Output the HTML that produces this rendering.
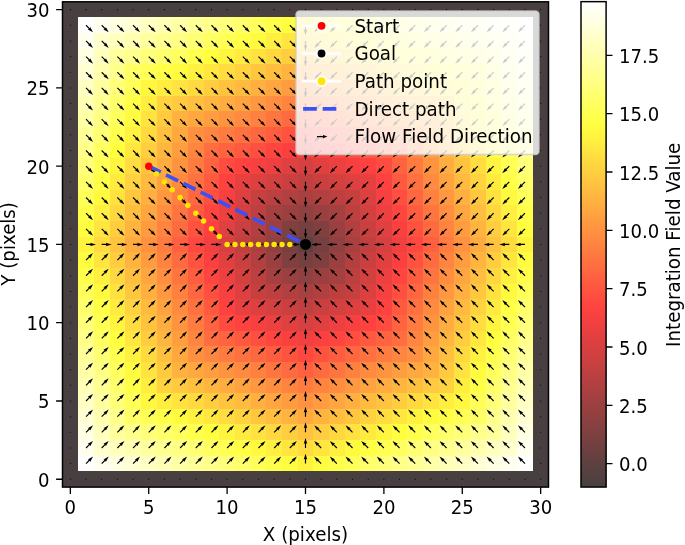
<!DOCTYPE html><html><head><meta charset="utf-8"><title>Flow Field</title><style>html,body{margin:0;padding:0;background:#fff}svg{display:block}</style></head><body><svg width="685" height="545" viewBox="0 0 685 545"><rect width="685" height="545" fill="#fff"/><g shape-rendering="crispEdges"><rect x="62.50" y="471.45" width="15.68" height="15.65" fill="#484040"/><rect x="78.18" y="471.45" width="15.68" height="15.65" fill="#484040"/><rect x="93.85" y="471.45" width="15.68" height="15.65" fill="#484040"/><rect x="109.53" y="471.45" width="15.68" height="15.65" fill="#484040"/><rect x="125.21" y="471.45" width="15.68" height="15.65" fill="#484040"/><rect x="140.89" y="471.45" width="15.68" height="15.65" fill="#484040"/><rect x="156.56" y="471.45" width="15.68" height="15.65" fill="#484040"/><rect x="172.24" y="471.45" width="15.68" height="15.65" fill="#484040"/><rect x="187.92" y="471.45" width="15.68" height="15.65" fill="#484040"/><rect x="203.60" y="471.45" width="15.68" height="15.65" fill="#484040"/><rect x="219.27" y="471.45" width="15.68" height="15.65" fill="#484040"/><rect x="234.95" y="471.45" width="15.68" height="15.65" fill="#484040"/><rect x="250.63" y="471.45" width="15.68" height="15.65" fill="#484040"/><rect x="266.31" y="471.45" width="15.68" height="15.65" fill="#484040"/><rect x="281.98" y="471.45" width="15.68" height="15.65" fill="#484040"/><rect x="297.66" y="471.45" width="15.68" height="15.65" fill="#484040"/><rect x="313.34" y="471.45" width="15.68" height="15.65" fill="#484040"/><rect x="329.02" y="471.45" width="15.68" height="15.65" fill="#484040"/><rect x="344.69" y="471.45" width="15.68" height="15.65" fill="#484040"/><rect x="360.37" y="471.45" width="15.68" height="15.65" fill="#484040"/><rect x="376.05" y="471.45" width="15.68" height="15.65" fill="#484040"/><rect x="391.73" y="471.45" width="15.68" height="15.65" fill="#484040"/><rect x="407.40" y="471.45" width="15.68" height="15.65" fill="#484040"/><rect x="423.08" y="471.45" width="15.68" height="15.65" fill="#484040"/><rect x="438.76" y="471.45" width="15.68" height="15.65" fill="#484040"/><rect x="454.44" y="471.45" width="15.68" height="15.65" fill="#484040"/><rect x="470.11" y="471.45" width="15.68" height="15.65" fill="#484040"/><rect x="485.79" y="471.45" width="15.68" height="15.65" fill="#484040"/><rect x="501.47" y="471.45" width="15.68" height="15.65" fill="#484040"/><rect x="517.15" y="471.45" width="15.68" height="15.65" fill="#484040"/><rect x="532.82" y="471.45" width="15.68" height="15.65" fill="#484040"/><rect x="62.50" y="455.79" width="15.68" height="15.65" fill="#484040"/><rect x="78.18" y="455.79" width="15.68" height="15.65" fill="#ffffff"/><rect x="93.85" y="455.79" width="15.68" height="15.65" fill="#fffff0"/><rect x="109.53" y="455.79" width="15.68" height="15.65" fill="#ffffe1"/><rect x="125.21" y="455.79" width="15.68" height="15.65" fill="#ffffd3"/><rect x="140.89" y="455.79" width="15.68" height="15.65" fill="#ffffc4"/><rect x="156.56" y="455.79" width="15.68" height="15.65" fill="#ffffb5"/><rect x="172.24" y="455.79" width="15.68" height="15.65" fill="#ffffa6"/><rect x="187.92" y="455.79" width="15.68" height="15.65" fill="#ffff98"/><rect x="203.60" y="455.79" width="15.68" height="15.65" fill="#ffff89"/><rect x="219.27" y="455.79" width="15.68" height="15.65" fill="#ffff7a"/><rect x="234.95" y="455.79" width="15.68" height="15.65" fill="#ffff6b"/><rect x="250.63" y="455.79" width="15.68" height="15.65" fill="#ffff5a"/><rect x="266.31" y="455.79" width="15.68" height="15.65" fill="#ffff4b"/><rect x="281.98" y="455.79" width="15.68" height="15.65" fill="#fffd40"/><rect x="297.66" y="455.79" width="15.68" height="15.65" fill="#fff340"/><rect x="313.34" y="455.79" width="15.68" height="15.65" fill="#fffd40"/><rect x="329.02" y="455.79" width="15.68" height="15.65" fill="#ffff4b"/><rect x="344.69" y="455.79" width="15.68" height="15.65" fill="#ffff5a"/><rect x="360.37" y="455.79" width="15.68" height="15.65" fill="#ffff6b"/><rect x="376.05" y="455.79" width="15.68" height="15.65" fill="#ffff7a"/><rect x="391.73" y="455.79" width="15.68" height="15.65" fill="#ffff89"/><rect x="407.40" y="455.79" width="15.68" height="15.65" fill="#ffff98"/><rect x="423.08" y="455.79" width="15.68" height="15.65" fill="#ffffa6"/><rect x="438.76" y="455.79" width="15.68" height="15.65" fill="#ffffb5"/><rect x="454.44" y="455.79" width="15.68" height="15.65" fill="#ffffc4"/><rect x="470.11" y="455.79" width="15.68" height="15.65" fill="#ffffd3"/><rect x="485.79" y="455.79" width="15.68" height="15.65" fill="#ffffe1"/><rect x="501.47" y="455.79" width="15.68" height="15.65" fill="#fffff0"/><rect x="517.15" y="455.79" width="15.68" height="15.65" fill="#ffffff"/><rect x="532.82" y="455.79" width="15.68" height="15.65" fill="#484040"/><rect x="62.50" y="440.14" width="15.68" height="15.65" fill="#484040"/><rect x="78.18" y="440.14" width="15.68" height="15.65" fill="#fffff0"/><rect x="93.85" y="440.14" width="15.68" height="15.65" fill="#ffffcd"/><rect x="109.53" y="440.14" width="15.68" height="15.65" fill="#ffffbe"/><rect x="125.21" y="440.14" width="15.68" height="15.65" fill="#ffffaf"/><rect x="140.89" y="440.14" width="15.68" height="15.65" fill="#ffffa0"/><rect x="156.56" y="440.14" width="15.68" height="15.65" fill="#ffff92"/><rect x="172.24" y="440.14" width="15.68" height="15.65" fill="#ffff83"/><rect x="187.92" y="440.14" width="15.68" height="15.65" fill="#ffff74"/><rect x="203.60" y="440.14" width="15.68" height="15.65" fill="#ffff62"/><rect x="219.27" y="440.14" width="15.68" height="15.65" fill="#ffff54"/><rect x="234.95" y="440.14" width="15.68" height="15.65" fill="#ffff45"/><rect x="250.63" y="440.14" width="15.68" height="15.65" fill="#fff940"/><rect x="266.31" y="440.14" width="15.68" height="15.65" fill="#ffef40"/><rect x="281.98" y="440.14" width="15.68" height="15.65" fill="#ffe540"/><rect x="297.66" y="440.14" width="15.68" height="15.65" fill="#ffdb40"/><rect x="313.34" y="440.14" width="15.68" height="15.65" fill="#ffe540"/><rect x="329.02" y="440.14" width="15.68" height="15.65" fill="#ffef40"/><rect x="344.69" y="440.14" width="15.68" height="15.65" fill="#fff940"/><rect x="360.37" y="440.14" width="15.68" height="15.65" fill="#ffff45"/><rect x="376.05" y="440.14" width="15.68" height="15.65" fill="#ffff54"/><rect x="391.73" y="440.14" width="15.68" height="15.65" fill="#ffff62"/><rect x="407.40" y="440.14" width="15.68" height="15.65" fill="#ffff74"/><rect x="423.08" y="440.14" width="15.68" height="15.65" fill="#ffff83"/><rect x="438.76" y="440.14" width="15.68" height="15.65" fill="#ffff92"/><rect x="454.44" y="440.14" width="15.68" height="15.65" fill="#ffffa0"/><rect x="470.11" y="440.14" width="15.68" height="15.65" fill="#ffffaf"/><rect x="485.79" y="440.14" width="15.68" height="15.65" fill="#ffffbe"/><rect x="501.47" y="440.14" width="15.68" height="15.65" fill="#ffffcd"/><rect x="517.15" y="440.14" width="15.68" height="15.65" fill="#fffff0"/><rect x="532.82" y="440.14" width="15.68" height="15.65" fill="#484040"/><rect x="62.50" y="424.48" width="15.68" height="15.65" fill="#484040"/><rect x="78.18" y="424.48" width="15.68" height="15.65" fill="#ffffe1"/><rect x="93.85" y="424.48" width="15.68" height="15.65" fill="#ffffbe"/><rect x="109.53" y="424.48" width="15.68" height="15.65" fill="#ffff9b"/><rect x="125.21" y="424.48" width="15.68" height="15.65" fill="#ffff8c"/><rect x="140.89" y="424.48" width="15.68" height="15.65" fill="#ffff7a"/><rect x="156.56" y="424.48" width="15.68" height="15.65" fill="#ffff6b"/><rect x="172.24" y="424.48" width="15.68" height="15.65" fill="#ffff5d"/><rect x="187.92" y="424.48" width="15.68" height="15.65" fill="#ffff4e"/><rect x="203.60" y="424.48" width="15.68" height="15.65" fill="#ffff40"/><rect x="219.27" y="424.48" width="15.68" height="15.65" fill="#fff540"/><rect x="234.95" y="424.48" width="15.68" height="15.65" fill="#ffeb40"/><rect x="250.63" y="424.48" width="15.68" height="15.65" fill="#ffe140"/><rect x="266.31" y="424.48" width="15.68" height="15.65" fill="#ffd740"/><rect x="281.98" y="424.48" width="15.68" height="15.65" fill="#ffcd40"/><rect x="297.66" y="424.48" width="15.68" height="15.65" fill="#ffc340"/><rect x="313.34" y="424.48" width="15.68" height="15.65" fill="#ffcd40"/><rect x="329.02" y="424.48" width="15.68" height="15.65" fill="#ffd740"/><rect x="344.69" y="424.48" width="15.68" height="15.65" fill="#ffe140"/><rect x="360.37" y="424.48" width="15.68" height="15.65" fill="#ffeb40"/><rect x="376.05" y="424.48" width="15.68" height="15.65" fill="#fff540"/><rect x="391.73" y="424.48" width="15.68" height="15.65" fill="#ffff40"/><rect x="407.40" y="424.48" width="15.68" height="15.65" fill="#ffff4e"/><rect x="423.08" y="424.48" width="15.68" height="15.65" fill="#ffff5d"/><rect x="438.76" y="424.48" width="15.68" height="15.65" fill="#ffff6b"/><rect x="454.44" y="424.48" width="15.68" height="15.65" fill="#ffff7a"/><rect x="470.11" y="424.48" width="15.68" height="15.65" fill="#ffff8c"/><rect x="485.79" y="424.48" width="15.68" height="15.65" fill="#ffff9b"/><rect x="501.47" y="424.48" width="15.68" height="15.65" fill="#ffffbe"/><rect x="517.15" y="424.48" width="15.68" height="15.65" fill="#ffffe1"/><rect x="532.82" y="424.48" width="15.68" height="15.65" fill="#484040"/><rect x="62.50" y="408.83" width="15.68" height="15.65" fill="#484040"/><rect x="78.18" y="408.83" width="15.68" height="15.65" fill="#ffffd3"/><rect x="93.85" y="408.83" width="15.68" height="15.65" fill="#ffffaf"/><rect x="109.53" y="408.83" width="15.68" height="15.65" fill="#ffff8c"/><rect x="125.21" y="408.83" width="15.68" height="15.65" fill="#ffff65"/><rect x="140.89" y="408.83" width="15.68" height="15.65" fill="#ffff57"/><rect x="156.56" y="408.83" width="15.68" height="15.65" fill="#ffff48"/><rect x="172.24" y="408.83" width="15.68" height="15.65" fill="#fffb40"/><rect x="187.92" y="408.83" width="15.68" height="15.65" fill="#fff140"/><rect x="203.60" y="408.83" width="15.68" height="15.65" fill="#ffe740"/><rect x="219.27" y="408.83" width="15.68" height="15.65" fill="#ffdd40"/><rect x="234.95" y="408.83" width="15.68" height="15.65" fill="#ffd340"/><rect x="250.63" y="408.83" width="15.68" height="15.65" fill="#ffc740"/><rect x="266.31" y="408.83" width="15.68" height="15.65" fill="#ffbe40"/><rect x="281.98" y="408.83" width="15.68" height="15.65" fill="#ffb440"/><rect x="297.66" y="408.83" width="15.68" height="15.65" fill="#ffaa40"/><rect x="313.34" y="408.83" width="15.68" height="15.65" fill="#ffb440"/><rect x="329.02" y="408.83" width="15.68" height="15.65" fill="#ffbe40"/><rect x="344.69" y="408.83" width="15.68" height="15.65" fill="#ffc740"/><rect x="360.37" y="408.83" width="15.68" height="15.65" fill="#ffd340"/><rect x="376.05" y="408.83" width="15.68" height="15.65" fill="#ffdd40"/><rect x="391.73" y="408.83" width="15.68" height="15.65" fill="#ffe740"/><rect x="407.40" y="408.83" width="15.68" height="15.65" fill="#fff140"/><rect x="423.08" y="408.83" width="15.68" height="15.65" fill="#fffb40"/><rect x="438.76" y="408.83" width="15.68" height="15.65" fill="#ffff48"/><rect x="454.44" y="408.83" width="15.68" height="15.65" fill="#ffff57"/><rect x="470.11" y="408.83" width="15.68" height="15.65" fill="#ffff65"/><rect x="485.79" y="408.83" width="15.68" height="15.65" fill="#ffff8c"/><rect x="501.47" y="408.83" width="15.68" height="15.65" fill="#ffffaf"/><rect x="517.15" y="408.83" width="15.68" height="15.65" fill="#ffffd3"/><rect x="532.82" y="408.83" width="15.68" height="15.65" fill="#484040"/><rect x="62.50" y="393.17" width="15.68" height="15.65" fill="#484040"/><rect x="78.18" y="393.17" width="15.68" height="15.65" fill="#ffffc4"/><rect x="93.85" y="393.17" width="15.68" height="15.65" fill="#ffffa0"/><rect x="109.53" y="393.17" width="15.68" height="15.65" fill="#ffff7a"/><rect x="125.21" y="393.17" width="15.68" height="15.65" fill="#ffff57"/><rect x="140.89" y="393.17" width="15.68" height="15.65" fill="#fff740"/><rect x="156.56" y="393.17" width="15.68" height="15.65" fill="#ffed40"/><rect x="172.24" y="393.17" width="15.68" height="15.65" fill="#ffe340"/><rect x="187.92" y="393.17" width="15.68" height="15.65" fill="#ffd940"/><rect x="203.60" y="393.17" width="15.68" height="15.65" fill="#ffcd40"/><rect x="219.27" y="393.17" width="15.68" height="15.65" fill="#ffc340"/><rect x="234.95" y="393.17" width="15.68" height="15.65" fill="#ffba40"/><rect x="250.63" y="393.17" width="15.68" height="15.65" fill="#ffb040"/><rect x="266.31" y="393.17" width="15.68" height="15.65" fill="#ffa640"/><rect x="281.98" y="393.17" width="15.68" height="15.65" fill="#ff9c40"/><rect x="297.66" y="393.17" width="15.68" height="15.65" fill="#ff9240"/><rect x="313.34" y="393.17" width="15.68" height="15.65" fill="#ff9c40"/><rect x="329.02" y="393.17" width="15.68" height="15.65" fill="#ffa640"/><rect x="344.69" y="393.17" width="15.68" height="15.65" fill="#ffb040"/><rect x="360.37" y="393.17" width="15.68" height="15.65" fill="#ffba40"/><rect x="376.05" y="393.17" width="15.68" height="15.65" fill="#ffc340"/><rect x="391.73" y="393.17" width="15.68" height="15.65" fill="#ffcd40"/><rect x="407.40" y="393.17" width="15.68" height="15.65" fill="#ffd940"/><rect x="423.08" y="393.17" width="15.68" height="15.65" fill="#ffe340"/><rect x="438.76" y="393.17" width="15.68" height="15.65" fill="#ffed40"/><rect x="454.44" y="393.17" width="15.68" height="15.65" fill="#fff740"/><rect x="470.11" y="393.17" width="15.68" height="15.65" fill="#ffff57"/><rect x="485.79" y="393.17" width="15.68" height="15.65" fill="#ffff7a"/><rect x="501.47" y="393.17" width="15.68" height="15.65" fill="#ffffa0"/><rect x="517.15" y="393.17" width="15.68" height="15.65" fill="#ffffc4"/><rect x="532.82" y="393.17" width="15.68" height="15.65" fill="#484040"/><rect x="62.50" y="377.52" width="15.68" height="15.65" fill="#484040"/><rect x="78.18" y="377.52" width="15.68" height="15.65" fill="#ffffb5"/><rect x="93.85" y="377.52" width="15.68" height="15.65" fill="#ffff92"/><rect x="109.53" y="377.52" width="15.68" height="15.65" fill="#ffff6b"/><rect x="125.21" y="377.52" width="15.68" height="15.65" fill="#ffff48"/><rect x="140.89" y="377.52" width="15.68" height="15.65" fill="#ffed40"/><rect x="156.56" y="377.52" width="15.68" height="15.65" fill="#ffd340"/><rect x="172.24" y="377.52" width="15.68" height="15.65" fill="#ffc940"/><rect x="187.92" y="377.52" width="15.68" height="15.65" fill="#ffc040"/><rect x="203.60" y="377.52" width="15.68" height="15.65" fill="#ffb640"/><rect x="219.27" y="377.52" width="15.68" height="15.65" fill="#ffac40"/><rect x="234.95" y="377.52" width="15.68" height="15.65" fill="#ffa240"/><rect x="250.63" y="377.52" width="15.68" height="15.65" fill="#ff9840"/><rect x="266.31" y="377.52" width="15.68" height="15.65" fill="#ff8e40"/><rect x="281.98" y="377.52" width="15.68" height="15.65" fill="#ff8440"/><rect x="297.66" y="377.52" width="15.68" height="15.65" fill="#ff7b40"/><rect x="313.34" y="377.52" width="15.68" height="15.65" fill="#ff8440"/><rect x="329.02" y="377.52" width="15.68" height="15.65" fill="#ff8e40"/><rect x="344.69" y="377.52" width="15.68" height="15.65" fill="#ff9840"/><rect x="360.37" y="377.52" width="15.68" height="15.65" fill="#ffa240"/><rect x="376.05" y="377.52" width="15.68" height="15.65" fill="#ffac40"/><rect x="391.73" y="377.52" width="15.68" height="15.65" fill="#ffb640"/><rect x="407.40" y="377.52" width="15.68" height="15.65" fill="#ffc040"/><rect x="423.08" y="377.52" width="15.68" height="15.65" fill="#ffc940"/><rect x="438.76" y="377.52" width="15.68" height="15.65" fill="#ffd340"/><rect x="454.44" y="377.52" width="15.68" height="15.65" fill="#ffed40"/><rect x="470.11" y="377.52" width="15.68" height="15.65" fill="#ffff48"/><rect x="485.79" y="377.52" width="15.68" height="15.65" fill="#ffff6b"/><rect x="501.47" y="377.52" width="15.68" height="15.65" fill="#ffff92"/><rect x="517.15" y="377.52" width="15.68" height="15.65" fill="#ffffb5"/><rect x="532.82" y="377.52" width="15.68" height="15.65" fill="#484040"/><rect x="62.50" y="361.86" width="15.68" height="15.65" fill="#484040"/><rect x="78.18" y="361.86" width="15.68" height="15.65" fill="#ffffa6"/><rect x="93.85" y="361.86" width="15.68" height="15.65" fill="#ffff83"/><rect x="109.53" y="361.86" width="15.68" height="15.65" fill="#ffff5d"/><rect x="125.21" y="361.86" width="15.68" height="15.65" fill="#fffb40"/><rect x="140.89" y="361.86" width="15.68" height="15.65" fill="#ffe340"/><rect x="156.56" y="361.86" width="15.68" height="15.65" fill="#ffc940"/><rect x="172.24" y="361.86" width="15.68" height="15.65" fill="#ffb240"/><rect x="187.92" y="361.86" width="15.68" height="15.65" fill="#ffa840"/><rect x="203.60" y="361.86" width="15.68" height="15.65" fill="#ff9e40"/><rect x="219.27" y="361.86" width="15.68" height="15.65" fill="#ff9440"/><rect x="234.95" y="361.86" width="15.68" height="15.65" fill="#ff8a40"/><rect x="250.63" y="361.86" width="15.68" height="15.65" fill="#ff8140"/><rect x="266.31" y="361.86" width="15.68" height="15.65" fill="#ff7540"/><rect x="281.98" y="361.86" width="15.68" height="15.65" fill="#ff6b40"/><rect x="297.66" y="361.86" width="15.68" height="15.65" fill="#ff6140"/><rect x="313.34" y="361.86" width="15.68" height="15.65" fill="#ff6b40"/><rect x="329.02" y="361.86" width="15.68" height="15.65" fill="#ff7540"/><rect x="344.69" y="361.86" width="15.68" height="15.65" fill="#ff8140"/><rect x="360.37" y="361.86" width="15.68" height="15.65" fill="#ff8a40"/><rect x="376.05" y="361.86" width="15.68" height="15.65" fill="#ff9440"/><rect x="391.73" y="361.86" width="15.68" height="15.65" fill="#ff9e40"/><rect x="407.40" y="361.86" width="15.68" height="15.65" fill="#ffa840"/><rect x="423.08" y="361.86" width="15.68" height="15.65" fill="#ffb240"/><rect x="438.76" y="361.86" width="15.68" height="15.65" fill="#ffc940"/><rect x="454.44" y="361.86" width="15.68" height="15.65" fill="#ffe340"/><rect x="470.11" y="361.86" width="15.68" height="15.65" fill="#fffb40"/><rect x="485.79" y="361.86" width="15.68" height="15.65" fill="#ffff5d"/><rect x="501.47" y="361.86" width="15.68" height="15.65" fill="#ffff83"/><rect x="517.15" y="361.86" width="15.68" height="15.65" fill="#ffffa6"/><rect x="532.82" y="361.86" width="15.68" height="15.65" fill="#484040"/><rect x="62.50" y="346.21" width="15.68" height="15.65" fill="#484040"/><rect x="78.18" y="346.21" width="15.68" height="15.65" fill="#ffff98"/><rect x="93.85" y="346.21" width="15.68" height="15.65" fill="#ffff74"/><rect x="109.53" y="346.21" width="15.68" height="15.65" fill="#ffff4e"/><rect x="125.21" y="346.21" width="15.68" height="15.65" fill="#fff140"/><rect x="140.89" y="346.21" width="15.68" height="15.65" fill="#ffd940"/><rect x="156.56" y="346.21" width="15.68" height="15.65" fill="#ffc040"/><rect x="172.24" y="346.21" width="15.68" height="15.65" fill="#ffa840"/><rect x="187.92" y="346.21" width="15.68" height="15.65" fill="#ff9040"/><rect x="203.60" y="346.21" width="15.68" height="15.65" fill="#ff8640"/><rect x="219.27" y="346.21" width="15.68" height="15.65" fill="#ff7b40"/><rect x="234.95" y="346.21" width="15.68" height="15.65" fill="#ff7140"/><rect x="250.63" y="346.21" width="15.68" height="15.65" fill="#ff6740"/><rect x="266.31" y="346.21" width="15.68" height="15.65" fill="#ff5d40"/><rect x="281.98" y="346.21" width="15.68" height="15.65" fill="#ff5340"/><rect x="297.66" y="346.21" width="15.68" height="15.65" fill="#ff4940"/><rect x="313.34" y="346.21" width="15.68" height="15.65" fill="#ff5340"/><rect x="329.02" y="346.21" width="15.68" height="15.65" fill="#ff5d40"/><rect x="344.69" y="346.21" width="15.68" height="15.65" fill="#ff6740"/><rect x="360.37" y="346.21" width="15.68" height="15.65" fill="#ff7140"/><rect x="376.05" y="346.21" width="15.68" height="15.65" fill="#ff7b40"/><rect x="391.73" y="346.21" width="15.68" height="15.65" fill="#ff8640"/><rect x="407.40" y="346.21" width="15.68" height="15.65" fill="#ff9040"/><rect x="423.08" y="346.21" width="15.68" height="15.65" fill="#ffa840"/><rect x="438.76" y="346.21" width="15.68" height="15.65" fill="#ffc040"/><rect x="454.44" y="346.21" width="15.68" height="15.65" fill="#ffd940"/><rect x="470.11" y="346.21" width="15.68" height="15.65" fill="#fff140"/><rect x="485.79" y="346.21" width="15.68" height="15.65" fill="#ffff4e"/><rect x="501.47" y="346.21" width="15.68" height="15.65" fill="#ffff74"/><rect x="517.15" y="346.21" width="15.68" height="15.65" fill="#ffff98"/><rect x="532.82" y="346.21" width="15.68" height="15.65" fill="#484040"/><rect x="62.50" y="330.55" width="15.68" height="15.65" fill="#484040"/><rect x="78.18" y="330.55" width="15.68" height="15.65" fill="#ffff89"/><rect x="93.85" y="330.55" width="15.68" height="15.65" fill="#ffff62"/><rect x="109.53" y="330.55" width="15.68" height="15.65" fill="#ffff40"/><rect x="125.21" y="330.55" width="15.68" height="15.65" fill="#ffe740"/><rect x="140.89" y="330.55" width="15.68" height="15.65" fill="#ffcd40"/><rect x="156.56" y="330.55" width="15.68" height="15.65" fill="#ffb640"/><rect x="172.24" y="330.55" width="15.68" height="15.65" fill="#ff9e40"/><rect x="187.92" y="330.55" width="15.68" height="15.65" fill="#ff8640"/><rect x="203.60" y="330.55" width="15.68" height="15.65" fill="#ff6d40"/><rect x="219.27" y="330.55" width="15.68" height="15.65" fill="#ff6340"/><rect x="234.95" y="330.55" width="15.68" height="15.65" fill="#ff5940"/><rect x="250.63" y="330.55" width="15.68" height="15.65" fill="#ff4f40"/><rect x="266.31" y="330.55" width="15.68" height="15.65" fill="#ff4540"/><rect x="281.98" y="330.55" width="15.68" height="15.65" fill="#fb4040"/><rect x="297.66" y="330.55" width="15.68" height="15.65" fill="#f14040"/><rect x="313.34" y="330.55" width="15.68" height="15.65" fill="#fb4040"/><rect x="329.02" y="330.55" width="15.68" height="15.65" fill="#ff4540"/><rect x="344.69" y="330.55" width="15.68" height="15.65" fill="#ff4f40"/><rect x="360.37" y="330.55" width="15.68" height="15.65" fill="#ff5940"/><rect x="376.05" y="330.55" width="15.68" height="15.65" fill="#ff6340"/><rect x="391.73" y="330.55" width="15.68" height="15.65" fill="#ff6d40"/><rect x="407.40" y="330.55" width="15.68" height="15.65" fill="#ff8640"/><rect x="423.08" y="330.55" width="15.68" height="15.65" fill="#ff9e40"/><rect x="438.76" y="330.55" width="15.68" height="15.65" fill="#ffb640"/><rect x="454.44" y="330.55" width="15.68" height="15.65" fill="#ffcd40"/><rect x="470.11" y="330.55" width="15.68" height="15.65" fill="#ffe740"/><rect x="485.79" y="330.55" width="15.68" height="15.65" fill="#ffff40"/><rect x="501.47" y="330.55" width="15.68" height="15.65" fill="#ffff62"/><rect x="517.15" y="330.55" width="15.68" height="15.65" fill="#ffff89"/><rect x="532.82" y="330.55" width="15.68" height="15.65" fill="#484040"/><rect x="62.50" y="314.90" width="15.68" height="15.65" fill="#484040"/><rect x="78.18" y="314.90" width="15.68" height="15.65" fill="#ffff7a"/><rect x="93.85" y="314.90" width="15.68" height="15.65" fill="#ffff54"/><rect x="109.53" y="314.90" width="15.68" height="15.65" fill="#fff540"/><rect x="125.21" y="314.90" width="15.68" height="15.65" fill="#ffdd40"/><rect x="140.89" y="314.90" width="15.68" height="15.65" fill="#ffc340"/><rect x="156.56" y="314.90" width="15.68" height="15.65" fill="#ffac40"/><rect x="172.24" y="314.90" width="15.68" height="15.65" fill="#ff9440"/><rect x="187.92" y="314.90" width="15.68" height="15.65" fill="#ff7b40"/><rect x="203.60" y="314.90" width="15.68" height="15.65" fill="#ff6340"/><rect x="219.27" y="314.90" width="15.68" height="15.65" fill="#ff4b40"/><rect x="234.95" y="314.90" width="15.68" height="15.65" fill="#ff4240"/><rect x="250.63" y="314.90" width="15.68" height="15.65" fill="#f74040"/><rect x="266.31" y="314.90" width="15.68" height="15.65" fill="#ed4040"/><rect x="281.98" y="314.90" width="15.68" height="15.65" fill="#e14040"/><rect x="297.66" y="314.90" width="15.68" height="15.65" fill="#d74040"/><rect x="313.34" y="314.90" width="15.68" height="15.65" fill="#e14040"/><rect x="329.02" y="314.90" width="15.68" height="15.65" fill="#ed4040"/><rect x="344.69" y="314.90" width="15.68" height="15.65" fill="#f74040"/><rect x="360.37" y="314.90" width="15.68" height="15.65" fill="#ff4240"/><rect x="376.05" y="314.90" width="15.68" height="15.65" fill="#ff4b40"/><rect x="391.73" y="314.90" width="15.68" height="15.65" fill="#ff6340"/><rect x="407.40" y="314.90" width="15.68" height="15.65" fill="#ff7b40"/><rect x="423.08" y="314.90" width="15.68" height="15.65" fill="#ff9440"/><rect x="438.76" y="314.90" width="15.68" height="15.65" fill="#ffac40"/><rect x="454.44" y="314.90" width="15.68" height="15.65" fill="#ffc340"/><rect x="470.11" y="314.90" width="15.68" height="15.65" fill="#ffdd40"/><rect x="485.79" y="314.90" width="15.68" height="15.65" fill="#fff540"/><rect x="501.47" y="314.90" width="15.68" height="15.65" fill="#ffff54"/><rect x="517.15" y="314.90" width="15.68" height="15.65" fill="#ffff7a"/><rect x="532.82" y="314.90" width="15.68" height="15.65" fill="#484040"/><rect x="62.50" y="299.24" width="15.68" height="15.65" fill="#484040"/><rect x="78.18" y="299.24" width="15.68" height="15.65" fill="#ffff6b"/><rect x="93.85" y="299.24" width="15.68" height="15.65" fill="#ffff45"/><rect x="109.53" y="299.24" width="15.68" height="15.65" fill="#ffeb40"/><rect x="125.21" y="299.24" width="15.68" height="15.65" fill="#ffd340"/><rect x="140.89" y="299.24" width="15.68" height="15.65" fill="#ffba40"/><rect x="156.56" y="299.24" width="15.68" height="15.65" fill="#ffa240"/><rect x="172.24" y="299.24" width="15.68" height="15.65" fill="#ff8a40"/><rect x="187.92" y="299.24" width="15.68" height="15.65" fill="#ff7140"/><rect x="203.60" y="299.24" width="15.68" height="15.65" fill="#ff5940"/><rect x="219.27" y="299.24" width="15.68" height="15.65" fill="#ff4240"/><rect x="234.95" y="299.24" width="15.68" height="15.65" fill="#e74040"/><rect x="250.63" y="299.24" width="15.68" height="15.65" fill="#dd4040"/><rect x="266.31" y="299.24" width="15.68" height="15.65" fill="#d34040"/><rect x="281.98" y="299.24" width="15.68" height="15.65" fill="#ca4040"/><rect x="297.66" y="299.24" width="15.68" height="15.65" fill="#c04040"/><rect x="313.34" y="299.24" width="15.68" height="15.65" fill="#ca4040"/><rect x="329.02" y="299.24" width="15.68" height="15.65" fill="#d34040"/><rect x="344.69" y="299.24" width="15.68" height="15.65" fill="#dd4040"/><rect x="360.37" y="299.24" width="15.68" height="15.65" fill="#e74040"/><rect x="376.05" y="299.24" width="15.68" height="15.65" fill="#ff4240"/><rect x="391.73" y="299.24" width="15.68" height="15.65" fill="#ff5940"/><rect x="407.40" y="299.24" width="15.68" height="15.65" fill="#ff7140"/><rect x="423.08" y="299.24" width="15.68" height="15.65" fill="#ff8a40"/><rect x="438.76" y="299.24" width="15.68" height="15.65" fill="#ffa240"/><rect x="454.44" y="299.24" width="15.68" height="15.65" fill="#ffba40"/><rect x="470.11" y="299.24" width="15.68" height="15.65" fill="#ffd340"/><rect x="485.79" y="299.24" width="15.68" height="15.65" fill="#ffeb40"/><rect x="501.47" y="299.24" width="15.68" height="15.65" fill="#ffff45"/><rect x="517.15" y="299.24" width="15.68" height="15.65" fill="#ffff6b"/><rect x="532.82" y="299.24" width="15.68" height="15.65" fill="#484040"/><rect x="62.50" y="283.59" width="15.68" height="15.65" fill="#484040"/><rect x="78.18" y="283.59" width="15.68" height="15.65" fill="#ffff5a"/><rect x="93.85" y="283.59" width="15.68" height="15.65" fill="#fff940"/><rect x="109.53" y="283.59" width="15.68" height="15.65" fill="#ffe140"/><rect x="125.21" y="283.59" width="15.68" height="15.65" fill="#ffc740"/><rect x="140.89" y="283.59" width="15.68" height="15.65" fill="#ffb040"/><rect x="156.56" y="283.59" width="15.68" height="15.65" fill="#ff9840"/><rect x="172.24" y="283.59" width="15.68" height="15.65" fill="#ff8140"/><rect x="187.92" y="283.59" width="15.68" height="15.65" fill="#ff6740"/><rect x="203.60" y="283.59" width="15.68" height="15.65" fill="#ff4f40"/><rect x="219.27" y="283.59" width="15.68" height="15.65" fill="#f74040"/><rect x="234.95" y="283.59" width="15.68" height="15.65" fill="#dd4040"/><rect x="250.63" y="283.59" width="15.68" height="15.65" fill="#c64040"/><rect x="266.31" y="283.59" width="15.68" height="15.65" fill="#bc4040"/><rect x="281.98" y="283.59" width="15.68" height="15.65" fill="#b24040"/><rect x="297.66" y="283.59" width="15.68" height="15.65" fill="#a84040"/><rect x="313.34" y="283.59" width="15.68" height="15.65" fill="#b24040"/><rect x="329.02" y="283.59" width="15.68" height="15.65" fill="#bc4040"/><rect x="344.69" y="283.59" width="15.68" height="15.65" fill="#c64040"/><rect x="360.37" y="283.59" width="15.68" height="15.65" fill="#dd4040"/><rect x="376.05" y="283.59" width="15.68" height="15.65" fill="#f74040"/><rect x="391.73" y="283.59" width="15.68" height="15.65" fill="#ff4f40"/><rect x="407.40" y="283.59" width="15.68" height="15.65" fill="#ff6740"/><rect x="423.08" y="283.59" width="15.68" height="15.65" fill="#ff8140"/><rect x="438.76" y="283.59" width="15.68" height="15.65" fill="#ff9840"/><rect x="454.44" y="283.59" width="15.68" height="15.65" fill="#ffb040"/><rect x="470.11" y="283.59" width="15.68" height="15.65" fill="#ffc740"/><rect x="485.79" y="283.59" width="15.68" height="15.65" fill="#ffe140"/><rect x="501.47" y="283.59" width="15.68" height="15.65" fill="#fff940"/><rect x="517.15" y="283.59" width="15.68" height="15.65" fill="#ffff5a"/><rect x="532.82" y="283.59" width="15.68" height="15.65" fill="#484040"/><rect x="62.50" y="267.93" width="15.68" height="15.65" fill="#484040"/><rect x="78.18" y="267.93" width="15.68" height="15.65" fill="#ffff4b"/><rect x="93.85" y="267.93" width="15.68" height="15.65" fill="#ffef40"/><rect x="109.53" y="267.93" width="15.68" height="15.65" fill="#ffd740"/><rect x="125.21" y="267.93" width="15.68" height="15.65" fill="#ffbe40"/><rect x="140.89" y="267.93" width="15.68" height="15.65" fill="#ffa640"/><rect x="156.56" y="267.93" width="15.68" height="15.65" fill="#ff8e40"/><rect x="172.24" y="267.93" width="15.68" height="15.65" fill="#ff7540"/><rect x="187.92" y="267.93" width="15.68" height="15.65" fill="#ff5d40"/><rect x="203.60" y="267.93" width="15.68" height="15.65" fill="#ff4540"/><rect x="219.27" y="267.93" width="15.68" height="15.65" fill="#ed4040"/><rect x="234.95" y="267.93" width="15.68" height="15.65" fill="#d34040"/><rect x="250.63" y="267.93" width="15.68" height="15.65" fill="#bc4040"/><rect x="266.31" y="267.93" width="15.68" height="15.65" fill="#a44040"/><rect x="281.98" y="267.93" width="15.68" height="15.65" fill="#9a4040"/><rect x="297.66" y="267.93" width="15.68" height="15.65" fill="#8f4040"/><rect x="313.34" y="267.93" width="15.68" height="15.65" fill="#9a4040"/><rect x="329.02" y="267.93" width="15.68" height="15.65" fill="#a44040"/><rect x="344.69" y="267.93" width="15.68" height="15.65" fill="#bc4040"/><rect x="360.37" y="267.93" width="15.68" height="15.65" fill="#d34040"/><rect x="376.05" y="267.93" width="15.68" height="15.65" fill="#ed4040"/><rect x="391.73" y="267.93" width="15.68" height="15.65" fill="#ff4540"/><rect x="407.40" y="267.93" width="15.68" height="15.65" fill="#ff5d40"/><rect x="423.08" y="267.93" width="15.68" height="15.65" fill="#ff7540"/><rect x="438.76" y="267.93" width="15.68" height="15.65" fill="#ff8e40"/><rect x="454.44" y="267.93" width="15.68" height="15.65" fill="#ffa640"/><rect x="470.11" y="267.93" width="15.68" height="15.65" fill="#ffbe40"/><rect x="485.79" y="267.93" width="15.68" height="15.65" fill="#ffd740"/><rect x="501.47" y="267.93" width="15.68" height="15.65" fill="#ffef40"/><rect x="517.15" y="267.93" width="15.68" height="15.65" fill="#ffff4b"/><rect x="532.82" y="267.93" width="15.68" height="15.65" fill="#484040"/><rect x="62.50" y="252.28" width="15.68" height="15.65" fill="#484040"/><rect x="78.18" y="252.28" width="15.68" height="15.65" fill="#fffd40"/><rect x="93.85" y="252.28" width="15.68" height="15.65" fill="#ffe540"/><rect x="109.53" y="252.28" width="15.68" height="15.65" fill="#ffcd40"/><rect x="125.21" y="252.28" width="15.68" height="15.65" fill="#ffb440"/><rect x="140.89" y="252.28" width="15.68" height="15.65" fill="#ff9c40"/><rect x="156.56" y="252.28" width="15.68" height="15.65" fill="#ff8440"/><rect x="172.24" y="252.28" width="15.68" height="15.65" fill="#ff6b40"/><rect x="187.92" y="252.28" width="15.68" height="15.65" fill="#ff5340"/><rect x="203.60" y="252.28" width="15.68" height="15.65" fill="#fb4040"/><rect x="219.27" y="252.28" width="15.68" height="15.65" fill="#e14040"/><rect x="234.95" y="252.28" width="15.68" height="15.65" fill="#ca4040"/><rect x="250.63" y="252.28" width="15.68" height="15.65" fill="#b24040"/><rect x="266.31" y="252.28" width="15.68" height="15.65" fill="#9a4040"/><rect x="281.98" y="252.28" width="15.68" height="15.65" fill="#814040"/><rect x="297.66" y="252.28" width="15.68" height="15.65" fill="#774040"/><rect x="313.34" y="252.28" width="15.68" height="15.65" fill="#814040"/><rect x="329.02" y="252.28" width="15.68" height="15.65" fill="#9a4040"/><rect x="344.69" y="252.28" width="15.68" height="15.65" fill="#b24040"/><rect x="360.37" y="252.28" width="15.68" height="15.65" fill="#ca4040"/><rect x="376.05" y="252.28" width="15.68" height="15.65" fill="#e14040"/><rect x="391.73" y="252.28" width="15.68" height="15.65" fill="#fb4040"/><rect x="407.40" y="252.28" width="15.68" height="15.65" fill="#ff5340"/><rect x="423.08" y="252.28" width="15.68" height="15.65" fill="#ff6b40"/><rect x="438.76" y="252.28" width="15.68" height="15.65" fill="#ff8440"/><rect x="454.44" y="252.28" width="15.68" height="15.65" fill="#ff9c40"/><rect x="470.11" y="252.28" width="15.68" height="15.65" fill="#ffb440"/><rect x="485.79" y="252.28" width="15.68" height="15.65" fill="#ffcd40"/><rect x="501.47" y="252.28" width="15.68" height="15.65" fill="#ffe540"/><rect x="517.15" y="252.28" width="15.68" height="15.65" fill="#fffd40"/><rect x="532.82" y="252.28" width="15.68" height="15.65" fill="#484040"/><rect x="62.50" y="236.62" width="15.68" height="15.65" fill="#484040"/><rect x="78.18" y="236.62" width="15.68" height="15.65" fill="#fff340"/><rect x="93.85" y="236.62" width="15.68" height="15.65" fill="#ffdb40"/><rect x="109.53" y="236.62" width="15.68" height="15.65" fill="#ffc340"/><rect x="125.21" y="236.62" width="15.68" height="15.65" fill="#ffaa40"/><rect x="140.89" y="236.62" width="15.68" height="15.65" fill="#ff9240"/><rect x="156.56" y="236.62" width="15.68" height="15.65" fill="#ff7b40"/><rect x="172.24" y="236.62" width="15.68" height="15.65" fill="#ff6140"/><rect x="187.92" y="236.62" width="15.68" height="15.65" fill="#ff4940"/><rect x="203.60" y="236.62" width="15.68" height="15.65" fill="#f14040"/><rect x="219.27" y="236.62" width="15.68" height="15.65" fill="#d74040"/><rect x="234.95" y="236.62" width="15.68" height="15.65" fill="#c04040"/><rect x="250.63" y="236.62" width="15.68" height="15.65" fill="#a84040"/><rect x="266.31" y="236.62" width="15.68" height="15.65" fill="#8f4040"/><rect x="281.98" y="236.62" width="15.68" height="15.65" fill="#774040"/><rect x="297.66" y="236.62" width="15.68" height="15.65" fill="#5f4040"/><rect x="313.34" y="236.62" width="15.68" height="15.65" fill="#774040"/><rect x="329.02" y="236.62" width="15.68" height="15.65" fill="#8f4040"/><rect x="344.69" y="236.62" width="15.68" height="15.65" fill="#a84040"/><rect x="360.37" y="236.62" width="15.68" height="15.65" fill="#c04040"/><rect x="376.05" y="236.62" width="15.68" height="15.65" fill="#d74040"/><rect x="391.73" y="236.62" width="15.68" height="15.65" fill="#f14040"/><rect x="407.40" y="236.62" width="15.68" height="15.65" fill="#ff4940"/><rect x="423.08" y="236.62" width="15.68" height="15.65" fill="#ff6140"/><rect x="438.76" y="236.62" width="15.68" height="15.65" fill="#ff7b40"/><rect x="454.44" y="236.62" width="15.68" height="15.65" fill="#ff9240"/><rect x="470.11" y="236.62" width="15.68" height="15.65" fill="#ffaa40"/><rect x="485.79" y="236.62" width="15.68" height="15.65" fill="#ffc340"/><rect x="501.47" y="236.62" width="15.68" height="15.65" fill="#ffdb40"/><rect x="517.15" y="236.62" width="15.68" height="15.65" fill="#fff340"/><rect x="532.82" y="236.62" width="15.68" height="15.65" fill="#484040"/><rect x="62.50" y="220.97" width="15.68" height="15.65" fill="#484040"/><rect x="78.18" y="220.97" width="15.68" height="15.65" fill="#fffd40"/><rect x="93.85" y="220.97" width="15.68" height="15.65" fill="#ffe540"/><rect x="109.53" y="220.97" width="15.68" height="15.65" fill="#ffcd40"/><rect x="125.21" y="220.97" width="15.68" height="15.65" fill="#ffb440"/><rect x="140.89" y="220.97" width="15.68" height="15.65" fill="#ff9c40"/><rect x="156.56" y="220.97" width="15.68" height="15.65" fill="#ff8440"/><rect x="172.24" y="220.97" width="15.68" height="15.65" fill="#ff6b40"/><rect x="187.92" y="220.97" width="15.68" height="15.65" fill="#ff5340"/><rect x="203.60" y="220.97" width="15.68" height="15.65" fill="#fb4040"/><rect x="219.27" y="220.97" width="15.68" height="15.65" fill="#e14040"/><rect x="234.95" y="220.97" width="15.68" height="15.65" fill="#ca4040"/><rect x="250.63" y="220.97" width="15.68" height="15.65" fill="#b24040"/><rect x="266.31" y="220.97" width="15.68" height="15.65" fill="#9a4040"/><rect x="281.98" y="220.97" width="15.68" height="15.65" fill="#814040"/><rect x="297.66" y="220.97" width="15.68" height="15.65" fill="#774040"/><rect x="313.34" y="220.97" width="15.68" height="15.65" fill="#814040"/><rect x="329.02" y="220.97" width="15.68" height="15.65" fill="#9a4040"/><rect x="344.69" y="220.97" width="15.68" height="15.65" fill="#b24040"/><rect x="360.37" y="220.97" width="15.68" height="15.65" fill="#ca4040"/><rect x="376.05" y="220.97" width="15.68" height="15.65" fill="#e14040"/><rect x="391.73" y="220.97" width="15.68" height="15.65" fill="#fb4040"/><rect x="407.40" y="220.97" width="15.68" height="15.65" fill="#ff5340"/><rect x="423.08" y="220.97" width="15.68" height="15.65" fill="#ff6b40"/><rect x="438.76" y="220.97" width="15.68" height="15.65" fill="#ff8440"/><rect x="454.44" y="220.97" width="15.68" height="15.65" fill="#ff9c40"/><rect x="470.11" y="220.97" width="15.68" height="15.65" fill="#ffb440"/><rect x="485.79" y="220.97" width="15.68" height="15.65" fill="#ffcd40"/><rect x="501.47" y="220.97" width="15.68" height="15.65" fill="#ffe540"/><rect x="517.15" y="220.97" width="15.68" height="15.65" fill="#fffd40"/><rect x="532.82" y="220.97" width="15.68" height="15.65" fill="#484040"/><rect x="62.50" y="205.31" width="15.68" height="15.65" fill="#484040"/><rect x="78.18" y="205.31" width="15.68" height="15.65" fill="#ffff4b"/><rect x="93.85" y="205.31" width="15.68" height="15.65" fill="#ffef40"/><rect x="109.53" y="205.31" width="15.68" height="15.65" fill="#ffd740"/><rect x="125.21" y="205.31" width="15.68" height="15.65" fill="#ffbe40"/><rect x="140.89" y="205.31" width="15.68" height="15.65" fill="#ffa640"/><rect x="156.56" y="205.31" width="15.68" height="15.65" fill="#ff8e40"/><rect x="172.24" y="205.31" width="15.68" height="15.65" fill="#ff7540"/><rect x="187.92" y="205.31" width="15.68" height="15.65" fill="#ff5d40"/><rect x="203.60" y="205.31" width="15.68" height="15.65" fill="#ff4540"/><rect x="219.27" y="205.31" width="15.68" height="15.65" fill="#ed4040"/><rect x="234.95" y="205.31" width="15.68" height="15.65" fill="#d34040"/><rect x="250.63" y="205.31" width="15.68" height="15.65" fill="#bc4040"/><rect x="266.31" y="205.31" width="15.68" height="15.65" fill="#a44040"/><rect x="281.98" y="205.31" width="15.68" height="15.65" fill="#9a4040"/><rect x="297.66" y="205.31" width="15.68" height="15.65" fill="#8f4040"/><rect x="313.34" y="205.31" width="15.68" height="15.65" fill="#9a4040"/><rect x="329.02" y="205.31" width="15.68" height="15.65" fill="#a44040"/><rect x="344.69" y="205.31" width="15.68" height="15.65" fill="#bc4040"/><rect x="360.37" y="205.31" width="15.68" height="15.65" fill="#d34040"/><rect x="376.05" y="205.31" width="15.68" height="15.65" fill="#ed4040"/><rect x="391.73" y="205.31" width="15.68" height="15.65" fill="#ff4540"/><rect x="407.40" y="205.31" width="15.68" height="15.65" fill="#ff5d40"/><rect x="423.08" y="205.31" width="15.68" height="15.65" fill="#ff7540"/><rect x="438.76" y="205.31" width="15.68" height="15.65" fill="#ff8e40"/><rect x="454.44" y="205.31" width="15.68" height="15.65" fill="#ffa640"/><rect x="470.11" y="205.31" width="15.68" height="15.65" fill="#ffbe40"/><rect x="485.79" y="205.31" width="15.68" height="15.65" fill="#ffd740"/><rect x="501.47" y="205.31" width="15.68" height="15.65" fill="#ffef40"/><rect x="517.15" y="205.31" width="15.68" height="15.65" fill="#ffff4b"/><rect x="532.82" y="205.31" width="15.68" height="15.65" fill="#484040"/><rect x="62.50" y="189.66" width="15.68" height="15.65" fill="#484040"/><rect x="78.18" y="189.66" width="15.68" height="15.65" fill="#ffff5a"/><rect x="93.85" y="189.66" width="15.68" height="15.65" fill="#fff940"/><rect x="109.53" y="189.66" width="15.68" height="15.65" fill="#ffe140"/><rect x="125.21" y="189.66" width="15.68" height="15.65" fill="#ffc740"/><rect x="140.89" y="189.66" width="15.68" height="15.65" fill="#ffb040"/><rect x="156.56" y="189.66" width="15.68" height="15.65" fill="#ff9840"/><rect x="172.24" y="189.66" width="15.68" height="15.65" fill="#ff8140"/><rect x="187.92" y="189.66" width="15.68" height="15.65" fill="#ff6740"/><rect x="203.60" y="189.66" width="15.68" height="15.65" fill="#ff4f40"/><rect x="219.27" y="189.66" width="15.68" height="15.65" fill="#f74040"/><rect x="234.95" y="189.66" width="15.68" height="15.65" fill="#dd4040"/><rect x="250.63" y="189.66" width="15.68" height="15.65" fill="#c64040"/><rect x="266.31" y="189.66" width="15.68" height="15.65" fill="#bc4040"/><rect x="281.98" y="189.66" width="15.68" height="15.65" fill="#b24040"/><rect x="297.66" y="189.66" width="15.68" height="15.65" fill="#a84040"/><rect x="313.34" y="189.66" width="15.68" height="15.65" fill="#b24040"/><rect x="329.02" y="189.66" width="15.68" height="15.65" fill="#bc4040"/><rect x="344.69" y="189.66" width="15.68" height="15.65" fill="#c64040"/><rect x="360.37" y="189.66" width="15.68" height="15.65" fill="#dd4040"/><rect x="376.05" y="189.66" width="15.68" height="15.65" fill="#f74040"/><rect x="391.73" y="189.66" width="15.68" height="15.65" fill="#ff4f40"/><rect x="407.40" y="189.66" width="15.68" height="15.65" fill="#ff6740"/><rect x="423.08" y="189.66" width="15.68" height="15.65" fill="#ff8140"/><rect x="438.76" y="189.66" width="15.68" height="15.65" fill="#ff9840"/><rect x="454.44" y="189.66" width="15.68" height="15.65" fill="#ffb040"/><rect x="470.11" y="189.66" width="15.68" height="15.65" fill="#ffc740"/><rect x="485.79" y="189.66" width="15.68" height="15.65" fill="#ffe140"/><rect x="501.47" y="189.66" width="15.68" height="15.65" fill="#fff940"/><rect x="517.15" y="189.66" width="15.68" height="15.65" fill="#ffff5a"/><rect x="532.82" y="189.66" width="15.68" height="15.65" fill="#484040"/><rect x="62.50" y="174.00" width="15.68" height="15.65" fill="#484040"/><rect x="78.18" y="174.00" width="15.68" height="15.65" fill="#ffff6b"/><rect x="93.85" y="174.00" width="15.68" height="15.65" fill="#ffff45"/><rect x="109.53" y="174.00" width="15.68" height="15.65" fill="#ffeb40"/><rect x="125.21" y="174.00" width="15.68" height="15.65" fill="#ffd340"/><rect x="140.89" y="174.00" width="15.68" height="15.65" fill="#ffba40"/><rect x="156.56" y="174.00" width="15.68" height="15.65" fill="#ffa240"/><rect x="172.24" y="174.00" width="15.68" height="15.65" fill="#ff8a40"/><rect x="187.92" y="174.00" width="15.68" height="15.65" fill="#ff7140"/><rect x="203.60" y="174.00" width="15.68" height="15.65" fill="#ff5940"/><rect x="219.27" y="174.00" width="15.68" height="15.65" fill="#ff4240"/><rect x="234.95" y="174.00" width="15.68" height="15.65" fill="#e74040"/><rect x="250.63" y="174.00" width="15.68" height="15.65" fill="#dd4040"/><rect x="266.31" y="174.00" width="15.68" height="15.65" fill="#d34040"/><rect x="281.98" y="174.00" width="15.68" height="15.65" fill="#ca4040"/><rect x="297.66" y="174.00" width="15.68" height="15.65" fill="#c04040"/><rect x="313.34" y="174.00" width="15.68" height="15.65" fill="#ca4040"/><rect x="329.02" y="174.00" width="15.68" height="15.65" fill="#d34040"/><rect x="344.69" y="174.00" width="15.68" height="15.65" fill="#dd4040"/><rect x="360.37" y="174.00" width="15.68" height="15.65" fill="#e74040"/><rect x="376.05" y="174.00" width="15.68" height="15.65" fill="#ff4240"/><rect x="391.73" y="174.00" width="15.68" height="15.65" fill="#ff5940"/><rect x="407.40" y="174.00" width="15.68" height="15.65" fill="#ff7140"/><rect x="423.08" y="174.00" width="15.68" height="15.65" fill="#ff8a40"/><rect x="438.76" y="174.00" width="15.68" height="15.65" fill="#ffa240"/><rect x="454.44" y="174.00" width="15.68" height="15.65" fill="#ffba40"/><rect x="470.11" y="174.00" width="15.68" height="15.65" fill="#ffd340"/><rect x="485.79" y="174.00" width="15.68" height="15.65" fill="#ffeb40"/><rect x="501.47" y="174.00" width="15.68" height="15.65" fill="#ffff45"/><rect x="517.15" y="174.00" width="15.68" height="15.65" fill="#ffff6b"/><rect x="532.82" y="174.00" width="15.68" height="15.65" fill="#484040"/><rect x="62.50" y="158.35" width="15.68" height="15.65" fill="#484040"/><rect x="78.18" y="158.35" width="15.68" height="15.65" fill="#ffff7a"/><rect x="93.85" y="158.35" width="15.68" height="15.65" fill="#ffff54"/><rect x="109.53" y="158.35" width="15.68" height="15.65" fill="#fff540"/><rect x="125.21" y="158.35" width="15.68" height="15.65" fill="#ffdd40"/><rect x="140.89" y="158.35" width="15.68" height="15.65" fill="#ffc340"/><rect x="156.56" y="158.35" width="15.68" height="15.65" fill="#ffac40"/><rect x="172.24" y="158.35" width="15.68" height="15.65" fill="#ff9440"/><rect x="187.92" y="158.35" width="15.68" height="15.65" fill="#ff7b40"/><rect x="203.60" y="158.35" width="15.68" height="15.65" fill="#ff6340"/><rect x="219.27" y="158.35" width="15.68" height="15.65" fill="#ff4b40"/><rect x="234.95" y="158.35" width="15.68" height="15.65" fill="#ff4240"/><rect x="250.63" y="158.35" width="15.68" height="15.65" fill="#f74040"/><rect x="266.31" y="158.35" width="15.68" height="15.65" fill="#ed4040"/><rect x="281.98" y="158.35" width="15.68" height="15.65" fill="#e14040"/><rect x="297.66" y="158.35" width="15.68" height="15.65" fill="#d74040"/><rect x="313.34" y="158.35" width="15.68" height="15.65" fill="#e14040"/><rect x="329.02" y="158.35" width="15.68" height="15.65" fill="#ed4040"/><rect x="344.69" y="158.35" width="15.68" height="15.65" fill="#f74040"/><rect x="360.37" y="158.35" width="15.68" height="15.65" fill="#ff4240"/><rect x="376.05" y="158.35" width="15.68" height="15.65" fill="#ff4b40"/><rect x="391.73" y="158.35" width="15.68" height="15.65" fill="#ff6340"/><rect x="407.40" y="158.35" width="15.68" height="15.65" fill="#ff7b40"/><rect x="423.08" y="158.35" width="15.68" height="15.65" fill="#ff9440"/><rect x="438.76" y="158.35" width="15.68" height="15.65" fill="#ffac40"/><rect x="454.44" y="158.35" width="15.68" height="15.65" fill="#ffc340"/><rect x="470.11" y="158.35" width="15.68" height="15.65" fill="#ffdd40"/><rect x="485.79" y="158.35" width="15.68" height="15.65" fill="#fff540"/><rect x="501.47" y="158.35" width="15.68" height="15.65" fill="#ffff54"/><rect x="517.15" y="158.35" width="15.68" height="15.65" fill="#ffff7a"/><rect x="532.82" y="158.35" width="15.68" height="15.65" fill="#484040"/><rect x="62.50" y="142.69" width="15.68" height="15.65" fill="#484040"/><rect x="78.18" y="142.69" width="15.68" height="15.65" fill="#ffff89"/><rect x="93.85" y="142.69" width="15.68" height="15.65" fill="#ffff62"/><rect x="109.53" y="142.69" width="15.68" height="15.65" fill="#ffff40"/><rect x="125.21" y="142.69" width="15.68" height="15.65" fill="#ffe740"/><rect x="140.89" y="142.69" width="15.68" height="15.65" fill="#ffcd40"/><rect x="156.56" y="142.69" width="15.68" height="15.65" fill="#ffb640"/><rect x="172.24" y="142.69" width="15.68" height="15.65" fill="#ff9e40"/><rect x="187.92" y="142.69" width="15.68" height="15.65" fill="#ff8640"/><rect x="203.60" y="142.69" width="15.68" height="15.65" fill="#ff6d40"/><rect x="219.27" y="142.69" width="15.68" height="15.65" fill="#ff6340"/><rect x="234.95" y="142.69" width="15.68" height="15.65" fill="#ff5940"/><rect x="250.63" y="142.69" width="15.68" height="15.65" fill="#ff4f40"/><rect x="266.31" y="142.69" width="15.68" height="15.65" fill="#ff4540"/><rect x="281.98" y="142.69" width="15.68" height="15.65" fill="#fb4040"/><rect x="297.66" y="142.69" width="15.68" height="15.65" fill="#f14040"/><rect x="313.34" y="142.69" width="15.68" height="15.65" fill="#fb4040"/><rect x="329.02" y="142.69" width="15.68" height="15.65" fill="#ff4540"/><rect x="344.69" y="142.69" width="15.68" height="15.65" fill="#ff4f40"/><rect x="360.37" y="142.69" width="15.68" height="15.65" fill="#ff5940"/><rect x="376.05" y="142.69" width="15.68" height="15.65" fill="#ff6340"/><rect x="391.73" y="142.69" width="15.68" height="15.65" fill="#ff6d40"/><rect x="407.40" y="142.69" width="15.68" height="15.65" fill="#ff8640"/><rect x="423.08" y="142.69" width="15.68" height="15.65" fill="#ff9e40"/><rect x="438.76" y="142.69" width="15.68" height="15.65" fill="#ffb640"/><rect x="454.44" y="142.69" width="15.68" height="15.65" fill="#ffcd40"/><rect x="470.11" y="142.69" width="15.68" height="15.65" fill="#ffe740"/><rect x="485.79" y="142.69" width="15.68" height="15.65" fill="#ffff40"/><rect x="501.47" y="142.69" width="15.68" height="15.65" fill="#ffff62"/><rect x="517.15" y="142.69" width="15.68" height="15.65" fill="#ffff89"/><rect x="532.82" y="142.69" width="15.68" height="15.65" fill="#484040"/><rect x="62.50" y="127.04" width="15.68" height="15.65" fill="#484040"/><rect x="78.18" y="127.04" width="15.68" height="15.65" fill="#ffff98"/><rect x="93.85" y="127.04" width="15.68" height="15.65" fill="#ffff74"/><rect x="109.53" y="127.04" width="15.68" height="15.65" fill="#ffff4e"/><rect x="125.21" y="127.04" width="15.68" height="15.65" fill="#fff140"/><rect x="140.89" y="127.04" width="15.68" height="15.65" fill="#ffd940"/><rect x="156.56" y="127.04" width="15.68" height="15.65" fill="#ffc040"/><rect x="172.24" y="127.04" width="15.68" height="15.65" fill="#ffa840"/><rect x="187.92" y="127.04" width="15.68" height="15.65" fill="#ff9040"/><rect x="203.60" y="127.04" width="15.68" height="15.65" fill="#ff8640"/><rect x="219.27" y="127.04" width="15.68" height="15.65" fill="#ff7b40"/><rect x="234.95" y="127.04" width="15.68" height="15.65" fill="#ff7140"/><rect x="250.63" y="127.04" width="15.68" height="15.65" fill="#ff6740"/><rect x="266.31" y="127.04" width="15.68" height="15.65" fill="#ff5d40"/><rect x="281.98" y="127.04" width="15.68" height="15.65" fill="#ff5340"/><rect x="297.66" y="127.04" width="15.68" height="15.65" fill="#ff4940"/><rect x="313.34" y="127.04" width="15.68" height="15.65" fill="#ff5340"/><rect x="329.02" y="127.04" width="15.68" height="15.65" fill="#ff5d40"/><rect x="344.69" y="127.04" width="15.68" height="15.65" fill="#ff6740"/><rect x="360.37" y="127.04" width="15.68" height="15.65" fill="#ff7140"/><rect x="376.05" y="127.04" width="15.68" height="15.65" fill="#ff7b40"/><rect x="391.73" y="127.04" width="15.68" height="15.65" fill="#ff8640"/><rect x="407.40" y="127.04" width="15.68" height="15.65" fill="#ff9040"/><rect x="423.08" y="127.04" width="15.68" height="15.65" fill="#ffa840"/><rect x="438.76" y="127.04" width="15.68" height="15.65" fill="#ffc040"/><rect x="454.44" y="127.04" width="15.68" height="15.65" fill="#ffd940"/><rect x="470.11" y="127.04" width="15.68" height="15.65" fill="#fff140"/><rect x="485.79" y="127.04" width="15.68" height="15.65" fill="#ffff4e"/><rect x="501.47" y="127.04" width="15.68" height="15.65" fill="#ffff74"/><rect x="517.15" y="127.04" width="15.68" height="15.65" fill="#ffff98"/><rect x="532.82" y="127.04" width="15.68" height="15.65" fill="#484040"/><rect x="62.50" y="111.38" width="15.68" height="15.65" fill="#484040"/><rect x="78.18" y="111.38" width="15.68" height="15.65" fill="#ffffa6"/><rect x="93.85" y="111.38" width="15.68" height="15.65" fill="#ffff83"/><rect x="109.53" y="111.38" width="15.68" height="15.65" fill="#ffff5d"/><rect x="125.21" y="111.38" width="15.68" height="15.65" fill="#fffb40"/><rect x="140.89" y="111.38" width="15.68" height="15.65" fill="#ffe340"/><rect x="156.56" y="111.38" width="15.68" height="15.65" fill="#ffc940"/><rect x="172.24" y="111.38" width="15.68" height="15.65" fill="#ffb240"/><rect x="187.92" y="111.38" width="15.68" height="15.65" fill="#ffa840"/><rect x="203.60" y="111.38" width="15.68" height="15.65" fill="#ff9e40"/><rect x="219.27" y="111.38" width="15.68" height="15.65" fill="#ff9440"/><rect x="234.95" y="111.38" width="15.68" height="15.65" fill="#ff8a40"/><rect x="250.63" y="111.38" width="15.68" height="15.65" fill="#ff8140"/><rect x="266.31" y="111.38" width="15.68" height="15.65" fill="#ff7540"/><rect x="281.98" y="111.38" width="15.68" height="15.65" fill="#ff6b40"/><rect x="297.66" y="111.38" width="15.68" height="15.65" fill="#ff6140"/><rect x="313.34" y="111.38" width="15.68" height="15.65" fill="#ff6b40"/><rect x="329.02" y="111.38" width="15.68" height="15.65" fill="#ff7540"/><rect x="344.69" y="111.38" width="15.68" height="15.65" fill="#ff8140"/><rect x="360.37" y="111.38" width="15.68" height="15.65" fill="#ff8a40"/><rect x="376.05" y="111.38" width="15.68" height="15.65" fill="#ff9440"/><rect x="391.73" y="111.38" width="15.68" height="15.65" fill="#ff9e40"/><rect x="407.40" y="111.38" width="15.68" height="15.65" fill="#ffa840"/><rect x="423.08" y="111.38" width="15.68" height="15.65" fill="#ffb240"/><rect x="438.76" y="111.38" width="15.68" height="15.65" fill="#ffc940"/><rect x="454.44" y="111.38" width="15.68" height="15.65" fill="#ffe340"/><rect x="470.11" y="111.38" width="15.68" height="15.65" fill="#fffb40"/><rect x="485.79" y="111.38" width="15.68" height="15.65" fill="#ffff5d"/><rect x="501.47" y="111.38" width="15.68" height="15.65" fill="#ffff83"/><rect x="517.15" y="111.38" width="15.68" height="15.65" fill="#ffffa6"/><rect x="532.82" y="111.38" width="15.68" height="15.65" fill="#484040"/><rect x="62.50" y="95.73" width="15.68" height="15.65" fill="#484040"/><rect x="78.18" y="95.73" width="15.68" height="15.65" fill="#ffffb5"/><rect x="93.85" y="95.73" width="15.68" height="15.65" fill="#ffff92"/><rect x="109.53" y="95.73" width="15.68" height="15.65" fill="#ffff6b"/><rect x="125.21" y="95.73" width="15.68" height="15.65" fill="#ffff48"/><rect x="140.89" y="95.73" width="15.68" height="15.65" fill="#ffed40"/><rect x="156.56" y="95.73" width="15.68" height="15.65" fill="#ffd340"/><rect x="172.24" y="95.73" width="15.68" height="15.65" fill="#ffc940"/><rect x="187.92" y="95.73" width="15.68" height="15.65" fill="#ffc040"/><rect x="203.60" y="95.73" width="15.68" height="15.65" fill="#ffb640"/><rect x="219.27" y="95.73" width="15.68" height="15.65" fill="#ffac40"/><rect x="234.95" y="95.73" width="15.68" height="15.65" fill="#ffa240"/><rect x="250.63" y="95.73" width="15.68" height="15.65" fill="#ff9840"/><rect x="266.31" y="95.73" width="15.68" height="15.65" fill="#ff8e40"/><rect x="281.98" y="95.73" width="15.68" height="15.65" fill="#ff8440"/><rect x="297.66" y="95.73" width="15.68" height="15.65" fill="#ff7b40"/><rect x="313.34" y="95.73" width="15.68" height="15.65" fill="#ff8440"/><rect x="329.02" y="95.73" width="15.68" height="15.65" fill="#ff8e40"/><rect x="344.69" y="95.73" width="15.68" height="15.65" fill="#ff9840"/><rect x="360.37" y="95.73" width="15.68" height="15.65" fill="#ffa240"/><rect x="376.05" y="95.73" width="15.68" height="15.65" fill="#ffac40"/><rect x="391.73" y="95.73" width="15.68" height="15.65" fill="#ffb640"/><rect x="407.40" y="95.73" width="15.68" height="15.65" fill="#ffc040"/><rect x="423.08" y="95.73" width="15.68" height="15.65" fill="#ffc940"/><rect x="438.76" y="95.73" width="15.68" height="15.65" fill="#ffd340"/><rect x="454.44" y="95.73" width="15.68" height="15.65" fill="#ffed40"/><rect x="470.11" y="95.73" width="15.68" height="15.65" fill="#ffff48"/><rect x="485.79" y="95.73" width="15.68" height="15.65" fill="#ffff6b"/><rect x="501.47" y="95.73" width="15.68" height="15.65" fill="#ffff92"/><rect x="517.15" y="95.73" width="15.68" height="15.65" fill="#ffffb5"/><rect x="532.82" y="95.73" width="15.68" height="15.65" fill="#484040"/><rect x="62.50" y="80.07" width="15.68" height="15.65" fill="#484040"/><rect x="78.18" y="80.07" width="15.68" height="15.65" fill="#ffffc4"/><rect x="93.85" y="80.07" width="15.68" height="15.65" fill="#ffffa0"/><rect x="109.53" y="80.07" width="15.68" height="15.65" fill="#ffff7a"/><rect x="125.21" y="80.07" width="15.68" height="15.65" fill="#ffff57"/><rect x="140.89" y="80.07" width="15.68" height="15.65" fill="#fff740"/><rect x="156.56" y="80.07" width="15.68" height="15.65" fill="#ffed40"/><rect x="172.24" y="80.07" width="15.68" height="15.65" fill="#ffe340"/><rect x="187.92" y="80.07" width="15.68" height="15.65" fill="#ffd940"/><rect x="203.60" y="80.07" width="15.68" height="15.65" fill="#ffcd40"/><rect x="219.27" y="80.07" width="15.68" height="15.65" fill="#ffc340"/><rect x="234.95" y="80.07" width="15.68" height="15.65" fill="#ffba40"/><rect x="250.63" y="80.07" width="15.68" height="15.65" fill="#ffb040"/><rect x="266.31" y="80.07" width="15.68" height="15.65" fill="#ffa640"/><rect x="281.98" y="80.07" width="15.68" height="15.65" fill="#ff9c40"/><rect x="297.66" y="80.07" width="15.68" height="15.65" fill="#ff9240"/><rect x="313.34" y="80.07" width="15.68" height="15.65" fill="#ff9c40"/><rect x="329.02" y="80.07" width="15.68" height="15.65" fill="#ffa640"/><rect x="344.69" y="80.07" width="15.68" height="15.65" fill="#ffb040"/><rect x="360.37" y="80.07" width="15.68" height="15.65" fill="#ffba40"/><rect x="376.05" y="80.07" width="15.68" height="15.65" fill="#ffc340"/><rect x="391.73" y="80.07" width="15.68" height="15.65" fill="#ffcd40"/><rect x="407.40" y="80.07" width="15.68" height="15.65" fill="#ffd940"/><rect x="423.08" y="80.07" width="15.68" height="15.65" fill="#ffe340"/><rect x="438.76" y="80.07" width="15.68" height="15.65" fill="#ffed40"/><rect x="454.44" y="80.07" width="15.68" height="15.65" fill="#fff740"/><rect x="470.11" y="80.07" width="15.68" height="15.65" fill="#ffff57"/><rect x="485.79" y="80.07" width="15.68" height="15.65" fill="#ffff7a"/><rect x="501.47" y="80.07" width="15.68" height="15.65" fill="#ffffa0"/><rect x="517.15" y="80.07" width="15.68" height="15.65" fill="#ffffc4"/><rect x="532.82" y="80.07" width="15.68" height="15.65" fill="#484040"/><rect x="62.50" y="64.42" width="15.68" height="15.65" fill="#484040"/><rect x="78.18" y="64.42" width="15.68" height="15.65" fill="#ffffd3"/><rect x="93.85" y="64.42" width="15.68" height="15.65" fill="#ffffaf"/><rect x="109.53" y="64.42" width="15.68" height="15.65" fill="#ffff8c"/><rect x="125.21" y="64.42" width="15.68" height="15.65" fill="#ffff65"/><rect x="140.89" y="64.42" width="15.68" height="15.65" fill="#ffff57"/><rect x="156.56" y="64.42" width="15.68" height="15.65" fill="#ffff48"/><rect x="172.24" y="64.42" width="15.68" height="15.65" fill="#fffb40"/><rect x="187.92" y="64.42" width="15.68" height="15.65" fill="#fff140"/><rect x="203.60" y="64.42" width="15.68" height="15.65" fill="#ffe740"/><rect x="219.27" y="64.42" width="15.68" height="15.65" fill="#ffdd40"/><rect x="234.95" y="64.42" width="15.68" height="15.65" fill="#ffd340"/><rect x="250.63" y="64.42" width="15.68" height="15.65" fill="#ffc740"/><rect x="266.31" y="64.42" width="15.68" height="15.65" fill="#ffbe40"/><rect x="281.98" y="64.42" width="15.68" height="15.65" fill="#ffb440"/><rect x="297.66" y="64.42" width="15.68" height="15.65" fill="#ffaa40"/><rect x="313.34" y="64.42" width="15.68" height="15.65" fill="#ffb440"/><rect x="329.02" y="64.42" width="15.68" height="15.65" fill="#ffbe40"/><rect x="344.69" y="64.42" width="15.68" height="15.65" fill="#ffc740"/><rect x="360.37" y="64.42" width="15.68" height="15.65" fill="#ffd340"/><rect x="376.05" y="64.42" width="15.68" height="15.65" fill="#ffdd40"/><rect x="391.73" y="64.42" width="15.68" height="15.65" fill="#ffe740"/><rect x="407.40" y="64.42" width="15.68" height="15.65" fill="#fff140"/><rect x="423.08" y="64.42" width="15.68" height="15.65" fill="#fffb40"/><rect x="438.76" y="64.42" width="15.68" height="15.65" fill="#ffff48"/><rect x="454.44" y="64.42" width="15.68" height="15.65" fill="#ffff57"/><rect x="470.11" y="64.42" width="15.68" height="15.65" fill="#ffff65"/><rect x="485.79" y="64.42" width="15.68" height="15.65" fill="#ffff8c"/><rect x="501.47" y="64.42" width="15.68" height="15.65" fill="#ffffaf"/><rect x="517.15" y="64.42" width="15.68" height="15.65" fill="#ffffd3"/><rect x="532.82" y="64.42" width="15.68" height="15.65" fill="#484040"/><rect x="62.50" y="48.76" width="15.68" height="15.65" fill="#484040"/><rect x="78.18" y="48.76" width="15.68" height="15.65" fill="#ffffe1"/><rect x="93.85" y="48.76" width="15.68" height="15.65" fill="#ffffbe"/><rect x="109.53" y="48.76" width="15.68" height="15.65" fill="#ffff9b"/><rect x="125.21" y="48.76" width="15.68" height="15.65" fill="#ffff8c"/><rect x="140.89" y="48.76" width="15.68" height="15.65" fill="#ffff7a"/><rect x="156.56" y="48.76" width="15.68" height="15.65" fill="#ffff6b"/><rect x="172.24" y="48.76" width="15.68" height="15.65" fill="#ffff5d"/><rect x="187.92" y="48.76" width="15.68" height="15.65" fill="#ffff4e"/><rect x="203.60" y="48.76" width="15.68" height="15.65" fill="#ffff40"/><rect x="219.27" y="48.76" width="15.68" height="15.65" fill="#fff540"/><rect x="234.95" y="48.76" width="15.68" height="15.65" fill="#ffeb40"/><rect x="250.63" y="48.76" width="15.68" height="15.65" fill="#ffe140"/><rect x="266.31" y="48.76" width="15.68" height="15.65" fill="#ffd740"/><rect x="281.98" y="48.76" width="15.68" height="15.65" fill="#ffcd40"/><rect x="297.66" y="48.76" width="15.68" height="15.65" fill="#ffc340"/><rect x="313.34" y="48.76" width="15.68" height="15.65" fill="#ffcd40"/><rect x="329.02" y="48.76" width="15.68" height="15.65" fill="#ffd740"/><rect x="344.69" y="48.76" width="15.68" height="15.65" fill="#ffe140"/><rect x="360.37" y="48.76" width="15.68" height="15.65" fill="#ffeb40"/><rect x="376.05" y="48.76" width="15.68" height="15.65" fill="#fff540"/><rect x="391.73" y="48.76" width="15.68" height="15.65" fill="#ffff40"/><rect x="407.40" y="48.76" width="15.68" height="15.65" fill="#ffff4e"/><rect x="423.08" y="48.76" width="15.68" height="15.65" fill="#ffff5d"/><rect x="438.76" y="48.76" width="15.68" height="15.65" fill="#ffff6b"/><rect x="454.44" y="48.76" width="15.68" height="15.65" fill="#ffff7a"/><rect x="470.11" y="48.76" width="15.68" height="15.65" fill="#ffff8c"/><rect x="485.79" y="48.76" width="15.68" height="15.65" fill="#ffff9b"/><rect x="501.47" y="48.76" width="15.68" height="15.65" fill="#ffffbe"/><rect x="517.15" y="48.76" width="15.68" height="15.65" fill="#ffffe1"/><rect x="532.82" y="48.76" width="15.68" height="15.65" fill="#484040"/><rect x="62.50" y="33.11" width="15.68" height="15.65" fill="#484040"/><rect x="78.18" y="33.11" width="15.68" height="15.65" fill="#fffff0"/><rect x="93.85" y="33.11" width="15.68" height="15.65" fill="#ffffcd"/><rect x="109.53" y="33.11" width="15.68" height="15.65" fill="#ffffbe"/><rect x="125.21" y="33.11" width="15.68" height="15.65" fill="#ffffaf"/><rect x="140.89" y="33.11" width="15.68" height="15.65" fill="#ffffa0"/><rect x="156.56" y="33.11" width="15.68" height="15.65" fill="#ffff92"/><rect x="172.24" y="33.11" width="15.68" height="15.65" fill="#ffff83"/><rect x="187.92" y="33.11" width="15.68" height="15.65" fill="#ffff74"/><rect x="203.60" y="33.11" width="15.68" height="15.65" fill="#ffff62"/><rect x="219.27" y="33.11" width="15.68" height="15.65" fill="#ffff54"/><rect x="234.95" y="33.11" width="15.68" height="15.65" fill="#ffff45"/><rect x="250.63" y="33.11" width="15.68" height="15.65" fill="#fff940"/><rect x="266.31" y="33.11" width="15.68" height="15.65" fill="#ffef40"/><rect x="281.98" y="33.11" width="15.68" height="15.65" fill="#ffe540"/><rect x="297.66" y="33.11" width="15.68" height="15.65" fill="#ffdb40"/><rect x="313.34" y="33.11" width="15.68" height="15.65" fill="#ffe540"/><rect x="329.02" y="33.11" width="15.68" height="15.65" fill="#ffef40"/><rect x="344.69" y="33.11" width="15.68" height="15.65" fill="#fff940"/><rect x="360.37" y="33.11" width="15.68" height="15.65" fill="#ffff45"/><rect x="376.05" y="33.11" width="15.68" height="15.65" fill="#ffff54"/><rect x="391.73" y="33.11" width="15.68" height="15.65" fill="#ffff62"/><rect x="407.40" y="33.11" width="15.68" height="15.65" fill="#ffff74"/><rect x="423.08" y="33.11" width="15.68" height="15.65" fill="#ffff83"/><rect x="438.76" y="33.11" width="15.68" height="15.65" fill="#ffff92"/><rect x="454.44" y="33.11" width="15.68" height="15.65" fill="#ffffa0"/><rect x="470.11" y="33.11" width="15.68" height="15.65" fill="#ffffaf"/><rect x="485.79" y="33.11" width="15.68" height="15.65" fill="#ffffbe"/><rect x="501.47" y="33.11" width="15.68" height="15.65" fill="#ffffcd"/><rect x="517.15" y="33.11" width="15.68" height="15.65" fill="#fffff0"/><rect x="532.82" y="33.11" width="15.68" height="15.65" fill="#484040"/><rect x="62.50" y="17.45" width="15.68" height="15.65" fill="#484040"/><rect x="78.18" y="17.45" width="15.68" height="15.65" fill="#ffffff"/><rect x="93.85" y="17.45" width="15.68" height="15.65" fill="#fffff0"/><rect x="109.53" y="17.45" width="15.68" height="15.65" fill="#ffffe1"/><rect x="125.21" y="17.45" width="15.68" height="15.65" fill="#ffffd3"/><rect x="140.89" y="17.45" width="15.68" height="15.65" fill="#ffffc4"/><rect x="156.56" y="17.45" width="15.68" height="15.65" fill="#ffffb5"/><rect x="172.24" y="17.45" width="15.68" height="15.65" fill="#ffffa6"/><rect x="187.92" y="17.45" width="15.68" height="15.65" fill="#ffff98"/><rect x="203.60" y="17.45" width="15.68" height="15.65" fill="#ffff89"/><rect x="219.27" y="17.45" width="15.68" height="15.65" fill="#ffff7a"/><rect x="234.95" y="17.45" width="15.68" height="15.65" fill="#ffff6b"/><rect x="250.63" y="17.45" width="15.68" height="15.65" fill="#ffff5a"/><rect x="266.31" y="17.45" width="15.68" height="15.65" fill="#ffff4b"/><rect x="281.98" y="17.45" width="15.68" height="15.65" fill="#fffd40"/><rect x="297.66" y="17.45" width="15.68" height="15.65" fill="#fff340"/><rect x="313.34" y="17.45" width="15.68" height="15.65" fill="#fffd40"/><rect x="329.02" y="17.45" width="15.68" height="15.65" fill="#ffff4b"/><rect x="344.69" y="17.45" width="15.68" height="15.65" fill="#ffff5a"/><rect x="360.37" y="17.45" width="15.68" height="15.65" fill="#ffff6b"/><rect x="376.05" y="17.45" width="15.68" height="15.65" fill="#ffff7a"/><rect x="391.73" y="17.45" width="15.68" height="15.65" fill="#ffff89"/><rect x="407.40" y="17.45" width="15.68" height="15.65" fill="#ffff98"/><rect x="423.08" y="17.45" width="15.68" height="15.65" fill="#ffffa6"/><rect x="438.76" y="17.45" width="15.68" height="15.65" fill="#ffffb5"/><rect x="454.44" y="17.45" width="15.68" height="15.65" fill="#ffffc4"/><rect x="470.11" y="17.45" width="15.68" height="15.65" fill="#ffffd3"/><rect x="485.79" y="17.45" width="15.68" height="15.65" fill="#ffffe1"/><rect x="501.47" y="17.45" width="15.68" height="15.65" fill="#fffff0"/><rect x="517.15" y="17.45" width="15.68" height="15.65" fill="#ffffff"/><rect x="532.82" y="17.45" width="15.68" height="15.65" fill="#484040"/><rect x="62.50" y="1.80" width="15.68" height="15.65" fill="#484040"/><rect x="78.18" y="1.80" width="15.68" height="15.65" fill="#484040"/><rect x="93.85" y="1.80" width="15.68" height="15.65" fill="#484040"/><rect x="109.53" y="1.80" width="15.68" height="15.65" fill="#484040"/><rect x="125.21" y="1.80" width="15.68" height="15.65" fill="#484040"/><rect x="140.89" y="1.80" width="15.68" height="15.65" fill="#484040"/><rect x="156.56" y="1.80" width="15.68" height="15.65" fill="#484040"/><rect x="172.24" y="1.80" width="15.68" height="15.65" fill="#484040"/><rect x="187.92" y="1.80" width="15.68" height="15.65" fill="#484040"/><rect x="203.60" y="1.80" width="15.68" height="15.65" fill="#484040"/><rect x="219.27" y="1.80" width="15.68" height="15.65" fill="#484040"/><rect x="234.95" y="1.80" width="15.68" height="15.65" fill="#484040"/><rect x="250.63" y="1.80" width="15.68" height="15.65" fill="#484040"/><rect x="266.31" y="1.80" width="15.68" height="15.65" fill="#484040"/><rect x="281.98" y="1.80" width="15.68" height="15.65" fill="#484040"/><rect x="297.66" y="1.80" width="15.68" height="15.65" fill="#484040"/><rect x="313.34" y="1.80" width="15.68" height="15.65" fill="#484040"/><rect x="329.02" y="1.80" width="15.68" height="15.65" fill="#484040"/><rect x="344.69" y="1.80" width="15.68" height="15.65" fill="#484040"/><rect x="360.37" y="1.80" width="15.68" height="15.65" fill="#484040"/><rect x="376.05" y="1.80" width="15.68" height="15.65" fill="#484040"/><rect x="391.73" y="1.80" width="15.68" height="15.65" fill="#484040"/><rect x="407.40" y="1.80" width="15.68" height="15.65" fill="#484040"/><rect x="423.08" y="1.80" width="15.68" height="15.65" fill="#484040"/><rect x="438.76" y="1.80" width="15.68" height="15.65" fill="#484040"/><rect x="454.44" y="1.80" width="15.68" height="15.65" fill="#484040"/><rect x="470.11" y="1.80" width="15.68" height="15.65" fill="#484040"/><rect x="485.79" y="1.80" width="15.68" height="15.65" fill="#484040"/><rect x="501.47" y="1.80" width="15.68" height="15.65" fill="#484040"/><rect x="517.15" y="1.80" width="15.68" height="15.65" fill="#484040"/><rect x="532.82" y="1.80" width="15.68" height="15.65" fill="#484040"/></g><g fill="#000"><path d="M70.92 479.27L70.63 478.77L70.05 478.77L69.76 479.27L70.05 479.78L70.63 479.78L70.92 479.27L70.63 478.77Z"/><path d="M86.60 479.27L86.31 478.77L85.72 478.77L85.43 479.27L85.72 479.78L86.31 479.78L86.60 479.27L86.31 478.77Z"/><path d="M102.28 479.27L101.99 478.77L101.40 478.77L101.11 479.27L101.40 479.78L101.99 479.78L102.28 479.27L101.99 478.77Z"/><path d="M117.95 479.27L117.66 478.77L117.08 478.77L116.79 479.27L117.08 479.78L117.66 479.78L117.95 479.27L117.66 478.77Z"/><path d="M133.63 479.27L133.34 478.77L132.76 478.77L132.47 479.27L132.76 479.78L133.34 479.78L133.63 479.27L133.34 478.77Z"/><path d="M149.31 479.27L149.02 478.77L148.43 478.77L148.14 479.27L148.43 479.78L149.02 479.78L149.31 479.27L149.02 478.77Z"/><path d="M164.99 479.27L164.69 478.77L164.11 478.77L163.82 479.27L164.11 479.78L164.69 479.78L164.99 479.27L164.69 478.77Z"/><path d="M180.66 479.27L180.37 478.77L179.79 478.77L179.50 479.27L179.79 479.78L180.37 479.78L180.66 479.27L180.37 478.77Z"/><path d="M196.34 479.27L196.05 478.77L195.47 478.77L195.17 479.27L195.47 479.78L196.05 479.78L196.34 479.27L196.05 478.77Z"/><path d="M212.02 479.27L211.73 478.77L211.14 478.77L210.85 479.27L211.14 479.78L211.73 479.78L212.02 479.27L211.73 478.77Z"/><path d="M227.70 479.27L227.40 478.77L226.82 478.77L226.53 479.27L226.82 479.78L227.40 479.78L227.70 479.27L227.40 478.77Z"/><path d="M243.37 479.27L243.08 478.77L242.50 478.77L242.21 479.27L242.50 479.78L243.08 479.78L243.37 479.27L243.08 478.77Z"/><path d="M259.05 479.27L258.76 478.77L258.18 478.77L257.88 479.27L258.18 479.78L258.76 479.78L259.05 479.27L258.76 478.77Z"/><path d="M274.73 479.27L274.44 478.77L273.85 478.77L273.56 479.27L273.85 479.78L274.44 479.78L274.73 479.27L274.44 478.77Z"/><path d="M290.41 479.27L290.11 478.77L289.53 478.77L289.24 479.27L289.53 479.78L290.11 479.78L290.41 479.27L290.11 478.77Z"/><path d="M306.08 479.27L305.79 478.77L305.21 478.77L304.92 479.27L305.21 479.78L305.79 479.78L306.08 479.27L305.79 478.77Z"/><path d="M321.76 479.27L321.47 478.77L320.89 478.77L320.59 479.27L320.89 479.78L321.47 479.78L321.76 479.27L321.47 478.77Z"/><path d="M337.44 479.27L337.15 478.77L336.56 478.77L336.27 479.27L336.56 479.78L337.15 479.78L337.44 479.27L337.15 478.77Z"/><path d="M353.12 479.27L352.82 478.77L352.24 478.77L351.95 479.27L352.24 479.78L352.82 479.78L353.12 479.27L352.82 478.77Z"/><path d="M368.79 479.27L368.50 478.77L367.92 478.77L367.63 479.27L367.92 479.78L368.50 479.78L368.79 479.27L368.50 478.77Z"/><path d="M384.47 479.27L384.18 478.77L383.60 478.77L383.30 479.27L383.60 479.78L384.18 479.78L384.47 479.27L384.18 478.77Z"/><path d="M400.15 479.27L399.86 478.77L399.27 478.77L398.98 479.27L399.27 479.78L399.86 479.78L400.15 479.27L399.86 478.77Z"/><path d="M415.83 479.27L415.53 478.77L414.95 478.77L414.66 479.27L414.95 479.78L415.53 479.78L415.83 479.27L415.53 478.77Z"/><path d="M431.50 479.27L431.21 478.77L430.63 478.77L430.34 479.27L430.63 479.78L431.21 479.78L431.50 479.27L431.21 478.77Z"/><path d="M447.18 479.27L446.89 478.77L446.31 478.77L446.01 479.27L446.31 479.78L446.89 479.78L447.18 479.27L446.89 478.77Z"/><path d="M462.86 479.27L462.57 478.77L461.98 478.77L461.69 479.27L461.98 479.78L462.57 479.78L462.86 479.27L462.57 478.77Z"/><path d="M478.53 479.27L478.24 478.77L477.66 478.77L477.37 479.27L477.66 479.78L478.24 479.78L478.53 479.27L478.24 478.77Z"/><path d="M494.21 479.27L493.92 478.77L493.34 478.77L493.05 479.27L493.34 479.78L493.92 479.78L494.21 479.27L493.92 478.77Z"/><path d="M509.89 479.27L509.60 478.77L509.01 478.77L508.72 479.27L509.01 479.78L509.60 479.78L509.89 479.27L509.60 478.77Z"/><path d="M525.57 479.27L525.28 478.77L524.69 478.77L524.40 479.27L524.69 479.78L525.28 479.78L525.57 479.27L525.28 478.77Z"/><path d="M541.24 479.27L540.95 478.77L540.37 478.77L540.08 479.27L540.37 479.78L540.95 479.78L541.24 479.27L540.95 478.77Z"/><path d="M70.92 463.62L70.63 463.11L70.05 463.11L69.76 463.62L70.05 464.12L70.63 464.12L70.92 463.62L70.63 463.11Z"/><path d="M85.60 463.21L88.94 459.87L87.70 459.46L93.06 456.57L90.18 461.93L89.76 460.70L86.43 464.03L85.60 463.21Z"/><path d="M101.28 463.21L104.62 459.87L103.38 459.46L108.74 456.57L105.85 461.93L105.44 460.70L102.11 464.03L101.28 463.21Z"/><path d="M116.96 463.21L120.29 459.87L119.06 459.46L124.42 456.57L121.53 461.93L121.12 460.70L117.78 464.03L116.96 463.21Z"/><path d="M132.64 463.21L135.97 459.87L134.73 459.46L140.09 456.57L137.21 461.93L136.80 460.70L133.46 464.03L132.64 463.21Z"/><path d="M148.31 463.21L151.65 459.87L150.41 459.46L155.77 456.57L152.88 461.93L152.47 460.70L149.14 464.03L148.31 463.21Z"/><path d="M163.99 463.21L167.33 459.87L166.09 459.46L171.45 456.57L168.56 461.93L168.15 460.70L164.82 464.03L163.99 463.21Z"/><path d="M179.67 463.21L183.00 459.87L181.77 459.46L187.13 456.57L184.24 461.93L183.83 460.70L180.49 464.03L179.67 463.21Z"/><path d="M195.35 463.21L198.68 459.87L197.44 459.46L202.80 456.57L199.92 461.93L199.50 460.70L196.17 464.03L195.35 463.21Z"/><path d="M211.02 463.21L214.36 459.87L213.12 459.46L218.48 456.57L215.59 461.93L215.18 460.70L211.85 464.03L211.02 463.21Z"/><path d="M226.70 463.21L230.03 459.87L228.80 459.46L234.16 456.57L231.27 461.93L230.86 460.70L227.53 464.03L226.70 463.21Z"/><path d="M242.38 463.21L245.71 459.87L244.48 459.46L249.84 456.57L246.95 461.93L246.54 460.70L243.20 464.03L242.38 463.21Z"/><path d="M258.06 463.21L261.39 459.87L260.15 459.46L265.51 456.57L262.63 461.93L262.21 460.70L258.88 464.03L258.06 463.21Z"/><path d="M273.73 463.21L277.07 459.87L275.83 459.46L281.19 456.57L278.30 461.93L277.89 460.70L274.56 464.03L273.73 463.21Z"/><path d="M289.41 463.21L292.74 459.87L291.51 459.46L296.87 456.57L293.98 461.93L293.57 460.70L290.23 464.03L289.41 463.21Z"/><path d="M304.92 463.62L304.92 458.90L303.75 459.49L305.50 453.65L307.25 459.49L306.08 458.90L306.08 463.62L304.92 463.62Z"/><path d="M320.77 464.03L317.43 460.70L317.02 461.93L314.13 456.57L319.49 459.46L318.26 459.87L321.59 463.21L320.77 464.03Z"/><path d="M336.44 464.03L333.11 460.70L332.70 461.93L329.81 456.57L335.17 459.46L333.93 459.87L337.27 463.21L336.44 464.03Z"/><path d="M352.12 464.03L348.79 460.70L348.37 461.93L345.49 456.57L350.85 459.46L349.61 459.87L352.94 463.21L352.12 464.03Z"/><path d="M367.80 464.03L364.46 460.70L364.05 461.93L361.16 456.57L366.52 459.46L365.29 459.87L368.62 463.21L367.80 464.03Z"/><path d="M383.47 464.03L380.14 460.70L379.73 461.93L376.84 456.57L382.20 459.46L380.97 459.87L384.30 463.21L383.47 464.03Z"/><path d="M399.15 464.03L395.82 460.70L395.41 461.93L392.52 456.57L397.88 459.46L396.64 459.87L399.98 463.21L399.15 464.03Z"/><path d="M414.83 464.03L411.50 460.70L411.08 461.93L408.20 456.57L413.56 459.46L412.32 459.87L415.65 463.21L414.83 464.03Z"/><path d="M430.51 464.03L427.17 460.70L426.76 461.93L423.87 456.57L429.23 459.46L428.00 459.87L431.33 463.21L430.51 464.03Z"/><path d="M446.18 464.03L442.85 460.70L442.44 461.93L439.55 456.57L444.91 459.46L443.67 459.87L447.01 463.21L446.18 464.03Z"/><path d="M461.86 464.03L458.53 460.70L458.12 461.93L455.23 456.57L460.59 459.46L459.35 459.87L462.69 463.21L461.86 464.03Z"/><path d="M477.54 464.03L474.20 460.70L473.79 461.93L470.91 456.57L476.27 459.46L475.03 459.87L478.36 463.21L477.54 464.03Z"/><path d="M493.22 464.03L489.88 460.70L489.47 461.93L486.58 456.57L491.94 459.46L490.71 459.87L494.04 463.21L493.22 464.03Z"/><path d="M508.89 464.03L505.56 460.70L505.15 461.93L502.26 456.57L507.62 459.46L506.38 459.87L509.72 463.21L508.89 464.03Z"/><path d="M524.57 464.03L521.24 460.70L520.82 461.93L517.94 456.57L523.30 459.46L522.06 459.87L525.40 463.21L524.57 464.03Z"/><path d="M541.24 463.62L540.95 463.11L540.37 463.11L540.08 463.62L540.37 464.12L540.95 464.12L541.24 463.62L540.95 463.11Z"/><path d="M70.92 447.96L70.63 447.46L70.05 447.46L69.76 447.96L70.05 448.47L70.63 448.47L70.92 447.96L70.63 447.46Z"/><path d="M85.60 447.55L88.94 444.22L87.70 443.80L93.06 440.92L90.18 446.28L89.76 445.04L86.43 448.38L85.60 447.55Z"/><path d="M101.28 447.55L104.62 444.22L103.38 443.80L108.74 440.92L105.85 446.28L105.44 445.04L102.11 448.38L101.28 447.55Z"/><path d="M116.96 447.55L120.29 444.22L119.06 443.80L124.42 440.92L121.53 446.28L121.12 445.04L117.78 448.38L116.96 447.55Z"/><path d="M132.64 447.55L135.97 444.22L134.73 443.80L140.09 440.92L137.21 446.28L136.80 445.04L133.46 448.38L132.64 447.55Z"/><path d="M148.31 447.55L151.65 444.22L150.41 443.80L155.77 440.92L152.88 446.28L152.47 445.04L149.14 448.38L148.31 447.55Z"/><path d="M163.99 447.55L167.33 444.22L166.09 443.80L171.45 440.92L168.56 446.28L168.15 445.04L164.82 448.38L163.99 447.55Z"/><path d="M179.67 447.55L183.00 444.22L181.77 443.80L187.13 440.92L184.24 446.28L183.83 445.04L180.49 448.38L179.67 447.55Z"/><path d="M195.35 447.55L198.68 444.22L197.44 443.80L202.80 440.92L199.92 446.28L199.50 445.04L196.17 448.38L195.35 447.55Z"/><path d="M211.02 447.55L214.36 444.22L213.12 443.80L218.48 440.92L215.59 446.28L215.18 445.04L211.85 448.38L211.02 447.55Z"/><path d="M226.70 447.55L230.03 444.22L228.80 443.80L234.16 440.92L231.27 446.28L230.86 445.04L227.53 448.38L226.70 447.55Z"/><path d="M242.38 447.55L245.71 444.22L244.48 443.80L249.84 440.92L246.95 446.28L246.54 445.04L243.20 448.38L242.38 447.55Z"/><path d="M258.06 447.55L261.39 444.22L260.15 443.80L265.51 440.92L262.63 446.28L262.21 445.04L258.88 448.38L258.06 447.55Z"/><path d="M273.73 447.55L277.07 444.22L275.83 443.80L281.19 440.92L278.30 446.28L277.89 445.04L274.56 448.38L273.73 447.55Z"/><path d="M289.41 447.55L292.74 444.22L291.51 443.80L296.87 440.92L293.98 446.28L293.57 445.04L290.23 448.38L289.41 447.55Z"/><path d="M304.92 447.96L304.92 443.25L303.75 443.83L305.50 438.00L307.25 443.83L306.08 443.25L306.08 447.96L304.92 447.96Z"/><path d="M320.77 448.38L317.43 445.04L317.02 446.28L314.13 440.92L319.49 443.80L318.26 444.22L321.59 447.55L320.77 448.38Z"/><path d="M336.44 448.38L333.11 445.04L332.70 446.28L329.81 440.92L335.17 443.80L333.93 444.22L337.27 447.55L336.44 448.38Z"/><path d="M352.12 448.38L348.79 445.04L348.37 446.28L345.49 440.92L350.85 443.80L349.61 444.22L352.94 447.55L352.12 448.38Z"/><path d="M367.80 448.38L364.46 445.04L364.05 446.28L361.16 440.92L366.52 443.80L365.29 444.22L368.62 447.55L367.80 448.38Z"/><path d="M383.47 448.38L380.14 445.04L379.73 446.28L376.84 440.92L382.20 443.80L380.97 444.22L384.30 447.55L383.47 448.38Z"/><path d="M399.15 448.38L395.82 445.04L395.41 446.28L392.52 440.92L397.88 443.80L396.64 444.22L399.98 447.55L399.15 448.38Z"/><path d="M414.83 448.38L411.50 445.04L411.08 446.28L408.20 440.92L413.56 443.80L412.32 444.22L415.65 447.55L414.83 448.38Z"/><path d="M430.51 448.38L427.17 445.04L426.76 446.28L423.87 440.92L429.23 443.80L428.00 444.22L431.33 447.55L430.51 448.38Z"/><path d="M446.18 448.38L442.85 445.04L442.44 446.28L439.55 440.92L444.91 443.80L443.67 444.22L447.01 447.55L446.18 448.38Z"/><path d="M461.86 448.38L458.53 445.04L458.12 446.28L455.23 440.92L460.59 443.80L459.35 444.22L462.69 447.55L461.86 448.38Z"/><path d="M477.54 448.38L474.20 445.04L473.79 446.28L470.91 440.92L476.27 443.80L475.03 444.22L478.36 447.55L477.54 448.38Z"/><path d="M493.22 448.38L489.88 445.04L489.47 446.28L486.58 440.92L491.94 443.80L490.71 444.22L494.04 447.55L493.22 448.38Z"/><path d="M508.89 448.38L505.56 445.04L505.15 446.28L502.26 440.92L507.62 443.80L506.38 444.22L509.72 447.55L508.89 448.38Z"/><path d="M524.57 448.38L521.24 445.04L520.82 446.28L517.94 440.92L523.30 443.80L522.06 444.22L525.40 447.55L524.57 448.38Z"/><path d="M541.24 447.96L540.95 447.46L540.37 447.46L540.08 447.96L540.37 448.47L540.95 448.47L541.24 447.96L540.95 447.46Z"/><path d="M70.92 432.31L70.63 431.80L70.05 431.80L69.76 432.31L70.05 432.81L70.63 432.81L70.92 432.31L70.63 431.80Z"/><path d="M85.60 431.90L88.94 428.56L87.70 428.15L93.06 425.26L90.18 430.62L89.76 429.39L86.43 432.72L85.60 431.90Z"/><path d="M101.28 431.90L104.62 428.56L103.38 428.15L108.74 425.26L105.85 430.62L105.44 429.39L102.11 432.72L101.28 431.90Z"/><path d="M116.96 431.90L120.29 428.56L119.06 428.15L124.42 425.26L121.53 430.62L121.12 429.39L117.78 432.72L116.96 431.90Z"/><path d="M132.64 431.90L135.97 428.56L134.73 428.15L140.09 425.26L137.21 430.62L136.80 429.39L133.46 432.72L132.64 431.90Z"/><path d="M148.31 431.90L151.65 428.56L150.41 428.15L155.77 425.26L152.88 430.62L152.47 429.39L149.14 432.72L148.31 431.90Z"/><path d="M163.99 431.90L167.33 428.56L166.09 428.15L171.45 425.26L168.56 430.62L168.15 429.39L164.82 432.72L163.99 431.90Z"/><path d="M179.67 431.90L183.00 428.56L181.77 428.15L187.13 425.26L184.24 430.62L183.83 429.39L180.49 432.72L179.67 431.90Z"/><path d="M195.35 431.90L198.68 428.56L197.44 428.15L202.80 425.26L199.92 430.62L199.50 429.39L196.17 432.72L195.35 431.90Z"/><path d="M211.02 431.90L214.36 428.56L213.12 428.15L218.48 425.26L215.59 430.62L215.18 429.39L211.85 432.72L211.02 431.90Z"/><path d="M226.70 431.90L230.03 428.56L228.80 428.15L234.16 425.26L231.27 430.62L230.86 429.39L227.53 432.72L226.70 431.90Z"/><path d="M242.38 431.90L245.71 428.56L244.48 428.15L249.84 425.26L246.95 430.62L246.54 429.39L243.20 432.72L242.38 431.90Z"/><path d="M258.06 431.90L261.39 428.56L260.15 428.15L265.51 425.26L262.63 430.62L262.21 429.39L258.88 432.72L258.06 431.90Z"/><path d="M273.73 431.90L277.07 428.56L275.83 428.15L281.19 425.26L278.30 430.62L277.89 429.39L274.56 432.72L273.73 431.90Z"/><path d="M289.41 431.90L292.74 428.56L291.51 428.15L296.87 425.26L293.98 430.62L293.57 429.39L290.23 432.72L289.41 431.90Z"/><path d="M304.92 432.31L304.92 427.59L303.75 428.18L305.50 422.34L307.25 428.18L306.08 427.59L306.08 432.31L304.92 432.31Z"/><path d="M320.77 432.72L317.43 429.39L317.02 430.62L314.13 425.26L319.49 428.15L318.26 428.56L321.59 431.90L320.77 432.72Z"/><path d="M336.44 432.72L333.11 429.39L332.70 430.62L329.81 425.26L335.17 428.15L333.93 428.56L337.27 431.90L336.44 432.72Z"/><path d="M352.12 432.72L348.79 429.39L348.37 430.62L345.49 425.26L350.85 428.15L349.61 428.56L352.94 431.90L352.12 432.72Z"/><path d="M367.80 432.72L364.46 429.39L364.05 430.62L361.16 425.26L366.52 428.15L365.29 428.56L368.62 431.90L367.80 432.72Z"/><path d="M383.47 432.72L380.14 429.39L379.73 430.62L376.84 425.26L382.20 428.15L380.97 428.56L384.30 431.90L383.47 432.72Z"/><path d="M399.15 432.72L395.82 429.39L395.41 430.62L392.52 425.26L397.88 428.15L396.64 428.56L399.98 431.90L399.15 432.72Z"/><path d="M414.83 432.72L411.50 429.39L411.08 430.62L408.20 425.26L413.56 428.15L412.32 428.56L415.65 431.90L414.83 432.72Z"/><path d="M430.51 432.72L427.17 429.39L426.76 430.62L423.87 425.26L429.23 428.15L428.00 428.56L431.33 431.90L430.51 432.72Z"/><path d="M446.18 432.72L442.85 429.39L442.44 430.62L439.55 425.26L444.91 428.15L443.67 428.56L447.01 431.90L446.18 432.72Z"/><path d="M461.86 432.72L458.53 429.39L458.12 430.62L455.23 425.26L460.59 428.15L459.35 428.56L462.69 431.90L461.86 432.72Z"/><path d="M477.54 432.72L474.20 429.39L473.79 430.62L470.91 425.26L476.27 428.15L475.03 428.56L478.36 431.90L477.54 432.72Z"/><path d="M493.22 432.72L489.88 429.39L489.47 430.62L486.58 425.26L491.94 428.15L490.71 428.56L494.04 431.90L493.22 432.72Z"/><path d="M508.89 432.72L505.56 429.39L505.15 430.62L502.26 425.26L507.62 428.15L506.38 428.56L509.72 431.90L508.89 432.72Z"/><path d="M524.57 432.72L521.24 429.39L520.82 430.62L517.94 425.26L523.30 428.15L522.06 428.56L525.40 431.90L524.57 432.72Z"/><path d="M541.24 432.31L540.95 431.80L540.37 431.80L540.08 432.31L540.37 432.81L540.95 432.81L541.24 432.31L540.95 431.80Z"/><path d="M70.92 416.65L70.63 416.15L70.05 416.15L69.76 416.65L70.05 417.16L70.63 417.16L70.92 416.65L70.63 416.15Z"/><path d="M85.60 416.24L88.94 412.91L87.70 412.49L93.06 409.61L90.18 414.97L89.76 413.73L86.43 417.07L85.60 416.24Z"/><path d="M101.28 416.24L104.62 412.91L103.38 412.49L108.74 409.61L105.85 414.97L105.44 413.73L102.11 417.07L101.28 416.24Z"/><path d="M116.96 416.24L120.29 412.91L119.06 412.49L124.42 409.61L121.53 414.97L121.12 413.73L117.78 417.07L116.96 416.24Z"/><path d="M132.64 416.24L135.97 412.91L134.73 412.49L140.09 409.61L137.21 414.97L136.80 413.73L133.46 417.07L132.64 416.24Z"/><path d="M148.31 416.24L151.65 412.91L150.41 412.49L155.77 409.61L152.88 414.97L152.47 413.73L149.14 417.07L148.31 416.24Z"/><path d="M163.99 416.24L167.33 412.91L166.09 412.49L171.45 409.61L168.56 414.97L168.15 413.73L164.82 417.07L163.99 416.24Z"/><path d="M179.67 416.24L183.00 412.91L181.77 412.49L187.13 409.61L184.24 414.97L183.83 413.73L180.49 417.07L179.67 416.24Z"/><path d="M195.35 416.24L198.68 412.91L197.44 412.49L202.80 409.61L199.92 414.97L199.50 413.73L196.17 417.07L195.35 416.24Z"/><path d="M211.02 416.24L214.36 412.91L213.12 412.49L218.48 409.61L215.59 414.97L215.18 413.73L211.85 417.07L211.02 416.24Z"/><path d="M226.70 416.24L230.03 412.91L228.80 412.49L234.16 409.61L231.27 414.97L230.86 413.73L227.53 417.07L226.70 416.24Z"/><path d="M242.38 416.24L245.71 412.91L244.48 412.49L249.84 409.61L246.95 414.97L246.54 413.73L243.20 417.07L242.38 416.24Z"/><path d="M258.06 416.24L261.39 412.91L260.15 412.49L265.51 409.61L262.63 414.97L262.21 413.73L258.88 417.07L258.06 416.24Z"/><path d="M273.73 416.24L277.07 412.91L275.83 412.49L281.19 409.61L278.30 414.97L277.89 413.73L274.56 417.07L273.73 416.24Z"/><path d="M289.41 416.24L292.74 412.91L291.51 412.49L296.87 409.61L293.98 414.97L293.57 413.73L290.23 417.07L289.41 416.24Z"/><path d="M304.92 416.65L304.92 411.94L303.75 412.52L305.50 406.69L307.25 412.52L306.08 411.94L306.08 416.65L304.92 416.65Z"/><path d="M320.77 417.07L317.43 413.73L317.02 414.97L314.13 409.61L319.49 412.49L318.26 412.91L321.59 416.24L320.77 417.07Z"/><path d="M336.44 417.07L333.11 413.73L332.70 414.97L329.81 409.61L335.17 412.49L333.93 412.91L337.27 416.24L336.44 417.07Z"/><path d="M352.12 417.07L348.79 413.73L348.37 414.97L345.49 409.61L350.85 412.49L349.61 412.91L352.94 416.24L352.12 417.07Z"/><path d="M367.80 417.07L364.46 413.73L364.05 414.97L361.16 409.61L366.52 412.49L365.29 412.91L368.62 416.24L367.80 417.07Z"/><path d="M383.47 417.07L380.14 413.73L379.73 414.97L376.84 409.61L382.20 412.49L380.97 412.91L384.30 416.24L383.47 417.07Z"/><path d="M399.15 417.07L395.82 413.73L395.41 414.97L392.52 409.61L397.88 412.49L396.64 412.91L399.98 416.24L399.15 417.07Z"/><path d="M414.83 417.07L411.50 413.73L411.08 414.97L408.20 409.61L413.56 412.49L412.32 412.91L415.65 416.24L414.83 417.07Z"/><path d="M430.51 417.07L427.17 413.73L426.76 414.97L423.87 409.61L429.23 412.49L428.00 412.91L431.33 416.24L430.51 417.07Z"/><path d="M446.18 417.07L442.85 413.73L442.44 414.97L439.55 409.61L444.91 412.49L443.67 412.91L447.01 416.24L446.18 417.07Z"/><path d="M461.86 417.07L458.53 413.73L458.12 414.97L455.23 409.61L460.59 412.49L459.35 412.91L462.69 416.24L461.86 417.07Z"/><path d="M477.54 417.07L474.20 413.73L473.79 414.97L470.91 409.61L476.27 412.49L475.03 412.91L478.36 416.24L477.54 417.07Z"/><path d="M493.22 417.07L489.88 413.73L489.47 414.97L486.58 409.61L491.94 412.49L490.71 412.91L494.04 416.24L493.22 417.07Z"/><path d="M508.89 417.07L505.56 413.73L505.15 414.97L502.26 409.61L507.62 412.49L506.38 412.91L509.72 416.24L508.89 417.07Z"/><path d="M524.57 417.07L521.24 413.73L520.82 414.97L517.94 409.61L523.30 412.49L522.06 412.91L525.40 416.24L524.57 417.07Z"/><path d="M541.24 416.65L540.95 416.15L540.37 416.15L540.08 416.65L540.37 417.16L540.95 417.16L541.24 416.65L540.95 416.15Z"/><path d="M70.92 401.00L70.63 400.49L70.05 400.49L69.76 401.00L70.05 401.50L70.63 401.50L70.92 401.00L70.63 400.49Z"/><path d="M85.60 400.59L88.94 397.25L87.70 396.84L93.06 393.95L90.18 399.31L89.76 398.08L86.43 401.41L85.60 400.59Z"/><path d="M101.28 400.59L104.62 397.25L103.38 396.84L108.74 393.95L105.85 399.31L105.44 398.08L102.11 401.41L101.28 400.59Z"/><path d="M116.96 400.59L120.29 397.25L119.06 396.84L124.42 393.95L121.53 399.31L121.12 398.08L117.78 401.41L116.96 400.59Z"/><path d="M132.64 400.59L135.97 397.25L134.73 396.84L140.09 393.95L137.21 399.31L136.80 398.08L133.46 401.41L132.64 400.59Z"/><path d="M148.31 400.59L151.65 397.25L150.41 396.84L155.77 393.95L152.88 399.31L152.47 398.08L149.14 401.41L148.31 400.59Z"/><path d="M163.99 400.59L167.33 397.25L166.09 396.84L171.45 393.95L168.56 399.31L168.15 398.08L164.82 401.41L163.99 400.59Z"/><path d="M179.67 400.59L183.00 397.25L181.77 396.84L187.13 393.95L184.24 399.31L183.83 398.08L180.49 401.41L179.67 400.59Z"/><path d="M195.35 400.59L198.68 397.25L197.44 396.84L202.80 393.95L199.92 399.31L199.50 398.08L196.17 401.41L195.35 400.59Z"/><path d="M211.02 400.59L214.36 397.25L213.12 396.84L218.48 393.95L215.59 399.31L215.18 398.08L211.85 401.41L211.02 400.59Z"/><path d="M226.70 400.59L230.03 397.25L228.80 396.84L234.16 393.95L231.27 399.31L230.86 398.08L227.53 401.41L226.70 400.59Z"/><path d="M242.38 400.59L245.71 397.25L244.48 396.84L249.84 393.95L246.95 399.31L246.54 398.08L243.20 401.41L242.38 400.59Z"/><path d="M258.06 400.59L261.39 397.25L260.15 396.84L265.51 393.95L262.63 399.31L262.21 398.08L258.88 401.41L258.06 400.59Z"/><path d="M273.73 400.59L277.07 397.25L275.83 396.84L281.19 393.95L278.30 399.31L277.89 398.08L274.56 401.41L273.73 400.59Z"/><path d="M289.41 400.59L292.74 397.25L291.51 396.84L296.87 393.95L293.98 399.31L293.57 398.08L290.23 401.41L289.41 400.59Z"/><path d="M304.92 401.00L304.92 396.28L303.75 396.87L305.50 391.03L307.25 396.87L306.08 396.28L306.08 401.00L304.92 401.00Z"/><path d="M320.77 401.41L317.43 398.08L317.02 399.31L314.13 393.95L319.49 396.84L318.26 397.25L321.59 400.59L320.77 401.41Z"/><path d="M336.44 401.41L333.11 398.08L332.70 399.31L329.81 393.95L335.17 396.84L333.93 397.25L337.27 400.59L336.44 401.41Z"/><path d="M352.12 401.41L348.79 398.08L348.37 399.31L345.49 393.95L350.85 396.84L349.61 397.25L352.94 400.59L352.12 401.41Z"/><path d="M367.80 401.41L364.46 398.08L364.05 399.31L361.16 393.95L366.52 396.84L365.29 397.25L368.62 400.59L367.80 401.41Z"/><path d="M383.47 401.41L380.14 398.08L379.73 399.31L376.84 393.95L382.20 396.84L380.97 397.25L384.30 400.59L383.47 401.41Z"/><path d="M399.15 401.41L395.82 398.08L395.41 399.31L392.52 393.95L397.88 396.84L396.64 397.25L399.98 400.59L399.15 401.41Z"/><path d="M414.83 401.41L411.50 398.08L411.08 399.31L408.20 393.95L413.56 396.84L412.32 397.25L415.65 400.59L414.83 401.41Z"/><path d="M430.51 401.41L427.17 398.08L426.76 399.31L423.87 393.95L429.23 396.84L428.00 397.25L431.33 400.59L430.51 401.41Z"/><path d="M446.18 401.41L442.85 398.08L442.44 399.31L439.55 393.95L444.91 396.84L443.67 397.25L447.01 400.59L446.18 401.41Z"/><path d="M461.86 401.41L458.53 398.08L458.12 399.31L455.23 393.95L460.59 396.84L459.35 397.25L462.69 400.59L461.86 401.41Z"/><path d="M477.54 401.41L474.20 398.08L473.79 399.31L470.91 393.95L476.27 396.84L475.03 397.25L478.36 400.59L477.54 401.41Z"/><path d="M493.22 401.41L489.88 398.08L489.47 399.31L486.58 393.95L491.94 396.84L490.71 397.25L494.04 400.59L493.22 401.41Z"/><path d="M508.89 401.41L505.56 398.08L505.15 399.31L502.26 393.95L507.62 396.84L506.38 397.25L509.72 400.59L508.89 401.41Z"/><path d="M524.57 401.41L521.24 398.08L520.82 399.31L517.94 393.95L523.30 396.84L522.06 397.25L525.40 400.59L524.57 401.41Z"/><path d="M541.24 401.00L540.95 400.49L540.37 400.49L540.08 401.00L540.37 401.50L540.95 401.50L541.24 401.00L540.95 400.49Z"/><path d="M70.92 385.34L70.63 384.84L70.05 384.84L69.76 385.34L70.05 385.85L70.63 385.85L70.92 385.34L70.63 384.84Z"/><path d="M85.60 384.93L88.94 381.60L87.70 381.18L93.06 378.30L90.18 383.66L89.76 382.42L86.43 385.76L85.60 384.93Z"/><path d="M101.28 384.93L104.62 381.60L103.38 381.18L108.74 378.30L105.85 383.66L105.44 382.42L102.11 385.76L101.28 384.93Z"/><path d="M116.96 384.93L120.29 381.60L119.06 381.18L124.42 378.30L121.53 383.66L121.12 382.42L117.78 385.76L116.96 384.93Z"/><path d="M132.64 384.93L135.97 381.60L134.73 381.18L140.09 378.30L137.21 383.66L136.80 382.42L133.46 385.76L132.64 384.93Z"/><path d="M148.31 384.93L151.65 381.60L150.41 381.18L155.77 378.30L152.88 383.66L152.47 382.42L149.14 385.76L148.31 384.93Z"/><path d="M163.99 384.93L167.33 381.60L166.09 381.18L171.45 378.30L168.56 383.66L168.15 382.42L164.82 385.76L163.99 384.93Z"/><path d="M179.67 384.93L183.00 381.60L181.77 381.18L187.13 378.30L184.24 383.66L183.83 382.42L180.49 385.76L179.67 384.93Z"/><path d="M195.35 384.93L198.68 381.60L197.44 381.18L202.80 378.30L199.92 383.66L199.50 382.42L196.17 385.76L195.35 384.93Z"/><path d="M211.02 384.93L214.36 381.60L213.12 381.18L218.48 378.30L215.59 383.66L215.18 382.42L211.85 385.76L211.02 384.93Z"/><path d="M226.70 384.93L230.03 381.60L228.80 381.18L234.16 378.30L231.27 383.66L230.86 382.42L227.53 385.76L226.70 384.93Z"/><path d="M242.38 384.93L245.71 381.60L244.48 381.18L249.84 378.30L246.95 383.66L246.54 382.42L243.20 385.76L242.38 384.93Z"/><path d="M258.06 384.93L261.39 381.60L260.15 381.18L265.51 378.30L262.63 383.66L262.21 382.42L258.88 385.76L258.06 384.93Z"/><path d="M273.73 384.93L277.07 381.60L275.83 381.18L281.19 378.30L278.30 383.66L277.89 382.42L274.56 385.76L273.73 384.93Z"/><path d="M289.41 384.93L292.74 381.60L291.51 381.18L296.87 378.30L293.98 383.66L293.57 382.42L290.23 385.76L289.41 384.93Z"/><path d="M304.92 385.34L304.92 380.63L303.75 381.21L305.50 375.38L307.25 381.21L306.08 380.63L306.08 385.34L304.92 385.34Z"/><path d="M320.77 385.76L317.43 382.42L317.02 383.66L314.13 378.30L319.49 381.18L318.26 381.60L321.59 384.93L320.77 385.76Z"/><path d="M336.44 385.76L333.11 382.42L332.70 383.66L329.81 378.30L335.17 381.18L333.93 381.60L337.27 384.93L336.44 385.76Z"/><path d="M352.12 385.76L348.79 382.42L348.37 383.66L345.49 378.30L350.85 381.18L349.61 381.60L352.94 384.93L352.12 385.76Z"/><path d="M367.80 385.76L364.46 382.42L364.05 383.66L361.16 378.30L366.52 381.18L365.29 381.60L368.62 384.93L367.80 385.76Z"/><path d="M383.47 385.76L380.14 382.42L379.73 383.66L376.84 378.30L382.20 381.18L380.97 381.60L384.30 384.93L383.47 385.76Z"/><path d="M399.15 385.76L395.82 382.42L395.41 383.66L392.52 378.30L397.88 381.18L396.64 381.60L399.98 384.93L399.15 385.76Z"/><path d="M414.83 385.76L411.50 382.42L411.08 383.66L408.20 378.30L413.56 381.18L412.32 381.60L415.65 384.93L414.83 385.76Z"/><path d="M430.51 385.76L427.17 382.42L426.76 383.66L423.87 378.30L429.23 381.18L428.00 381.60L431.33 384.93L430.51 385.76Z"/><path d="M446.18 385.76L442.85 382.42L442.44 383.66L439.55 378.30L444.91 381.18L443.67 381.60L447.01 384.93L446.18 385.76Z"/><path d="M461.86 385.76L458.53 382.42L458.12 383.66L455.23 378.30L460.59 381.18L459.35 381.60L462.69 384.93L461.86 385.76Z"/><path d="M477.54 385.76L474.20 382.42L473.79 383.66L470.91 378.30L476.27 381.18L475.03 381.60L478.36 384.93L477.54 385.76Z"/><path d="M493.22 385.76L489.88 382.42L489.47 383.66L486.58 378.30L491.94 381.18L490.71 381.60L494.04 384.93L493.22 385.76Z"/><path d="M508.89 385.76L505.56 382.42L505.15 383.66L502.26 378.30L507.62 381.18L506.38 381.60L509.72 384.93L508.89 385.76Z"/><path d="M524.57 385.76L521.24 382.42L520.82 383.66L517.94 378.30L523.30 381.18L522.06 381.60L525.40 384.93L524.57 385.76Z"/><path d="M541.24 385.34L540.95 384.84L540.37 384.84L540.08 385.34L540.37 385.85L540.95 385.85L541.24 385.34L540.95 384.84Z"/><path d="M70.92 369.69L70.63 369.18L70.05 369.18L69.76 369.69L70.05 370.19L70.63 370.19L70.92 369.69L70.63 369.18Z"/><path d="M85.60 369.28L88.94 365.94L87.70 365.53L93.06 362.64L90.18 368.00L89.76 366.77L86.43 370.10L85.60 369.28Z"/><path d="M101.28 369.28L104.62 365.94L103.38 365.53L108.74 362.64L105.85 368.00L105.44 366.77L102.11 370.10L101.28 369.28Z"/><path d="M116.96 369.28L120.29 365.94L119.06 365.53L124.42 362.64L121.53 368.00L121.12 366.77L117.78 370.10L116.96 369.28Z"/><path d="M132.64 369.28L135.97 365.94L134.73 365.53L140.09 362.64L137.21 368.00L136.80 366.77L133.46 370.10L132.64 369.28Z"/><path d="M148.31 369.28L151.65 365.94L150.41 365.53L155.77 362.64L152.88 368.00L152.47 366.77L149.14 370.10L148.31 369.28Z"/><path d="M163.99 369.28L167.33 365.94L166.09 365.53L171.45 362.64L168.56 368.00L168.15 366.77L164.82 370.10L163.99 369.28Z"/><path d="M179.67 369.28L183.00 365.94L181.77 365.53L187.13 362.64L184.24 368.00L183.83 366.77L180.49 370.10L179.67 369.28Z"/><path d="M195.35 369.28L198.68 365.94L197.44 365.53L202.80 362.64L199.92 368.00L199.50 366.77L196.17 370.10L195.35 369.28Z"/><path d="M211.02 369.28L214.36 365.94L213.12 365.53L218.48 362.64L215.59 368.00L215.18 366.77L211.85 370.10L211.02 369.28Z"/><path d="M226.70 369.28L230.03 365.94L228.80 365.53L234.16 362.64L231.27 368.00L230.86 366.77L227.53 370.10L226.70 369.28Z"/><path d="M242.38 369.28L245.71 365.94L244.48 365.53L249.84 362.64L246.95 368.00L246.54 366.77L243.20 370.10L242.38 369.28Z"/><path d="M258.06 369.28L261.39 365.94L260.15 365.53L265.51 362.64L262.63 368.00L262.21 366.77L258.88 370.10L258.06 369.28Z"/><path d="M273.73 369.28L277.07 365.94L275.83 365.53L281.19 362.64L278.30 368.00L277.89 366.77L274.56 370.10L273.73 369.28Z"/><path d="M289.41 369.28L292.74 365.94L291.51 365.53L296.87 362.64L293.98 368.00L293.57 366.77L290.23 370.10L289.41 369.28Z"/><path d="M304.92 369.69L304.92 364.97L303.75 365.56L305.50 359.72L307.25 365.56L306.08 364.97L306.08 369.69L304.92 369.69Z"/><path d="M320.77 370.10L317.43 366.77L317.02 368.00L314.13 362.64L319.49 365.53L318.26 365.94L321.59 369.28L320.77 370.10Z"/><path d="M336.44 370.10L333.11 366.77L332.70 368.00L329.81 362.64L335.17 365.53L333.93 365.94L337.27 369.28L336.44 370.10Z"/><path d="M352.12 370.10L348.79 366.77L348.37 368.00L345.49 362.64L350.85 365.53L349.61 365.94L352.94 369.28L352.12 370.10Z"/><path d="M367.80 370.10L364.46 366.77L364.05 368.00L361.16 362.64L366.52 365.53L365.29 365.94L368.62 369.28L367.80 370.10Z"/><path d="M383.47 370.10L380.14 366.77L379.73 368.00L376.84 362.64L382.20 365.53L380.97 365.94L384.30 369.28L383.47 370.10Z"/><path d="M399.15 370.10L395.82 366.77L395.41 368.00L392.52 362.64L397.88 365.53L396.64 365.94L399.98 369.28L399.15 370.10Z"/><path d="M414.83 370.10L411.50 366.77L411.08 368.00L408.20 362.64L413.56 365.53L412.32 365.94L415.65 369.28L414.83 370.10Z"/><path d="M430.51 370.10L427.17 366.77L426.76 368.00L423.87 362.64L429.23 365.53L428.00 365.94L431.33 369.28L430.51 370.10Z"/><path d="M446.18 370.10L442.85 366.77L442.44 368.00L439.55 362.64L444.91 365.53L443.67 365.94L447.01 369.28L446.18 370.10Z"/><path d="M461.86 370.10L458.53 366.77L458.12 368.00L455.23 362.64L460.59 365.53L459.35 365.94L462.69 369.28L461.86 370.10Z"/><path d="M477.54 370.10L474.20 366.77L473.79 368.00L470.91 362.64L476.27 365.53L475.03 365.94L478.36 369.28L477.54 370.10Z"/><path d="M493.22 370.10L489.88 366.77L489.47 368.00L486.58 362.64L491.94 365.53L490.71 365.94L494.04 369.28L493.22 370.10Z"/><path d="M508.89 370.10L505.56 366.77L505.15 368.00L502.26 362.64L507.62 365.53L506.38 365.94L509.72 369.28L508.89 370.10Z"/><path d="M524.57 370.10L521.24 366.77L520.82 368.00L517.94 362.64L523.30 365.53L522.06 365.94L525.40 369.28L524.57 370.10Z"/><path d="M541.24 369.69L540.95 369.18L540.37 369.18L540.08 369.69L540.37 370.19L540.95 370.19L541.24 369.69L540.95 369.18Z"/><path d="M70.92 354.03L70.63 353.53L70.05 353.53L69.76 354.03L70.05 354.54L70.63 354.54L70.92 354.03L70.63 353.53Z"/><path d="M85.60 353.62L88.94 350.29L87.70 349.87L93.06 346.99L90.18 352.35L89.76 351.11L86.43 354.45L85.60 353.62Z"/><path d="M101.28 353.62L104.62 350.29L103.38 349.87L108.74 346.99L105.85 352.35L105.44 351.11L102.11 354.45L101.28 353.62Z"/><path d="M116.96 353.62L120.29 350.29L119.06 349.87L124.42 346.99L121.53 352.35L121.12 351.11L117.78 354.45L116.96 353.62Z"/><path d="M132.64 353.62L135.97 350.29L134.73 349.87L140.09 346.99L137.21 352.35L136.80 351.11L133.46 354.45L132.64 353.62Z"/><path d="M148.31 353.62L151.65 350.29L150.41 349.87L155.77 346.99L152.88 352.35L152.47 351.11L149.14 354.45L148.31 353.62Z"/><path d="M163.99 353.62L167.33 350.29L166.09 349.87L171.45 346.99L168.56 352.35L168.15 351.11L164.82 354.45L163.99 353.62Z"/><path d="M179.67 353.62L183.00 350.29L181.77 349.87L187.13 346.99L184.24 352.35L183.83 351.11L180.49 354.45L179.67 353.62Z"/><path d="M195.35 353.62L198.68 350.29L197.44 349.87L202.80 346.99L199.92 352.35L199.50 351.11L196.17 354.45L195.35 353.62Z"/><path d="M211.02 353.62L214.36 350.29L213.12 349.87L218.48 346.99L215.59 352.35L215.18 351.11L211.85 354.45L211.02 353.62Z"/><path d="M226.70 353.62L230.03 350.29L228.80 349.87L234.16 346.99L231.27 352.35L230.86 351.11L227.53 354.45L226.70 353.62Z"/><path d="M242.38 353.62L245.71 350.29L244.48 349.87L249.84 346.99L246.95 352.35L246.54 351.11L243.20 354.45L242.38 353.62Z"/><path d="M258.06 353.62L261.39 350.29L260.15 349.87L265.51 346.99L262.63 352.35L262.21 351.11L258.88 354.45L258.06 353.62Z"/><path d="M273.73 353.62L277.07 350.29L275.83 349.87L281.19 346.99L278.30 352.35L277.89 351.11L274.56 354.45L273.73 353.62Z"/><path d="M289.41 353.62L292.74 350.29L291.51 349.87L296.87 346.99L293.98 352.35L293.57 351.11L290.23 354.45L289.41 353.62Z"/><path d="M304.92 354.03L304.92 349.32L303.75 349.90L305.50 344.07L307.25 349.90L306.08 349.32L306.08 354.03L304.92 354.03Z"/><path d="M320.77 354.45L317.43 351.11L317.02 352.35L314.13 346.99L319.49 349.87L318.26 350.29L321.59 353.62L320.77 354.45Z"/><path d="M336.44 354.45L333.11 351.11L332.70 352.35L329.81 346.99L335.17 349.87L333.93 350.29L337.27 353.62L336.44 354.45Z"/><path d="M352.12 354.45L348.79 351.11L348.37 352.35L345.49 346.99L350.85 349.87L349.61 350.29L352.94 353.62L352.12 354.45Z"/><path d="M367.80 354.45L364.46 351.11L364.05 352.35L361.16 346.99L366.52 349.87L365.29 350.29L368.62 353.62L367.80 354.45Z"/><path d="M383.47 354.45L380.14 351.11L379.73 352.35L376.84 346.99L382.20 349.87L380.97 350.29L384.30 353.62L383.47 354.45Z"/><path d="M399.15 354.45L395.82 351.11L395.41 352.35L392.52 346.99L397.88 349.87L396.64 350.29L399.98 353.62L399.15 354.45Z"/><path d="M414.83 354.45L411.50 351.11L411.08 352.35L408.20 346.99L413.56 349.87L412.32 350.29L415.65 353.62L414.83 354.45Z"/><path d="M430.51 354.45L427.17 351.11L426.76 352.35L423.87 346.99L429.23 349.87L428.00 350.29L431.33 353.62L430.51 354.45Z"/><path d="M446.18 354.45L442.85 351.11L442.44 352.35L439.55 346.99L444.91 349.87L443.67 350.29L447.01 353.62L446.18 354.45Z"/><path d="M461.86 354.45L458.53 351.11L458.12 352.35L455.23 346.99L460.59 349.87L459.35 350.29L462.69 353.62L461.86 354.45Z"/><path d="M477.54 354.45L474.20 351.11L473.79 352.35L470.91 346.99L476.27 349.87L475.03 350.29L478.36 353.62L477.54 354.45Z"/><path d="M493.22 354.45L489.88 351.11L489.47 352.35L486.58 346.99L491.94 349.87L490.71 350.29L494.04 353.62L493.22 354.45Z"/><path d="M508.89 354.45L505.56 351.11L505.15 352.35L502.26 346.99L507.62 349.87L506.38 350.29L509.72 353.62L508.89 354.45Z"/><path d="M524.57 354.45L521.24 351.11L520.82 352.35L517.94 346.99L523.30 349.87L522.06 350.29L525.40 353.62L524.57 354.45Z"/><path d="M541.24 354.03L540.95 353.53L540.37 353.53L540.08 354.03L540.37 354.54L540.95 354.54L541.24 354.03L540.95 353.53Z"/><path d="M70.92 338.38L70.63 337.87L70.05 337.87L69.76 338.38L70.05 338.88L70.63 338.88L70.92 338.38L70.63 337.87Z"/><path d="M85.60 337.97L88.94 334.63L87.70 334.22L93.06 331.33L90.18 336.69L89.76 335.46L86.43 338.79L85.60 337.97Z"/><path d="M101.28 337.97L104.62 334.63L103.38 334.22L108.74 331.33L105.85 336.69L105.44 335.46L102.11 338.79L101.28 337.97Z"/><path d="M116.96 337.97L120.29 334.63L119.06 334.22L124.42 331.33L121.53 336.69L121.12 335.46L117.78 338.79L116.96 337.97Z"/><path d="M132.64 337.97L135.97 334.63L134.73 334.22L140.09 331.33L137.21 336.69L136.80 335.46L133.46 338.79L132.64 337.97Z"/><path d="M148.31 337.97L151.65 334.63L150.41 334.22L155.77 331.33L152.88 336.69L152.47 335.46L149.14 338.79L148.31 337.97Z"/><path d="M163.99 337.97L167.33 334.63L166.09 334.22L171.45 331.33L168.56 336.69L168.15 335.46L164.82 338.79L163.99 337.97Z"/><path d="M179.67 337.97L183.00 334.63L181.77 334.22L187.13 331.33L184.24 336.69L183.83 335.46L180.49 338.79L179.67 337.97Z"/><path d="M195.35 337.97L198.68 334.63L197.44 334.22L202.80 331.33L199.92 336.69L199.50 335.46L196.17 338.79L195.35 337.97Z"/><path d="M211.02 337.97L214.36 334.63L213.12 334.22L218.48 331.33L215.59 336.69L215.18 335.46L211.85 338.79L211.02 337.97Z"/><path d="M226.70 337.97L230.03 334.63L228.80 334.22L234.16 331.33L231.27 336.69L230.86 335.46L227.53 338.79L226.70 337.97Z"/><path d="M242.38 337.97L245.71 334.63L244.48 334.22L249.84 331.33L246.95 336.69L246.54 335.46L243.20 338.79L242.38 337.97Z"/><path d="M258.06 337.97L261.39 334.63L260.15 334.22L265.51 331.33L262.63 336.69L262.21 335.46L258.88 338.79L258.06 337.97Z"/><path d="M273.73 337.97L277.07 334.63L275.83 334.22L281.19 331.33L278.30 336.69L277.89 335.46L274.56 338.79L273.73 337.97Z"/><path d="M289.41 337.97L292.74 334.63L291.51 334.22L296.87 331.33L293.98 336.69L293.57 335.46L290.23 338.79L289.41 337.97Z"/><path d="M304.92 338.38L304.92 333.66L303.75 334.25L305.50 328.41L307.25 334.25L306.08 333.66L306.08 338.38L304.92 338.38Z"/><path d="M320.77 338.79L317.43 335.46L317.02 336.69L314.13 331.33L319.49 334.22L318.26 334.63L321.59 337.97L320.77 338.79Z"/><path d="M336.44 338.79L333.11 335.46L332.70 336.69L329.81 331.33L335.17 334.22L333.93 334.63L337.27 337.97L336.44 338.79Z"/><path d="M352.12 338.79L348.79 335.46L348.37 336.69L345.49 331.33L350.85 334.22L349.61 334.63L352.94 337.97L352.12 338.79Z"/><path d="M367.80 338.79L364.46 335.46L364.05 336.69L361.16 331.33L366.52 334.22L365.29 334.63L368.62 337.97L367.80 338.79Z"/><path d="M383.47 338.79L380.14 335.46L379.73 336.69L376.84 331.33L382.20 334.22L380.97 334.63L384.30 337.97L383.47 338.79Z"/><path d="M399.15 338.79L395.82 335.46L395.41 336.69L392.52 331.33L397.88 334.22L396.64 334.63L399.98 337.97L399.15 338.79Z"/><path d="M414.83 338.79L411.50 335.46L411.08 336.69L408.20 331.33L413.56 334.22L412.32 334.63L415.65 337.97L414.83 338.79Z"/><path d="M430.51 338.79L427.17 335.46L426.76 336.69L423.87 331.33L429.23 334.22L428.00 334.63L431.33 337.97L430.51 338.79Z"/><path d="M446.18 338.79L442.85 335.46L442.44 336.69L439.55 331.33L444.91 334.22L443.67 334.63L447.01 337.97L446.18 338.79Z"/><path d="M461.86 338.79L458.53 335.46L458.12 336.69L455.23 331.33L460.59 334.22L459.35 334.63L462.69 337.97L461.86 338.79Z"/><path d="M477.54 338.79L474.20 335.46L473.79 336.69L470.91 331.33L476.27 334.22L475.03 334.63L478.36 337.97L477.54 338.79Z"/><path d="M493.22 338.79L489.88 335.46L489.47 336.69L486.58 331.33L491.94 334.22L490.71 334.63L494.04 337.97L493.22 338.79Z"/><path d="M508.89 338.79L505.56 335.46L505.15 336.69L502.26 331.33L507.62 334.22L506.38 334.63L509.72 337.97L508.89 338.79Z"/><path d="M524.57 338.79L521.24 335.46L520.82 336.69L517.94 331.33L523.30 334.22L522.06 334.63L525.40 337.97L524.57 338.79Z"/><path d="M541.24 338.38L540.95 337.87L540.37 337.87L540.08 338.38L540.37 338.88L540.95 338.88L541.24 338.38L540.95 337.87Z"/><path d="M70.92 322.72L70.63 322.22L70.05 322.22L69.76 322.72L70.05 323.23L70.63 323.23L70.92 322.72L70.63 322.22Z"/><path d="M85.60 322.31L88.94 318.98L87.70 318.57L93.06 315.68L90.18 321.04L89.76 319.80L86.43 323.14L85.60 322.31Z"/><path d="M101.28 322.31L104.62 318.98L103.38 318.57L108.74 315.68L105.85 321.04L105.44 319.80L102.11 323.14L101.28 322.31Z"/><path d="M116.96 322.31L120.29 318.98L119.06 318.57L124.42 315.68L121.53 321.04L121.12 319.80L117.78 323.14L116.96 322.31Z"/><path d="M132.64 322.31L135.97 318.98L134.73 318.57L140.09 315.68L137.21 321.04L136.80 319.80L133.46 323.14L132.64 322.31Z"/><path d="M148.31 322.31L151.65 318.98L150.41 318.57L155.77 315.68L152.88 321.04L152.47 319.80L149.14 323.14L148.31 322.31Z"/><path d="M163.99 322.31L167.33 318.98L166.09 318.57L171.45 315.68L168.56 321.04L168.15 319.80L164.82 323.14L163.99 322.31Z"/><path d="M179.67 322.31L183.00 318.98L181.77 318.57L187.13 315.68L184.24 321.04L183.83 319.80L180.49 323.14L179.67 322.31Z"/><path d="M195.35 322.31L198.68 318.98L197.44 318.57L202.80 315.68L199.92 321.04L199.50 319.80L196.17 323.14L195.35 322.31Z"/><path d="M211.02 322.31L214.36 318.98L213.12 318.57L218.48 315.68L215.59 321.04L215.18 319.80L211.85 323.14L211.02 322.31Z"/><path d="M226.70 322.31L230.03 318.98L228.80 318.57L234.16 315.68L231.27 321.04L230.86 319.80L227.53 323.14L226.70 322.31Z"/><path d="M242.38 322.31L245.71 318.98L244.48 318.57L249.84 315.68L246.95 321.04L246.54 319.80L243.20 323.14L242.38 322.31Z"/><path d="M258.06 322.31L261.39 318.98L260.15 318.57L265.51 315.68L262.63 321.04L262.21 319.80L258.88 323.14L258.06 322.31Z"/><path d="M273.73 322.31L277.07 318.98L275.83 318.57L281.19 315.68L278.30 321.04L277.89 319.80L274.56 323.14L273.73 322.31Z"/><path d="M289.41 322.31L292.74 318.98L291.51 318.57L296.87 315.68L293.98 321.04L293.57 319.80L290.23 323.14L289.41 322.31Z"/><path d="M304.92 322.72L304.92 318.01L303.75 318.59L305.50 312.76L307.25 318.59L306.08 318.01L306.08 322.72L304.92 322.72Z"/><path d="M320.77 323.14L317.43 319.80L317.02 321.04L314.13 315.68L319.49 318.57L318.26 318.98L321.59 322.31L320.77 323.14Z"/><path d="M336.44 323.14L333.11 319.80L332.70 321.04L329.81 315.68L335.17 318.57L333.93 318.98L337.27 322.31L336.44 323.14Z"/><path d="M352.12 323.14L348.79 319.80L348.37 321.04L345.49 315.68L350.85 318.57L349.61 318.98L352.94 322.31L352.12 323.14Z"/><path d="M367.80 323.14L364.46 319.80L364.05 321.04L361.16 315.68L366.52 318.57L365.29 318.98L368.62 322.31L367.80 323.14Z"/><path d="M383.47 323.14L380.14 319.80L379.73 321.04L376.84 315.68L382.20 318.57L380.97 318.98L384.30 322.31L383.47 323.14Z"/><path d="M399.15 323.14L395.82 319.80L395.41 321.04L392.52 315.68L397.88 318.57L396.64 318.98L399.98 322.31L399.15 323.14Z"/><path d="M414.83 323.14L411.50 319.80L411.08 321.04L408.20 315.68L413.56 318.57L412.32 318.98L415.65 322.31L414.83 323.14Z"/><path d="M430.51 323.14L427.17 319.80L426.76 321.04L423.87 315.68L429.23 318.57L428.00 318.98L431.33 322.31L430.51 323.14Z"/><path d="M446.18 323.14L442.85 319.80L442.44 321.04L439.55 315.68L444.91 318.57L443.67 318.98L447.01 322.31L446.18 323.14Z"/><path d="M461.86 323.14L458.53 319.80L458.12 321.04L455.23 315.68L460.59 318.57L459.35 318.98L462.69 322.31L461.86 323.14Z"/><path d="M477.54 323.14L474.20 319.80L473.79 321.04L470.91 315.68L476.27 318.57L475.03 318.98L478.36 322.31L477.54 323.14Z"/><path d="M493.22 323.14L489.88 319.80L489.47 321.04L486.58 315.68L491.94 318.57L490.71 318.98L494.04 322.31L493.22 323.14Z"/><path d="M508.89 323.14L505.56 319.80L505.15 321.04L502.26 315.68L507.62 318.57L506.38 318.98L509.72 322.31L508.89 323.14Z"/><path d="M524.57 323.14L521.24 319.80L520.82 321.04L517.94 315.68L523.30 318.57L522.06 318.98L525.40 322.31L524.57 323.14Z"/><path d="M541.24 322.72L540.95 322.22L540.37 322.22L540.08 322.72L540.37 323.23L540.95 323.23L541.24 322.72L540.95 322.22Z"/><path d="M70.92 307.07L70.63 306.56L70.05 306.56L69.76 307.07L70.05 307.57L70.63 307.57L70.92 307.07L70.63 306.56Z"/><path d="M85.60 306.66L88.94 303.32L87.70 302.91L93.06 300.02L90.18 305.38L89.76 304.15L86.43 307.48L85.60 306.66Z"/><path d="M101.28 306.66L104.62 303.32L103.38 302.91L108.74 300.02L105.85 305.38L105.44 304.15L102.11 307.48L101.28 306.66Z"/><path d="M116.96 306.66L120.29 303.32L119.06 302.91L124.42 300.02L121.53 305.38L121.12 304.15L117.78 307.48L116.96 306.66Z"/><path d="M132.64 306.66L135.97 303.32L134.73 302.91L140.09 300.02L137.21 305.38L136.80 304.15L133.46 307.48L132.64 306.66Z"/><path d="M148.31 306.66L151.65 303.32L150.41 302.91L155.77 300.02L152.88 305.38L152.47 304.15L149.14 307.48L148.31 306.66Z"/><path d="M163.99 306.66L167.33 303.32L166.09 302.91L171.45 300.02L168.56 305.38L168.15 304.15L164.82 307.48L163.99 306.66Z"/><path d="M179.67 306.66L183.00 303.32L181.77 302.91L187.13 300.02L184.24 305.38L183.83 304.15L180.49 307.48L179.67 306.66Z"/><path d="M195.35 306.66L198.68 303.32L197.44 302.91L202.80 300.02L199.92 305.38L199.50 304.15L196.17 307.48L195.35 306.66Z"/><path d="M211.02 306.66L214.36 303.32L213.12 302.91L218.48 300.02L215.59 305.38L215.18 304.15L211.85 307.48L211.02 306.66Z"/><path d="M226.70 306.66L230.03 303.32L228.80 302.91L234.16 300.02L231.27 305.38L230.86 304.15L227.53 307.48L226.70 306.66Z"/><path d="M242.38 306.66L245.71 303.32L244.48 302.91L249.84 300.02L246.95 305.38L246.54 304.15L243.20 307.48L242.38 306.66Z"/><path d="M258.06 306.66L261.39 303.32L260.15 302.91L265.51 300.02L262.63 305.38L262.21 304.15L258.88 307.48L258.06 306.66Z"/><path d="M273.73 306.66L277.07 303.32L275.83 302.91L281.19 300.02L278.30 305.38L277.89 304.15L274.56 307.48L273.73 306.66Z"/><path d="M289.41 306.66L292.74 303.32L291.51 302.91L296.87 300.02L293.98 305.38L293.57 304.15L290.23 307.48L289.41 306.66Z"/><path d="M304.92 307.07L304.92 302.35L303.75 302.94L305.50 297.10L307.25 302.94L306.08 302.35L306.08 307.07L304.92 307.07Z"/><path d="M320.77 307.48L317.43 304.15L317.02 305.38L314.13 300.02L319.49 302.91L318.26 303.32L321.59 306.66L320.77 307.48Z"/><path d="M336.44 307.48L333.11 304.15L332.70 305.38L329.81 300.02L335.17 302.91L333.93 303.32L337.27 306.66L336.44 307.48Z"/><path d="M352.12 307.48L348.79 304.15L348.37 305.38L345.49 300.02L350.85 302.91L349.61 303.32L352.94 306.66L352.12 307.48Z"/><path d="M367.80 307.48L364.46 304.15L364.05 305.38L361.16 300.02L366.52 302.91L365.29 303.32L368.62 306.66L367.80 307.48Z"/><path d="M383.47 307.48L380.14 304.15L379.73 305.38L376.84 300.02L382.20 302.91L380.97 303.32L384.30 306.66L383.47 307.48Z"/><path d="M399.15 307.48L395.82 304.15L395.41 305.38L392.52 300.02L397.88 302.91L396.64 303.32L399.98 306.66L399.15 307.48Z"/><path d="M414.83 307.48L411.50 304.15L411.08 305.38L408.20 300.02L413.56 302.91L412.32 303.32L415.65 306.66L414.83 307.48Z"/><path d="M430.51 307.48L427.17 304.15L426.76 305.38L423.87 300.02L429.23 302.91L428.00 303.32L431.33 306.66L430.51 307.48Z"/><path d="M446.18 307.48L442.85 304.15L442.44 305.38L439.55 300.02L444.91 302.91L443.67 303.32L447.01 306.66L446.18 307.48Z"/><path d="M461.86 307.48L458.53 304.15L458.12 305.38L455.23 300.02L460.59 302.91L459.35 303.32L462.69 306.66L461.86 307.48Z"/><path d="M477.54 307.48L474.20 304.15L473.79 305.38L470.91 300.02L476.27 302.91L475.03 303.32L478.36 306.66L477.54 307.48Z"/><path d="M493.22 307.48L489.88 304.15L489.47 305.38L486.58 300.02L491.94 302.91L490.71 303.32L494.04 306.66L493.22 307.48Z"/><path d="M508.89 307.48L505.56 304.15L505.15 305.38L502.26 300.02L507.62 302.91L506.38 303.32L509.72 306.66L508.89 307.48Z"/><path d="M524.57 307.48L521.24 304.15L520.82 305.38L517.94 300.02L523.30 302.91L522.06 303.32L525.40 306.66L524.57 307.48Z"/><path d="M541.24 307.07L540.95 306.56L540.37 306.56L540.08 307.07L540.37 307.57L540.95 307.57L541.24 307.07L540.95 306.56Z"/><path d="M70.92 291.41L70.63 290.91L70.05 290.91L69.76 291.41L70.05 291.92L70.63 291.92L70.92 291.41L70.63 290.91Z"/><path d="M85.60 291.00L88.94 287.67L87.70 287.26L93.06 284.37L90.18 289.73L89.76 288.49L86.43 291.83L85.60 291.00Z"/><path d="M101.28 291.00L104.62 287.67L103.38 287.26L108.74 284.37L105.85 289.73L105.44 288.49L102.11 291.83L101.28 291.00Z"/><path d="M116.96 291.00L120.29 287.67L119.06 287.26L124.42 284.37L121.53 289.73L121.12 288.49L117.78 291.83L116.96 291.00Z"/><path d="M132.64 291.00L135.97 287.67L134.73 287.26L140.09 284.37L137.21 289.73L136.80 288.49L133.46 291.83L132.64 291.00Z"/><path d="M148.31 291.00L151.65 287.67L150.41 287.26L155.77 284.37L152.88 289.73L152.47 288.49L149.14 291.83L148.31 291.00Z"/><path d="M163.99 291.00L167.33 287.67L166.09 287.26L171.45 284.37L168.56 289.73L168.15 288.49L164.82 291.83L163.99 291.00Z"/><path d="M179.67 291.00L183.00 287.67L181.77 287.26L187.13 284.37L184.24 289.73L183.83 288.49L180.49 291.83L179.67 291.00Z"/><path d="M195.35 291.00L198.68 287.67L197.44 287.26L202.80 284.37L199.92 289.73L199.50 288.49L196.17 291.83L195.35 291.00Z"/><path d="M211.02 291.00L214.36 287.67L213.12 287.26L218.48 284.37L215.59 289.73L215.18 288.49L211.85 291.83L211.02 291.00Z"/><path d="M226.70 291.00L230.03 287.67L228.80 287.26L234.16 284.37L231.27 289.73L230.86 288.49L227.53 291.83L226.70 291.00Z"/><path d="M242.38 291.00L245.71 287.67L244.48 287.26L249.84 284.37L246.95 289.73L246.54 288.49L243.20 291.83L242.38 291.00Z"/><path d="M258.06 291.00L261.39 287.67L260.15 287.26L265.51 284.37L262.63 289.73L262.21 288.49L258.88 291.83L258.06 291.00Z"/><path d="M273.73 291.00L277.07 287.67L275.83 287.26L281.19 284.37L278.30 289.73L277.89 288.49L274.56 291.83L273.73 291.00Z"/><path d="M289.41 291.00L292.74 287.67L291.51 287.26L296.87 284.37L293.98 289.73L293.57 288.49L290.23 291.83L289.41 291.00Z"/><path d="M304.92 291.41L304.92 286.70L303.75 287.28L305.50 281.45L307.25 287.28L306.08 286.70L306.08 291.41L304.92 291.41Z"/><path d="M320.77 291.83L317.43 288.49L317.02 289.73L314.13 284.37L319.49 287.26L318.26 287.67L321.59 291.00L320.77 291.83Z"/><path d="M336.44 291.83L333.11 288.49L332.70 289.73L329.81 284.37L335.17 287.26L333.93 287.67L337.27 291.00L336.44 291.83Z"/><path d="M352.12 291.83L348.79 288.49L348.37 289.73L345.49 284.37L350.85 287.26L349.61 287.67L352.94 291.00L352.12 291.83Z"/><path d="M367.80 291.83L364.46 288.49L364.05 289.73L361.16 284.37L366.52 287.26L365.29 287.67L368.62 291.00L367.80 291.83Z"/><path d="M383.47 291.83L380.14 288.49L379.73 289.73L376.84 284.37L382.20 287.26L380.97 287.67L384.30 291.00L383.47 291.83Z"/><path d="M399.15 291.83L395.82 288.49L395.41 289.73L392.52 284.37L397.88 287.26L396.64 287.67L399.98 291.00L399.15 291.83Z"/><path d="M414.83 291.83L411.50 288.49L411.08 289.73L408.20 284.37L413.56 287.26L412.32 287.67L415.65 291.00L414.83 291.83Z"/><path d="M430.51 291.83L427.17 288.49L426.76 289.73L423.87 284.37L429.23 287.26L428.00 287.67L431.33 291.00L430.51 291.83Z"/><path d="M446.18 291.83L442.85 288.49L442.44 289.73L439.55 284.37L444.91 287.26L443.67 287.67L447.01 291.00L446.18 291.83Z"/><path d="M461.86 291.83L458.53 288.49L458.12 289.73L455.23 284.37L460.59 287.26L459.35 287.67L462.69 291.00L461.86 291.83Z"/><path d="M477.54 291.83L474.20 288.49L473.79 289.73L470.91 284.37L476.27 287.26L475.03 287.67L478.36 291.00L477.54 291.83Z"/><path d="M493.22 291.83L489.88 288.49L489.47 289.73L486.58 284.37L491.94 287.26L490.71 287.67L494.04 291.00L493.22 291.83Z"/><path d="M508.89 291.83L505.56 288.49L505.15 289.73L502.26 284.37L507.62 287.26L506.38 287.67L509.72 291.00L508.89 291.83Z"/><path d="M524.57 291.83L521.24 288.49L520.82 289.73L517.94 284.37L523.30 287.26L522.06 287.67L525.40 291.00L524.57 291.83Z"/><path d="M541.24 291.41L540.95 290.91L540.37 290.91L540.08 291.41L540.37 291.92L540.95 291.92L541.24 291.41L540.95 290.91Z"/><path d="M70.92 275.76L70.63 275.25L70.05 275.25L69.76 275.76L70.05 276.26L70.63 276.26L70.92 275.76L70.63 275.25Z"/><path d="M85.60 275.35L88.94 272.01L87.70 271.60L93.06 268.71L90.18 274.07L89.76 272.84L86.43 276.17L85.60 275.35Z"/><path d="M101.28 275.35L104.62 272.01L103.38 271.60L108.74 268.71L105.85 274.07L105.44 272.84L102.11 276.17L101.28 275.35Z"/><path d="M116.96 275.35L120.29 272.01L119.06 271.60L124.42 268.71L121.53 274.07L121.12 272.84L117.78 276.17L116.96 275.35Z"/><path d="M132.64 275.35L135.97 272.01L134.73 271.60L140.09 268.71L137.21 274.07L136.80 272.84L133.46 276.17L132.64 275.35Z"/><path d="M148.31 275.35L151.65 272.01L150.41 271.60L155.77 268.71L152.88 274.07L152.47 272.84L149.14 276.17L148.31 275.35Z"/><path d="M163.99 275.35L167.33 272.01L166.09 271.60L171.45 268.71L168.56 274.07L168.15 272.84L164.82 276.17L163.99 275.35Z"/><path d="M179.67 275.35L183.00 272.01L181.77 271.60L187.13 268.71L184.24 274.07L183.83 272.84L180.49 276.17L179.67 275.35Z"/><path d="M195.35 275.35L198.68 272.01L197.44 271.60L202.80 268.71L199.92 274.07L199.50 272.84L196.17 276.17L195.35 275.35Z"/><path d="M211.02 275.35L214.36 272.01L213.12 271.60L218.48 268.71L215.59 274.07L215.18 272.84L211.85 276.17L211.02 275.35Z"/><path d="M226.70 275.35L230.03 272.01L228.80 271.60L234.16 268.71L231.27 274.07L230.86 272.84L227.53 276.17L226.70 275.35Z"/><path d="M242.38 275.35L245.71 272.01L244.48 271.60L249.84 268.71L246.95 274.07L246.54 272.84L243.20 276.17L242.38 275.35Z"/><path d="M258.06 275.35L261.39 272.01L260.15 271.60L265.51 268.71L262.63 274.07L262.21 272.84L258.88 276.17L258.06 275.35Z"/><path d="M273.73 275.35L277.07 272.01L275.83 271.60L281.19 268.71L278.30 274.07L277.89 272.84L274.56 276.17L273.73 275.35Z"/><path d="M289.41 275.35L292.74 272.01L291.51 271.60L296.87 268.71L293.98 274.07L293.57 272.84L290.23 276.17L289.41 275.35Z"/><path d="M304.92 275.76L304.92 271.04L303.75 271.63L305.50 265.80L307.25 271.63L306.08 271.04L306.08 275.76L304.92 275.76Z"/><path d="M320.77 276.17L317.43 272.84L317.02 274.07L314.13 268.71L319.49 271.60L318.26 272.01L321.59 275.35L320.77 276.17Z"/><path d="M336.44 276.17L333.11 272.84L332.70 274.07L329.81 268.71L335.17 271.60L333.93 272.01L337.27 275.35L336.44 276.17Z"/><path d="M352.12 276.17L348.79 272.84L348.37 274.07L345.49 268.71L350.85 271.60L349.61 272.01L352.94 275.35L352.12 276.17Z"/><path d="M367.80 276.17L364.46 272.84L364.05 274.07L361.16 268.71L366.52 271.60L365.29 272.01L368.62 275.35L367.80 276.17Z"/><path d="M383.47 276.17L380.14 272.84L379.73 274.07L376.84 268.71L382.20 271.60L380.97 272.01L384.30 275.35L383.47 276.17Z"/><path d="M399.15 276.17L395.82 272.84L395.41 274.07L392.52 268.71L397.88 271.60L396.64 272.01L399.98 275.35L399.15 276.17Z"/><path d="M414.83 276.17L411.50 272.84L411.08 274.07L408.20 268.71L413.56 271.60L412.32 272.01L415.65 275.35L414.83 276.17Z"/><path d="M430.51 276.17L427.17 272.84L426.76 274.07L423.87 268.71L429.23 271.60L428.00 272.01L431.33 275.35L430.51 276.17Z"/><path d="M446.18 276.17L442.85 272.84L442.44 274.07L439.55 268.71L444.91 271.60L443.67 272.01L447.01 275.35L446.18 276.17Z"/><path d="M461.86 276.17L458.53 272.84L458.12 274.07L455.23 268.71L460.59 271.60L459.35 272.01L462.69 275.35L461.86 276.17Z"/><path d="M477.54 276.17L474.20 272.84L473.79 274.07L470.91 268.71L476.27 271.60L475.03 272.01L478.36 275.35L477.54 276.17Z"/><path d="M493.22 276.17L489.88 272.84L489.47 274.07L486.58 268.71L491.94 271.60L490.71 272.01L494.04 275.35L493.22 276.17Z"/><path d="M508.89 276.17L505.56 272.84L505.15 274.07L502.26 268.71L507.62 271.60L506.38 272.01L509.72 275.35L508.89 276.17Z"/><path d="M524.57 276.17L521.24 272.84L520.82 274.07L517.94 268.71L523.30 271.60L522.06 272.01L525.40 275.35L524.57 276.17Z"/><path d="M541.24 275.76L540.95 275.25L540.37 275.25L540.08 275.76L540.37 276.26L540.95 276.26L541.24 275.76L540.95 275.25Z"/><path d="M70.92 260.10L70.63 259.60L70.05 259.60L69.76 260.10L70.05 260.61L70.63 260.61L70.92 260.10L70.63 259.60Z"/><path d="M85.60 259.69L88.94 256.36L87.70 255.95L93.06 253.06L90.18 258.42L89.76 257.18L86.43 260.52L85.60 259.69Z"/><path d="M101.28 259.69L104.62 256.36L103.38 255.95L108.74 253.06L105.85 258.42L105.44 257.18L102.11 260.52L101.28 259.69Z"/><path d="M116.96 259.69L120.29 256.36L119.06 255.95L124.42 253.06L121.53 258.42L121.12 257.18L117.78 260.52L116.96 259.69Z"/><path d="M132.64 259.69L135.97 256.36L134.73 255.95L140.09 253.06L137.21 258.42L136.80 257.18L133.46 260.52L132.64 259.69Z"/><path d="M148.31 259.69L151.65 256.36L150.41 255.95L155.77 253.06L152.88 258.42L152.47 257.18L149.14 260.52L148.31 259.69Z"/><path d="M163.99 259.69L167.33 256.36L166.09 255.95L171.45 253.06L168.56 258.42L168.15 257.18L164.82 260.52L163.99 259.69Z"/><path d="M179.67 259.69L183.00 256.36L181.77 255.95L187.13 253.06L184.24 258.42L183.83 257.18L180.49 260.52L179.67 259.69Z"/><path d="M195.35 259.69L198.68 256.36L197.44 255.95L202.80 253.06L199.92 258.42L199.50 257.18L196.17 260.52L195.35 259.69Z"/><path d="M211.02 259.69L214.36 256.36L213.12 255.95L218.48 253.06L215.59 258.42L215.18 257.18L211.85 260.52L211.02 259.69Z"/><path d="M226.70 259.69L230.03 256.36L228.80 255.95L234.16 253.06L231.27 258.42L230.86 257.18L227.53 260.52L226.70 259.69Z"/><path d="M242.38 259.69L245.71 256.36L244.48 255.95L249.84 253.06L246.95 258.42L246.54 257.18L243.20 260.52L242.38 259.69Z"/><path d="M258.06 259.69L261.39 256.36L260.15 255.95L265.51 253.06L262.63 258.42L262.21 257.18L258.88 260.52L258.06 259.69Z"/><path d="M273.73 259.69L277.07 256.36L275.83 255.95L281.19 253.06L278.30 258.42L277.89 257.18L274.56 260.52L273.73 259.69Z"/><path d="M289.41 259.69L292.74 256.36L291.51 255.95L296.87 253.06L293.98 258.42L293.57 257.18L290.23 260.52L289.41 259.69Z"/><path d="M304.92 260.10L304.92 255.39L303.75 255.97L305.50 250.14L307.25 255.97L306.08 255.39L306.08 260.10L304.92 260.10Z"/><path d="M320.77 260.52L317.43 257.18L317.02 258.42L314.13 253.06L319.49 255.95L318.26 256.36L321.59 259.69L320.77 260.52Z"/><path d="M336.44 260.52L333.11 257.18L332.70 258.42L329.81 253.06L335.17 255.95L333.93 256.36L337.27 259.69L336.44 260.52Z"/><path d="M352.12 260.52L348.79 257.18L348.37 258.42L345.49 253.06L350.85 255.95L349.61 256.36L352.94 259.69L352.12 260.52Z"/><path d="M367.80 260.52L364.46 257.18L364.05 258.42L361.16 253.06L366.52 255.95L365.29 256.36L368.62 259.69L367.80 260.52Z"/><path d="M383.47 260.52L380.14 257.18L379.73 258.42L376.84 253.06L382.20 255.95L380.97 256.36L384.30 259.69L383.47 260.52Z"/><path d="M399.15 260.52L395.82 257.18L395.41 258.42L392.52 253.06L397.88 255.95L396.64 256.36L399.98 259.69L399.15 260.52Z"/><path d="M414.83 260.52L411.50 257.18L411.08 258.42L408.20 253.06L413.56 255.95L412.32 256.36L415.65 259.69L414.83 260.52Z"/><path d="M430.51 260.52L427.17 257.18L426.76 258.42L423.87 253.06L429.23 255.95L428.00 256.36L431.33 259.69L430.51 260.52Z"/><path d="M446.18 260.52L442.85 257.18L442.44 258.42L439.55 253.06L444.91 255.95L443.67 256.36L447.01 259.69L446.18 260.52Z"/><path d="M461.86 260.52L458.53 257.18L458.12 258.42L455.23 253.06L460.59 255.95L459.35 256.36L462.69 259.69L461.86 260.52Z"/><path d="M477.54 260.52L474.20 257.18L473.79 258.42L470.91 253.06L476.27 255.95L475.03 256.36L478.36 259.69L477.54 260.52Z"/><path d="M493.22 260.52L489.88 257.18L489.47 258.42L486.58 253.06L491.94 255.95L490.71 256.36L494.04 259.69L493.22 260.52Z"/><path d="M508.89 260.52L505.56 257.18L505.15 258.42L502.26 253.06L507.62 255.95L506.38 256.36L509.72 259.69L508.89 260.52Z"/><path d="M524.57 260.52L521.24 257.18L520.82 258.42L517.94 253.06L523.30 255.95L522.06 256.36L525.40 259.69L524.57 260.52Z"/><path d="M541.24 260.10L540.95 259.60L540.37 259.60L540.08 260.10L540.37 260.61L540.95 260.61L541.24 260.10L540.95 259.60Z"/><path d="M70.92 244.45L70.63 243.94L70.05 243.94L69.76 244.45L70.05 244.96L70.63 244.96L70.92 244.45L70.63 243.94Z"/><path d="M86.02 243.87L90.73 243.87L90.15 242.70L95.98 244.45L90.15 246.20L90.73 245.03L86.02 245.03L86.02 243.87Z"/><path d="M101.69 243.87L106.41 243.87L105.83 242.70L111.66 244.45L105.83 246.20L106.41 245.03L101.69 245.03L101.69 243.87Z"/><path d="M117.37 243.87L122.09 243.87L121.50 242.70L127.34 244.45L121.50 246.20L122.09 245.03L117.37 245.03L117.37 243.87Z"/><path d="M133.05 243.87L137.76 243.87L137.18 242.70L143.01 244.45L137.18 246.20L137.76 245.03L133.05 245.03L133.05 243.87Z"/><path d="M148.73 243.87L153.44 243.87L152.86 242.70L158.69 244.45L152.86 246.20L153.44 245.03L148.73 245.03L148.73 243.87Z"/><path d="M164.40 243.87L169.12 243.87L168.54 242.70L174.37 244.45L168.54 246.20L169.12 245.03L164.40 245.03L164.40 243.87Z"/><path d="M180.08 243.87L184.80 243.87L184.21 242.70L190.05 244.45L184.21 246.20L184.80 245.03L180.08 245.03L180.08 243.87Z"/><path d="M195.76 243.87L200.47 243.87L199.89 242.70L205.72 244.45L199.89 246.20L200.47 245.03L195.76 245.03L195.76 243.87Z"/><path d="M211.44 243.87L216.15 243.87L215.57 242.70L221.40 244.45L215.57 246.20L216.15 245.03L211.44 245.03L211.44 243.87Z"/><path d="M227.11 243.87L231.83 243.87L231.25 242.70L237.08 244.45L231.25 246.20L231.83 245.03L227.11 245.03L227.11 243.87Z"/><path d="M242.79 243.87L247.51 243.87L246.92 242.70L252.75 244.45L246.92 246.20L247.51 245.03L242.79 245.03L242.79 243.87Z"/><path d="M258.47 243.87L263.18 243.87L262.60 242.70L268.43 244.45L262.60 246.20L263.18 245.03L258.47 245.03L258.47 243.87Z"/><path d="M274.15 243.87L278.86 243.87L278.28 242.70L284.11 244.45L278.28 246.20L278.86 245.03L274.15 245.03L274.15 243.87Z"/><path d="M289.82 243.87L294.54 243.87L293.95 242.70L299.79 244.45L293.95 246.20L294.54 245.03L289.82 245.03L289.82 243.87Z"/><path d="M306.08 244.45L305.79 243.94L305.21 243.94L304.92 244.45L305.21 244.96L305.79 244.96L306.08 244.45L305.79 243.94Z"/><path d="M321.18 245.03L316.46 245.03L317.05 246.20L311.21 244.45L317.05 242.70L316.46 243.87L321.18 243.87L321.18 245.03Z"/><path d="M336.85 245.03L332.14 245.03L332.72 246.20L326.89 244.45L332.72 242.70L332.14 243.87L336.85 243.87L336.85 245.03Z"/><path d="M352.53 245.03L347.82 245.03L348.40 246.20L342.57 244.45L348.40 242.70L347.82 243.87L352.53 243.87L352.53 245.03Z"/><path d="M368.21 245.03L363.49 245.03L364.08 246.20L358.25 244.45L364.08 242.70L363.49 243.87L368.21 243.87L368.21 245.03Z"/><path d="M383.89 245.03L379.17 245.03L379.75 246.20L373.92 244.45L379.75 242.70L379.17 243.87L383.89 243.87L383.89 245.03Z"/><path d="M399.56 245.03L394.85 245.03L395.43 246.20L389.60 244.45L395.43 242.70L394.85 243.87L399.56 243.87L399.56 245.03Z"/><path d="M415.24 245.03L410.53 245.03L411.11 246.20L405.28 244.45L411.11 242.70L410.53 243.87L415.24 243.87L415.24 245.03Z"/><path d="M430.92 245.03L426.20 245.03L426.79 246.20L420.95 244.45L426.79 242.70L426.20 243.87L430.92 243.87L430.92 245.03Z"/><path d="M446.60 245.03L441.88 245.03L442.46 246.20L436.63 244.45L442.46 242.70L441.88 243.87L446.60 243.87L446.60 245.03Z"/><path d="M462.27 245.03L457.56 245.03L458.14 246.20L452.31 244.45L458.14 242.70L457.56 243.87L462.27 243.87L462.27 245.03Z"/><path d="M477.95 245.03L473.24 245.03L473.82 246.20L467.99 244.45L473.82 242.70L473.24 243.87L477.95 243.87L477.95 245.03Z"/><path d="M493.63 245.03L488.91 245.03L489.50 246.20L483.66 244.45L489.50 242.70L488.91 243.87L493.63 243.87L493.63 245.03Z"/><path d="M509.31 245.03L504.59 245.03L505.17 246.20L499.34 244.45L505.17 242.70L504.59 243.87L509.31 243.87L509.31 245.03Z"/><path d="M524.98 245.03L520.27 245.03L520.85 246.20L515.02 244.45L520.85 242.70L520.27 243.87L524.98 243.87L524.98 245.03Z"/><path d="M541.24 244.45L540.95 243.94L540.37 243.94L540.08 244.45L540.37 244.96L540.95 244.96L541.24 244.45L540.95 243.94Z"/><path d="M70.92 228.80L70.63 228.29L70.05 228.29L69.76 228.80L70.05 229.30L70.63 229.30L70.92 228.80L70.63 228.29Z"/><path d="M86.43 228.38L89.76 231.72L90.18 230.48L93.06 235.84L87.70 232.95L88.94 232.54L85.60 229.21L86.43 228.38Z"/><path d="M102.11 228.38L105.44 231.72L105.85 230.48L108.74 235.84L103.38 232.95L104.62 232.54L101.28 229.21L102.11 228.38Z"/><path d="M117.78 228.38L121.12 231.72L121.53 230.48L124.42 235.84L119.06 232.95L120.29 232.54L116.96 229.21L117.78 228.38Z"/><path d="M133.46 228.38L136.80 231.72L137.21 230.48L140.09 235.84L134.73 232.95L135.97 232.54L132.64 229.21L133.46 228.38Z"/><path d="M149.14 228.38L152.47 231.72L152.88 230.48L155.77 235.84L150.41 232.95L151.65 232.54L148.31 229.21L149.14 228.38Z"/><path d="M164.82 228.38L168.15 231.72L168.56 230.48L171.45 235.84L166.09 232.95L167.33 232.54L163.99 229.21L164.82 228.38Z"/><path d="M180.49 228.38L183.83 231.72L184.24 230.48L187.13 235.84L181.77 232.95L183.00 232.54L179.67 229.21L180.49 228.38Z"/><path d="M196.17 228.38L199.50 231.72L199.92 230.48L202.80 235.84L197.44 232.95L198.68 232.54L195.35 229.21L196.17 228.38Z"/><path d="M211.85 228.38L215.18 231.72L215.59 230.48L218.48 235.84L213.12 232.95L214.36 232.54L211.02 229.21L211.85 228.38Z"/><path d="M227.53 228.38L230.86 231.72L231.27 230.48L234.16 235.84L228.80 232.95L230.03 232.54L226.70 229.21L227.53 228.38Z"/><path d="M243.20 228.38L246.54 231.72L246.95 230.48L249.84 235.84L244.48 232.95L245.71 232.54L242.38 229.21L243.20 228.38Z"/><path d="M258.88 228.38L262.21 231.72L262.63 230.48L265.51 235.84L260.15 232.95L261.39 232.54L258.06 229.21L258.88 228.38Z"/><path d="M274.56 228.38L277.89 231.72L278.30 230.48L281.19 235.84L275.83 232.95L277.07 232.54L273.73 229.21L274.56 228.38Z"/><path d="M290.23 228.38L293.57 231.72L293.98 230.48L296.87 235.84L291.51 232.95L292.74 232.54L289.41 229.21L290.23 228.38Z"/><path d="M306.08 228.80L306.08 233.51L307.25 232.93L305.50 238.76L303.75 232.93L304.92 233.51L304.92 228.80L306.08 228.80Z"/><path d="M321.59 229.21L318.26 232.54L319.49 232.95L314.13 235.84L317.02 230.48L317.43 231.72L320.77 228.38L321.59 229.21Z"/><path d="M337.27 229.21L333.93 232.54L335.17 232.95L329.81 235.84L332.70 230.48L333.11 231.72L336.44 228.38L337.27 229.21Z"/><path d="M352.94 229.21L349.61 232.54L350.85 232.95L345.49 235.84L348.37 230.48L348.79 231.72L352.12 228.38L352.94 229.21Z"/><path d="M368.62 229.21L365.29 232.54L366.52 232.95L361.16 235.84L364.05 230.48L364.46 231.72L367.80 228.38L368.62 229.21Z"/><path d="M384.30 229.21L380.97 232.54L382.20 232.95L376.84 235.84L379.73 230.48L380.14 231.72L383.47 228.38L384.30 229.21Z"/><path d="M399.98 229.21L396.64 232.54L397.88 232.95L392.52 235.84L395.41 230.48L395.82 231.72L399.15 228.38L399.98 229.21Z"/><path d="M415.65 229.21L412.32 232.54L413.56 232.95L408.20 235.84L411.08 230.48L411.50 231.72L414.83 228.38L415.65 229.21Z"/><path d="M431.33 229.21L428.00 232.54L429.23 232.95L423.87 235.84L426.76 230.48L427.17 231.72L430.51 228.38L431.33 229.21Z"/><path d="M447.01 229.21L443.67 232.54L444.91 232.95L439.55 235.84L442.44 230.48L442.85 231.72L446.18 228.38L447.01 229.21Z"/><path d="M462.69 229.21L459.35 232.54L460.59 232.95L455.23 235.84L458.12 230.48L458.53 231.72L461.86 228.38L462.69 229.21Z"/><path d="M478.36 229.21L475.03 232.54L476.27 232.95L470.91 235.84L473.79 230.48L474.20 231.72L477.54 228.38L478.36 229.21Z"/><path d="M494.04 229.21L490.71 232.54L491.94 232.95L486.58 235.84L489.47 230.48L489.88 231.72L493.22 228.38L494.04 229.21Z"/><path d="M509.72 229.21L506.38 232.54L507.62 232.95L502.26 235.84L505.15 230.48L505.56 231.72L508.89 228.38L509.72 229.21Z"/><path d="M525.40 229.21L522.06 232.54L523.30 232.95L517.94 235.84L520.82 230.48L521.24 231.72L524.57 228.38L525.40 229.21Z"/><path d="M541.24 228.80L540.95 228.29L540.37 228.29L540.08 228.80L540.37 229.30L540.95 229.30L541.24 228.80L540.95 228.29Z"/><path d="M70.92 213.14L70.63 212.64L70.05 212.64L69.76 213.14L70.05 213.65L70.63 213.65L70.92 213.14L70.63 212.64Z"/><path d="M86.43 212.73L89.76 216.06L90.18 214.83L93.06 220.19L87.70 217.30L88.94 216.89L85.60 213.55L86.43 212.73Z"/><path d="M102.11 212.73L105.44 216.06L105.85 214.83L108.74 220.19L103.38 217.30L104.62 216.89L101.28 213.55L102.11 212.73Z"/><path d="M117.78 212.73L121.12 216.06L121.53 214.83L124.42 220.19L119.06 217.30L120.29 216.89L116.96 213.55L117.78 212.73Z"/><path d="M133.46 212.73L136.80 216.06L137.21 214.83L140.09 220.19L134.73 217.30L135.97 216.89L132.64 213.55L133.46 212.73Z"/><path d="M149.14 212.73L152.47 216.06L152.88 214.83L155.77 220.19L150.41 217.30L151.65 216.89L148.31 213.55L149.14 212.73Z"/><path d="M164.82 212.73L168.15 216.06L168.56 214.83L171.45 220.19L166.09 217.30L167.33 216.89L163.99 213.55L164.82 212.73Z"/><path d="M180.49 212.73L183.83 216.06L184.24 214.83L187.13 220.19L181.77 217.30L183.00 216.89L179.67 213.55L180.49 212.73Z"/><path d="M196.17 212.73L199.50 216.06L199.92 214.83L202.80 220.19L197.44 217.30L198.68 216.89L195.35 213.55L196.17 212.73Z"/><path d="M211.85 212.73L215.18 216.06L215.59 214.83L218.48 220.19L213.12 217.30L214.36 216.89L211.02 213.55L211.85 212.73Z"/><path d="M227.53 212.73L230.86 216.06L231.27 214.83L234.16 220.19L228.80 217.30L230.03 216.89L226.70 213.55L227.53 212.73Z"/><path d="M243.20 212.73L246.54 216.06L246.95 214.83L249.84 220.19L244.48 217.30L245.71 216.89L242.38 213.55L243.20 212.73Z"/><path d="M258.88 212.73L262.21 216.06L262.63 214.83L265.51 220.19L260.15 217.30L261.39 216.89L258.06 213.55L258.88 212.73Z"/><path d="M274.56 212.73L277.89 216.06L278.30 214.83L281.19 220.19L275.83 217.30L277.07 216.89L273.73 213.55L274.56 212.73Z"/><path d="M290.23 212.73L293.57 216.06L293.98 214.83L296.87 220.19L291.51 217.30L292.74 216.89L289.41 213.55L290.23 212.73Z"/><path d="M306.08 213.14L306.08 217.86L307.25 217.27L305.50 223.10L303.75 217.27L304.92 217.86L304.92 213.14L306.08 213.14Z"/><path d="M321.59 213.55L318.26 216.89L319.49 217.30L314.13 220.19L317.02 214.83L317.43 216.06L320.77 212.73L321.59 213.55Z"/><path d="M337.27 213.55L333.93 216.89L335.17 217.30L329.81 220.19L332.70 214.83L333.11 216.06L336.44 212.73L337.27 213.55Z"/><path d="M352.94 213.55L349.61 216.89L350.85 217.30L345.49 220.19L348.37 214.83L348.79 216.06L352.12 212.73L352.94 213.55Z"/><path d="M368.62 213.55L365.29 216.89L366.52 217.30L361.16 220.19L364.05 214.83L364.46 216.06L367.80 212.73L368.62 213.55Z"/><path d="M384.30 213.55L380.97 216.89L382.20 217.30L376.84 220.19L379.73 214.83L380.14 216.06L383.47 212.73L384.30 213.55Z"/><path d="M399.98 213.55L396.64 216.89L397.88 217.30L392.52 220.19L395.41 214.83L395.82 216.06L399.15 212.73L399.98 213.55Z"/><path d="M415.65 213.55L412.32 216.89L413.56 217.30L408.20 220.19L411.08 214.83L411.50 216.06L414.83 212.73L415.65 213.55Z"/><path d="M431.33 213.55L428.00 216.89L429.23 217.30L423.87 220.19L426.76 214.83L427.17 216.06L430.51 212.73L431.33 213.55Z"/><path d="M447.01 213.55L443.67 216.89L444.91 217.30L439.55 220.19L442.44 214.83L442.85 216.06L446.18 212.73L447.01 213.55Z"/><path d="M462.69 213.55L459.35 216.89L460.59 217.30L455.23 220.19L458.12 214.83L458.53 216.06L461.86 212.73L462.69 213.55Z"/><path d="M478.36 213.55L475.03 216.89L476.27 217.30L470.91 220.19L473.79 214.83L474.20 216.06L477.54 212.73L478.36 213.55Z"/><path d="M494.04 213.55L490.71 216.89L491.94 217.30L486.58 220.19L489.47 214.83L489.88 216.06L493.22 212.73L494.04 213.55Z"/><path d="M509.72 213.55L506.38 216.89L507.62 217.30L502.26 220.19L505.15 214.83L505.56 216.06L508.89 212.73L509.72 213.55Z"/><path d="M525.40 213.55L522.06 216.89L523.30 217.30L517.94 220.19L520.82 214.83L521.24 216.06L524.57 212.73L525.40 213.55Z"/><path d="M541.24 213.14L540.95 212.64L540.37 212.64L540.08 213.14L540.37 213.65L540.95 213.65L541.24 213.14L540.95 212.64Z"/><path d="M70.92 197.49L70.63 196.98L70.05 196.98L69.76 197.49L70.05 197.99L70.63 197.99L70.92 197.49L70.63 196.98Z"/><path d="M86.43 197.07L89.76 200.41L90.18 199.17L93.06 204.53L87.70 201.64L88.94 201.23L85.60 197.90L86.43 197.07Z"/><path d="M102.11 197.07L105.44 200.41L105.85 199.17L108.74 204.53L103.38 201.64L104.62 201.23L101.28 197.90L102.11 197.07Z"/><path d="M117.78 197.07L121.12 200.41L121.53 199.17L124.42 204.53L119.06 201.64L120.29 201.23L116.96 197.90L117.78 197.07Z"/><path d="M133.46 197.07L136.80 200.41L137.21 199.17L140.09 204.53L134.73 201.64L135.97 201.23L132.64 197.90L133.46 197.07Z"/><path d="M149.14 197.07L152.47 200.41L152.88 199.17L155.77 204.53L150.41 201.64L151.65 201.23L148.31 197.90L149.14 197.07Z"/><path d="M164.82 197.07L168.15 200.41L168.56 199.17L171.45 204.53L166.09 201.64L167.33 201.23L163.99 197.90L164.82 197.07Z"/><path d="M180.49 197.07L183.83 200.41L184.24 199.17L187.13 204.53L181.77 201.64L183.00 201.23L179.67 197.90L180.49 197.07Z"/><path d="M196.17 197.07L199.50 200.41L199.92 199.17L202.80 204.53L197.44 201.64L198.68 201.23L195.35 197.90L196.17 197.07Z"/><path d="M211.85 197.07L215.18 200.41L215.59 199.17L218.48 204.53L213.12 201.64L214.36 201.23L211.02 197.90L211.85 197.07Z"/><path d="M227.53 197.07L230.86 200.41L231.27 199.17L234.16 204.53L228.80 201.64L230.03 201.23L226.70 197.90L227.53 197.07Z"/><path d="M243.20 197.07L246.54 200.41L246.95 199.17L249.84 204.53L244.48 201.64L245.71 201.23L242.38 197.90L243.20 197.07Z"/><path d="M258.88 197.07L262.21 200.41L262.63 199.17L265.51 204.53L260.15 201.64L261.39 201.23L258.06 197.90L258.88 197.07Z"/><path d="M274.56 197.07L277.89 200.41L278.30 199.17L281.19 204.53L275.83 201.64L277.07 201.23L273.73 197.90L274.56 197.07Z"/><path d="M290.23 197.07L293.57 200.41L293.98 199.17L296.87 204.53L291.51 201.64L292.74 201.23L289.41 197.90L290.23 197.07Z"/><path d="M306.08 197.49L306.08 202.20L307.25 201.62L305.50 207.45L303.75 201.62L304.92 202.20L304.92 197.49L306.08 197.49Z"/><path d="M321.59 197.90L318.26 201.23L319.49 201.64L314.13 204.53L317.02 199.17L317.43 200.41L320.77 197.07L321.59 197.90Z"/><path d="M337.27 197.90L333.93 201.23L335.17 201.64L329.81 204.53L332.70 199.17L333.11 200.41L336.44 197.07L337.27 197.90Z"/><path d="M352.94 197.90L349.61 201.23L350.85 201.64L345.49 204.53L348.37 199.17L348.79 200.41L352.12 197.07L352.94 197.90Z"/><path d="M368.62 197.90L365.29 201.23L366.52 201.64L361.16 204.53L364.05 199.17L364.46 200.41L367.80 197.07L368.62 197.90Z"/><path d="M384.30 197.90L380.97 201.23L382.20 201.64L376.84 204.53L379.73 199.17L380.14 200.41L383.47 197.07L384.30 197.90Z"/><path d="M399.98 197.90L396.64 201.23L397.88 201.64L392.52 204.53L395.41 199.17L395.82 200.41L399.15 197.07L399.98 197.90Z"/><path d="M415.65 197.90L412.32 201.23L413.56 201.64L408.20 204.53L411.08 199.17L411.50 200.41L414.83 197.07L415.65 197.90Z"/><path d="M431.33 197.90L428.00 201.23L429.23 201.64L423.87 204.53L426.76 199.17L427.17 200.41L430.51 197.07L431.33 197.90Z"/><path d="M447.01 197.90L443.67 201.23L444.91 201.64L439.55 204.53L442.44 199.17L442.85 200.41L446.18 197.07L447.01 197.90Z"/><path d="M462.69 197.90L459.35 201.23L460.59 201.64L455.23 204.53L458.12 199.17L458.53 200.41L461.86 197.07L462.69 197.90Z"/><path d="M478.36 197.90L475.03 201.23L476.27 201.64L470.91 204.53L473.79 199.17L474.20 200.41L477.54 197.07L478.36 197.90Z"/><path d="M494.04 197.90L490.71 201.23L491.94 201.64L486.58 204.53L489.47 199.17L489.88 200.41L493.22 197.07L494.04 197.90Z"/><path d="M509.72 197.90L506.38 201.23L507.62 201.64L502.26 204.53L505.15 199.17L505.56 200.41L508.89 197.07L509.72 197.90Z"/><path d="M525.40 197.90L522.06 201.23L523.30 201.64L517.94 204.53L520.82 199.17L521.24 200.41L524.57 197.07L525.40 197.90Z"/><path d="M541.24 197.49L540.95 196.98L540.37 196.98L540.08 197.49L540.37 197.99L540.95 197.99L541.24 197.49L540.95 196.98Z"/><path d="M70.92 181.83L70.63 181.33L70.05 181.33L69.76 181.83L70.05 182.34L70.63 182.34L70.92 181.83L70.63 181.33Z"/><path d="M86.43 181.42L89.76 184.75L90.18 183.52L93.06 188.88L87.70 185.99L88.94 185.58L85.60 182.24L86.43 181.42Z"/><path d="M102.11 181.42L105.44 184.75L105.85 183.52L108.74 188.88L103.38 185.99L104.62 185.58L101.28 182.24L102.11 181.42Z"/><path d="M117.78 181.42L121.12 184.75L121.53 183.52L124.42 188.88L119.06 185.99L120.29 185.58L116.96 182.24L117.78 181.42Z"/><path d="M133.46 181.42L136.80 184.75L137.21 183.52L140.09 188.88L134.73 185.99L135.97 185.58L132.64 182.24L133.46 181.42Z"/><path d="M149.14 181.42L152.47 184.75L152.88 183.52L155.77 188.88L150.41 185.99L151.65 185.58L148.31 182.24L149.14 181.42Z"/><path d="M164.82 181.42L168.15 184.75L168.56 183.52L171.45 188.88L166.09 185.99L167.33 185.58L163.99 182.24L164.82 181.42Z"/><path d="M180.49 181.42L183.83 184.75L184.24 183.52L187.13 188.88L181.77 185.99L183.00 185.58L179.67 182.24L180.49 181.42Z"/><path d="M196.17 181.42L199.50 184.75L199.92 183.52L202.80 188.88L197.44 185.99L198.68 185.58L195.35 182.24L196.17 181.42Z"/><path d="M211.85 181.42L215.18 184.75L215.59 183.52L218.48 188.88L213.12 185.99L214.36 185.58L211.02 182.24L211.85 181.42Z"/><path d="M227.53 181.42L230.86 184.75L231.27 183.52L234.16 188.88L228.80 185.99L230.03 185.58L226.70 182.24L227.53 181.42Z"/><path d="M243.20 181.42L246.54 184.75L246.95 183.52L249.84 188.88L244.48 185.99L245.71 185.58L242.38 182.24L243.20 181.42Z"/><path d="M258.88 181.42L262.21 184.75L262.63 183.52L265.51 188.88L260.15 185.99L261.39 185.58L258.06 182.24L258.88 181.42Z"/><path d="M274.56 181.42L277.89 184.75L278.30 183.52L281.19 188.88L275.83 185.99L277.07 185.58L273.73 182.24L274.56 181.42Z"/><path d="M290.23 181.42L293.57 184.75L293.98 183.52L296.87 188.88L291.51 185.99L292.74 185.58L289.41 182.24L290.23 181.42Z"/><path d="M306.08 181.83L306.08 186.55L307.25 185.96L305.50 191.80L303.75 185.96L304.92 186.55L304.92 181.83L306.08 181.83Z"/><path d="M321.59 182.24L318.26 185.58L319.49 185.99L314.13 188.88L317.02 183.52L317.43 184.75L320.77 181.42L321.59 182.24Z"/><path d="M337.27 182.24L333.93 185.58L335.17 185.99L329.81 188.88L332.70 183.52L333.11 184.75L336.44 181.42L337.27 182.24Z"/><path d="M352.94 182.24L349.61 185.58L350.85 185.99L345.49 188.88L348.37 183.52L348.79 184.75L352.12 181.42L352.94 182.24Z"/><path d="M368.62 182.24L365.29 185.58L366.52 185.99L361.16 188.88L364.05 183.52L364.46 184.75L367.80 181.42L368.62 182.24Z"/><path d="M384.30 182.24L380.97 185.58L382.20 185.99L376.84 188.88L379.73 183.52L380.14 184.75L383.47 181.42L384.30 182.24Z"/><path d="M399.98 182.24L396.64 185.58L397.88 185.99L392.52 188.88L395.41 183.52L395.82 184.75L399.15 181.42L399.98 182.24Z"/><path d="M415.65 182.24L412.32 185.58L413.56 185.99L408.20 188.88L411.08 183.52L411.50 184.75L414.83 181.42L415.65 182.24Z"/><path d="M431.33 182.24L428.00 185.58L429.23 185.99L423.87 188.88L426.76 183.52L427.17 184.75L430.51 181.42L431.33 182.24Z"/><path d="M447.01 182.24L443.67 185.58L444.91 185.99L439.55 188.88L442.44 183.52L442.85 184.75L446.18 181.42L447.01 182.24Z"/><path d="M462.69 182.24L459.35 185.58L460.59 185.99L455.23 188.88L458.12 183.52L458.53 184.75L461.86 181.42L462.69 182.24Z"/><path d="M478.36 182.24L475.03 185.58L476.27 185.99L470.91 188.88L473.79 183.52L474.20 184.75L477.54 181.42L478.36 182.24Z"/><path d="M494.04 182.24L490.71 185.58L491.94 185.99L486.58 188.88L489.47 183.52L489.88 184.75L493.22 181.42L494.04 182.24Z"/><path d="M509.72 182.24L506.38 185.58L507.62 185.99L502.26 188.88L505.15 183.52L505.56 184.75L508.89 181.42L509.72 182.24Z"/><path d="M525.40 182.24L522.06 185.58L523.30 185.99L517.94 188.88L520.82 183.52L521.24 184.75L524.57 181.42L525.40 182.24Z"/><path d="M541.24 181.83L540.95 181.33L540.37 181.33L540.08 181.83L540.37 182.34L540.95 182.34L541.24 181.83L540.95 181.33Z"/><path d="M70.92 166.18L70.63 165.67L70.05 165.67L69.76 166.18L70.05 166.68L70.63 166.68L70.92 166.18L70.63 165.67Z"/><path d="M86.43 165.76L89.76 169.10L90.18 167.86L93.06 173.22L87.70 170.33L88.94 169.92L85.60 166.59L86.43 165.76Z"/><path d="M102.11 165.76L105.44 169.10L105.85 167.86L108.74 173.22L103.38 170.33L104.62 169.92L101.28 166.59L102.11 165.76Z"/><path d="M117.78 165.76L121.12 169.10L121.53 167.86L124.42 173.22L119.06 170.33L120.29 169.92L116.96 166.59L117.78 165.76Z"/><path d="M133.46 165.76L136.80 169.10L137.21 167.86L140.09 173.22L134.73 170.33L135.97 169.92L132.64 166.59L133.46 165.76Z"/><path d="M149.14 165.76L152.47 169.10L152.88 167.86L155.77 173.22L150.41 170.33L151.65 169.92L148.31 166.59L149.14 165.76Z"/><path d="M164.82 165.76L168.15 169.10L168.56 167.86L171.45 173.22L166.09 170.33L167.33 169.92L163.99 166.59L164.82 165.76Z"/><path d="M180.49 165.76L183.83 169.10L184.24 167.86L187.13 173.22L181.77 170.33L183.00 169.92L179.67 166.59L180.49 165.76Z"/><path d="M196.17 165.76L199.50 169.10L199.92 167.86L202.80 173.22L197.44 170.33L198.68 169.92L195.35 166.59L196.17 165.76Z"/><path d="M211.85 165.76L215.18 169.10L215.59 167.86L218.48 173.22L213.12 170.33L214.36 169.92L211.02 166.59L211.85 165.76Z"/><path d="M227.53 165.76L230.86 169.10L231.27 167.86L234.16 173.22L228.80 170.33L230.03 169.92L226.70 166.59L227.53 165.76Z"/><path d="M243.20 165.76L246.54 169.10L246.95 167.86L249.84 173.22L244.48 170.33L245.71 169.92L242.38 166.59L243.20 165.76Z"/><path d="M258.88 165.76L262.21 169.10L262.63 167.86L265.51 173.22L260.15 170.33L261.39 169.92L258.06 166.59L258.88 165.76Z"/><path d="M274.56 165.76L277.89 169.10L278.30 167.86L281.19 173.22L275.83 170.33L277.07 169.92L273.73 166.59L274.56 165.76Z"/><path d="M290.23 165.76L293.57 169.10L293.98 167.86L296.87 173.22L291.51 170.33L292.74 169.92L289.41 166.59L290.23 165.76Z"/><path d="M306.08 166.18L306.08 170.89L307.25 170.31L305.50 176.14L303.75 170.31L304.92 170.89L304.92 166.18L306.08 166.18Z"/><path d="M321.59 166.59L318.26 169.92L319.49 170.33L314.13 173.22L317.02 167.86L317.43 169.10L320.77 165.76L321.59 166.59Z"/><path d="M337.27 166.59L333.93 169.92L335.17 170.33L329.81 173.22L332.70 167.86L333.11 169.10L336.44 165.76L337.27 166.59Z"/><path d="M352.94 166.59L349.61 169.92L350.85 170.33L345.49 173.22L348.37 167.86L348.79 169.10L352.12 165.76L352.94 166.59Z"/><path d="M368.62 166.59L365.29 169.92L366.52 170.33L361.16 173.22L364.05 167.86L364.46 169.10L367.80 165.76L368.62 166.59Z"/><path d="M384.30 166.59L380.97 169.92L382.20 170.33L376.84 173.22L379.73 167.86L380.14 169.10L383.47 165.76L384.30 166.59Z"/><path d="M399.98 166.59L396.64 169.92L397.88 170.33L392.52 173.22L395.41 167.86L395.82 169.10L399.15 165.76L399.98 166.59Z"/><path d="M415.65 166.59L412.32 169.92L413.56 170.33L408.20 173.22L411.08 167.86L411.50 169.10L414.83 165.76L415.65 166.59Z"/><path d="M431.33 166.59L428.00 169.92L429.23 170.33L423.87 173.22L426.76 167.86L427.17 169.10L430.51 165.76L431.33 166.59Z"/><path d="M447.01 166.59L443.67 169.92L444.91 170.33L439.55 173.22L442.44 167.86L442.85 169.10L446.18 165.76L447.01 166.59Z"/><path d="M462.69 166.59L459.35 169.92L460.59 170.33L455.23 173.22L458.12 167.86L458.53 169.10L461.86 165.76L462.69 166.59Z"/><path d="M478.36 166.59L475.03 169.92L476.27 170.33L470.91 173.22L473.79 167.86L474.20 169.10L477.54 165.76L478.36 166.59Z"/><path d="M494.04 166.59L490.71 169.92L491.94 170.33L486.58 173.22L489.47 167.86L489.88 169.10L493.22 165.76L494.04 166.59Z"/><path d="M509.72 166.59L506.38 169.92L507.62 170.33L502.26 173.22L505.15 167.86L505.56 169.10L508.89 165.76L509.72 166.59Z"/><path d="M525.40 166.59L522.06 169.92L523.30 170.33L517.94 173.22L520.82 167.86L521.24 169.10L524.57 165.76L525.40 166.59Z"/><path d="M541.24 166.18L540.95 165.67L540.37 165.67L540.08 166.18L540.37 166.68L540.95 166.68L541.24 166.18L540.95 165.67Z"/><path d="M70.92 150.52L70.63 150.02L70.05 150.02L69.76 150.52L70.05 151.03L70.63 151.03L70.92 150.52L70.63 150.02Z"/><path d="M86.43 150.11L89.76 153.44L90.18 152.21L93.06 157.57L87.70 154.68L88.94 154.27L85.60 150.93L86.43 150.11Z"/><path d="M102.11 150.11L105.44 153.44L105.85 152.21L108.74 157.57L103.38 154.68L104.62 154.27L101.28 150.93L102.11 150.11Z"/><path d="M117.78 150.11L121.12 153.44L121.53 152.21L124.42 157.57L119.06 154.68L120.29 154.27L116.96 150.93L117.78 150.11Z"/><path d="M133.46 150.11L136.80 153.44L137.21 152.21L140.09 157.57L134.73 154.68L135.97 154.27L132.64 150.93L133.46 150.11Z"/><path d="M149.14 150.11L152.47 153.44L152.88 152.21L155.77 157.57L150.41 154.68L151.65 154.27L148.31 150.93L149.14 150.11Z"/><path d="M164.82 150.11L168.15 153.44L168.56 152.21L171.45 157.57L166.09 154.68L167.33 154.27L163.99 150.93L164.82 150.11Z"/><path d="M180.49 150.11L183.83 153.44L184.24 152.21L187.13 157.57L181.77 154.68L183.00 154.27L179.67 150.93L180.49 150.11Z"/><path d="M196.17 150.11L199.50 153.44L199.92 152.21L202.80 157.57L197.44 154.68L198.68 154.27L195.35 150.93L196.17 150.11Z"/><path d="M211.85 150.11L215.18 153.44L215.59 152.21L218.48 157.57L213.12 154.68L214.36 154.27L211.02 150.93L211.85 150.11Z"/><path d="M227.53 150.11L230.86 153.44L231.27 152.21L234.16 157.57L228.80 154.68L230.03 154.27L226.70 150.93L227.53 150.11Z"/><path d="M243.20 150.11L246.54 153.44L246.95 152.21L249.84 157.57L244.48 154.68L245.71 154.27L242.38 150.93L243.20 150.11Z"/><path d="M258.88 150.11L262.21 153.44L262.63 152.21L265.51 157.57L260.15 154.68L261.39 154.27L258.06 150.93L258.88 150.11Z"/><path d="M274.56 150.11L277.89 153.44L278.30 152.21L281.19 157.57L275.83 154.68L277.07 154.27L273.73 150.93L274.56 150.11Z"/><path d="M290.23 150.11L293.57 153.44L293.98 152.21L296.87 157.57L291.51 154.68L292.74 154.27L289.41 150.93L290.23 150.11Z"/><path d="M306.08 150.52L306.08 155.24L307.25 154.65L305.50 160.49L303.75 154.65L304.92 155.24L304.92 150.52L306.08 150.52Z"/><path d="M321.59 150.93L318.26 154.27L319.49 154.68L314.13 157.57L317.02 152.21L317.43 153.44L320.77 150.11L321.59 150.93Z"/><path d="M337.27 150.93L333.93 154.27L335.17 154.68L329.81 157.57L332.70 152.21L333.11 153.44L336.44 150.11L337.27 150.93Z"/><path d="M352.94 150.93L349.61 154.27L350.85 154.68L345.49 157.57L348.37 152.21L348.79 153.44L352.12 150.11L352.94 150.93Z"/><path d="M368.62 150.93L365.29 154.27L366.52 154.68L361.16 157.57L364.05 152.21L364.46 153.44L367.80 150.11L368.62 150.93Z"/><path d="M384.30 150.93L380.97 154.27L382.20 154.68L376.84 157.57L379.73 152.21L380.14 153.44L383.47 150.11L384.30 150.93Z"/><path d="M399.98 150.93L396.64 154.27L397.88 154.68L392.52 157.57L395.41 152.21L395.82 153.44L399.15 150.11L399.98 150.93Z"/><path d="M415.65 150.93L412.32 154.27L413.56 154.68L408.20 157.57L411.08 152.21L411.50 153.44L414.83 150.11L415.65 150.93Z"/><path d="M431.33 150.93L428.00 154.27L429.23 154.68L423.87 157.57L426.76 152.21L427.17 153.44L430.51 150.11L431.33 150.93Z"/><path d="M447.01 150.93L443.67 154.27L444.91 154.68L439.55 157.57L442.44 152.21L442.85 153.44L446.18 150.11L447.01 150.93Z"/><path d="M462.69 150.93L459.35 154.27L460.59 154.68L455.23 157.57L458.12 152.21L458.53 153.44L461.86 150.11L462.69 150.93Z"/><path d="M478.36 150.93L475.03 154.27L476.27 154.68L470.91 157.57L473.79 152.21L474.20 153.44L477.54 150.11L478.36 150.93Z"/><path d="M494.04 150.93L490.71 154.27L491.94 154.68L486.58 157.57L489.47 152.21L489.88 153.44L493.22 150.11L494.04 150.93Z"/><path d="M509.72 150.93L506.38 154.27L507.62 154.68L502.26 157.57L505.15 152.21L505.56 153.44L508.89 150.11L509.72 150.93Z"/><path d="M525.40 150.93L522.06 154.27L523.30 154.68L517.94 157.57L520.82 152.21L521.24 153.44L524.57 150.11L525.40 150.93Z"/><path d="M541.24 150.52L540.95 150.02L540.37 150.02L540.08 150.52L540.37 151.03L540.95 151.03L541.24 150.52L540.95 150.02Z"/><path d="M70.92 134.87L70.63 134.36L70.05 134.36L69.76 134.87L70.05 135.37L70.63 135.37L70.92 134.87L70.63 134.36Z"/><path d="M86.43 134.45L89.76 137.79L90.18 136.55L93.06 141.91L87.70 139.03L88.94 138.61L85.60 135.28L86.43 134.45Z"/><path d="M102.11 134.45L105.44 137.79L105.85 136.55L108.74 141.91L103.38 139.03L104.62 138.61L101.28 135.28L102.11 134.45Z"/><path d="M117.78 134.45L121.12 137.79L121.53 136.55L124.42 141.91L119.06 139.03L120.29 138.61L116.96 135.28L117.78 134.45Z"/><path d="M133.46 134.45L136.80 137.79L137.21 136.55L140.09 141.91L134.73 139.03L135.97 138.61L132.64 135.28L133.46 134.45Z"/><path d="M149.14 134.45L152.47 137.79L152.88 136.55L155.77 141.91L150.41 139.03L151.65 138.61L148.31 135.28L149.14 134.45Z"/><path d="M164.82 134.45L168.15 137.79L168.56 136.55L171.45 141.91L166.09 139.03L167.33 138.61L163.99 135.28L164.82 134.45Z"/><path d="M180.49 134.45L183.83 137.79L184.24 136.55L187.13 141.91L181.77 139.03L183.00 138.61L179.67 135.28L180.49 134.45Z"/><path d="M196.17 134.45L199.50 137.79L199.92 136.55L202.80 141.91L197.44 139.03L198.68 138.61L195.35 135.28L196.17 134.45Z"/><path d="M211.85 134.45L215.18 137.79L215.59 136.55L218.48 141.91L213.12 139.03L214.36 138.61L211.02 135.28L211.85 134.45Z"/><path d="M227.53 134.45L230.86 137.79L231.27 136.55L234.16 141.91L228.80 139.03L230.03 138.61L226.70 135.28L227.53 134.45Z"/><path d="M243.20 134.45L246.54 137.79L246.95 136.55L249.84 141.91L244.48 139.03L245.71 138.61L242.38 135.28L243.20 134.45Z"/><path d="M258.88 134.45L262.21 137.79L262.63 136.55L265.51 141.91L260.15 139.03L261.39 138.61L258.06 135.28L258.88 134.45Z"/><path d="M274.56 134.45L277.89 137.79L278.30 136.55L281.19 141.91L275.83 139.03L277.07 138.61L273.73 135.28L274.56 134.45Z"/><path d="M290.23 134.45L293.57 137.79L293.98 136.55L296.87 141.91L291.51 139.03L292.74 138.61L289.41 135.28L290.23 134.45Z"/><path d="M306.08 134.87L306.08 139.58L307.25 139.00L305.50 144.83L303.75 139.00L304.92 139.58L304.92 134.87L306.08 134.87Z"/><path d="M321.59 135.28L318.26 138.61L319.49 139.03L314.13 141.91L317.02 136.55L317.43 137.79L320.77 134.45L321.59 135.28Z"/><path d="M337.27 135.28L333.93 138.61L335.17 139.03L329.81 141.91L332.70 136.55L333.11 137.79L336.44 134.45L337.27 135.28Z"/><path d="M352.94 135.28L349.61 138.61L350.85 139.03L345.49 141.91L348.37 136.55L348.79 137.79L352.12 134.45L352.94 135.28Z"/><path d="M368.62 135.28L365.29 138.61L366.52 139.03L361.16 141.91L364.05 136.55L364.46 137.79L367.80 134.45L368.62 135.28Z"/><path d="M384.30 135.28L380.97 138.61L382.20 139.03L376.84 141.91L379.73 136.55L380.14 137.79L383.47 134.45L384.30 135.28Z"/><path d="M399.98 135.28L396.64 138.61L397.88 139.03L392.52 141.91L395.41 136.55L395.82 137.79L399.15 134.45L399.98 135.28Z"/><path d="M415.65 135.28L412.32 138.61L413.56 139.03L408.20 141.91L411.08 136.55L411.50 137.79L414.83 134.45L415.65 135.28Z"/><path d="M431.33 135.28L428.00 138.61L429.23 139.03L423.87 141.91L426.76 136.55L427.17 137.79L430.51 134.45L431.33 135.28Z"/><path d="M447.01 135.28L443.67 138.61L444.91 139.03L439.55 141.91L442.44 136.55L442.85 137.79L446.18 134.45L447.01 135.28Z"/><path d="M462.69 135.28L459.35 138.61L460.59 139.03L455.23 141.91L458.12 136.55L458.53 137.79L461.86 134.45L462.69 135.28Z"/><path d="M478.36 135.28L475.03 138.61L476.27 139.03L470.91 141.91L473.79 136.55L474.20 137.79L477.54 134.45L478.36 135.28Z"/><path d="M494.04 135.28L490.71 138.61L491.94 139.03L486.58 141.91L489.47 136.55L489.88 137.79L493.22 134.45L494.04 135.28Z"/><path d="M509.72 135.28L506.38 138.61L507.62 139.03L502.26 141.91L505.15 136.55L505.56 137.79L508.89 134.45L509.72 135.28Z"/><path d="M525.40 135.28L522.06 138.61L523.30 139.03L517.94 141.91L520.82 136.55L521.24 137.79L524.57 134.45L525.40 135.28Z"/><path d="M541.24 134.87L540.95 134.36L540.37 134.36L540.08 134.87L540.37 135.37L540.95 135.37L541.24 134.87L540.95 134.36Z"/><path d="M70.92 119.21L70.63 118.71L70.05 118.71L69.76 119.21L70.05 119.72L70.63 119.72L70.92 119.21L70.63 118.71Z"/><path d="M86.43 118.80L89.76 122.13L90.18 120.90L93.06 126.26L87.70 123.37L88.94 122.96L85.60 119.62L86.43 118.80Z"/><path d="M102.11 118.80L105.44 122.13L105.85 120.90L108.74 126.26L103.38 123.37L104.62 122.96L101.28 119.62L102.11 118.80Z"/><path d="M117.78 118.80L121.12 122.13L121.53 120.90L124.42 126.26L119.06 123.37L120.29 122.96L116.96 119.62L117.78 118.80Z"/><path d="M133.46 118.80L136.80 122.13L137.21 120.90L140.09 126.26L134.73 123.37L135.97 122.96L132.64 119.62L133.46 118.80Z"/><path d="M149.14 118.80L152.47 122.13L152.88 120.90L155.77 126.26L150.41 123.37L151.65 122.96L148.31 119.62L149.14 118.80Z"/><path d="M164.82 118.80L168.15 122.13L168.56 120.90L171.45 126.26L166.09 123.37L167.33 122.96L163.99 119.62L164.82 118.80Z"/><path d="M180.49 118.80L183.83 122.13L184.24 120.90L187.13 126.26L181.77 123.37L183.00 122.96L179.67 119.62L180.49 118.80Z"/><path d="M196.17 118.80L199.50 122.13L199.92 120.90L202.80 126.26L197.44 123.37L198.68 122.96L195.35 119.62L196.17 118.80Z"/><path d="M211.85 118.80L215.18 122.13L215.59 120.90L218.48 126.26L213.12 123.37L214.36 122.96L211.02 119.62L211.85 118.80Z"/><path d="M227.53 118.80L230.86 122.13L231.27 120.90L234.16 126.26L228.80 123.37L230.03 122.96L226.70 119.62L227.53 118.80Z"/><path d="M243.20 118.80L246.54 122.13L246.95 120.90L249.84 126.26L244.48 123.37L245.71 122.96L242.38 119.62L243.20 118.80Z"/><path d="M258.88 118.80L262.21 122.13L262.63 120.90L265.51 126.26L260.15 123.37L261.39 122.96L258.06 119.62L258.88 118.80Z"/><path d="M274.56 118.80L277.89 122.13L278.30 120.90L281.19 126.26L275.83 123.37L277.07 122.96L273.73 119.62L274.56 118.80Z"/><path d="M290.23 118.80L293.57 122.13L293.98 120.90L296.87 126.26L291.51 123.37L292.74 122.96L289.41 119.62L290.23 118.80Z"/><path d="M306.08 119.21L306.08 123.93L307.25 123.34L305.50 129.18L303.75 123.34L304.92 123.93L304.92 119.21L306.08 119.21Z"/><path d="M321.59 119.62L318.26 122.96L319.49 123.37L314.13 126.26L317.02 120.90L317.43 122.13L320.77 118.80L321.59 119.62Z"/><path d="M337.27 119.62L333.93 122.96L335.17 123.37L329.81 126.26L332.70 120.90L333.11 122.13L336.44 118.80L337.27 119.62Z"/><path d="M352.94 119.62L349.61 122.96L350.85 123.37L345.49 126.26L348.37 120.90L348.79 122.13L352.12 118.80L352.94 119.62Z"/><path d="M368.62 119.62L365.29 122.96L366.52 123.37L361.16 126.26L364.05 120.90L364.46 122.13L367.80 118.80L368.62 119.62Z"/><path d="M384.30 119.62L380.97 122.96L382.20 123.37L376.84 126.26L379.73 120.90L380.14 122.13L383.47 118.80L384.30 119.62Z"/><path d="M399.98 119.62L396.64 122.96L397.88 123.37L392.52 126.26L395.41 120.90L395.82 122.13L399.15 118.80L399.98 119.62Z"/><path d="M415.65 119.62L412.32 122.96L413.56 123.37L408.20 126.26L411.08 120.90L411.50 122.13L414.83 118.80L415.65 119.62Z"/><path d="M431.33 119.62L428.00 122.96L429.23 123.37L423.87 126.26L426.76 120.90L427.17 122.13L430.51 118.80L431.33 119.62Z"/><path d="M447.01 119.62L443.67 122.96L444.91 123.37L439.55 126.26L442.44 120.90L442.85 122.13L446.18 118.80L447.01 119.62Z"/><path d="M462.69 119.62L459.35 122.96L460.59 123.37L455.23 126.26L458.12 120.90L458.53 122.13L461.86 118.80L462.69 119.62Z"/><path d="M478.36 119.62L475.03 122.96L476.27 123.37L470.91 126.26L473.79 120.90L474.20 122.13L477.54 118.80L478.36 119.62Z"/><path d="M494.04 119.62L490.71 122.96L491.94 123.37L486.58 126.26L489.47 120.90L489.88 122.13L493.22 118.80L494.04 119.62Z"/><path d="M509.72 119.62L506.38 122.96L507.62 123.37L502.26 126.26L505.15 120.90L505.56 122.13L508.89 118.80L509.72 119.62Z"/><path d="M525.40 119.62L522.06 122.96L523.30 123.37L517.94 126.26L520.82 120.90L521.24 122.13L524.57 118.80L525.40 119.62Z"/><path d="M541.24 119.21L540.95 118.71L540.37 118.71L540.08 119.21L540.37 119.72L540.95 119.72L541.24 119.21L540.95 118.71Z"/><path d="M70.92 103.56L70.63 103.05L70.05 103.05L69.76 103.56L70.05 104.06L70.63 104.06L70.92 103.56L70.63 103.05Z"/><path d="M86.43 103.14L89.76 106.48L90.18 105.24L93.06 110.60L87.70 107.72L88.94 107.30L85.60 103.97L86.43 103.14Z"/><path d="M102.11 103.14L105.44 106.48L105.85 105.24L108.74 110.60L103.38 107.72L104.62 107.30L101.28 103.97L102.11 103.14Z"/><path d="M117.78 103.14L121.12 106.48L121.53 105.24L124.42 110.60L119.06 107.72L120.29 107.30L116.96 103.97L117.78 103.14Z"/><path d="M133.46 103.14L136.80 106.48L137.21 105.24L140.09 110.60L134.73 107.72L135.97 107.30L132.64 103.97L133.46 103.14Z"/><path d="M149.14 103.14L152.47 106.48L152.88 105.24L155.77 110.60L150.41 107.72L151.65 107.30L148.31 103.97L149.14 103.14Z"/><path d="M164.82 103.14L168.15 106.48L168.56 105.24L171.45 110.60L166.09 107.72L167.33 107.30L163.99 103.97L164.82 103.14Z"/><path d="M180.49 103.14L183.83 106.48L184.24 105.24L187.13 110.60L181.77 107.72L183.00 107.30L179.67 103.97L180.49 103.14Z"/><path d="M196.17 103.14L199.50 106.48L199.92 105.24L202.80 110.60L197.44 107.72L198.68 107.30L195.35 103.97L196.17 103.14Z"/><path d="M211.85 103.14L215.18 106.48L215.59 105.24L218.48 110.60L213.12 107.72L214.36 107.30L211.02 103.97L211.85 103.14Z"/><path d="M227.53 103.14L230.86 106.48L231.27 105.24L234.16 110.60L228.80 107.72L230.03 107.30L226.70 103.97L227.53 103.14Z"/><path d="M243.20 103.14L246.54 106.48L246.95 105.24L249.84 110.60L244.48 107.72L245.71 107.30L242.38 103.97L243.20 103.14Z"/><path d="M258.88 103.14L262.21 106.48L262.63 105.24L265.51 110.60L260.15 107.72L261.39 107.30L258.06 103.97L258.88 103.14Z"/><path d="M274.56 103.14L277.89 106.48L278.30 105.24L281.19 110.60L275.83 107.72L277.07 107.30L273.73 103.97L274.56 103.14Z"/><path d="M290.23 103.14L293.57 106.48L293.98 105.24L296.87 110.60L291.51 107.72L292.74 107.30L289.41 103.97L290.23 103.14Z"/><path d="M306.08 103.56L306.08 108.27L307.25 107.69L305.50 113.52L303.75 107.69L304.92 108.27L304.92 103.56L306.08 103.56Z"/><path d="M321.59 103.97L318.26 107.30L319.49 107.72L314.13 110.60L317.02 105.24L317.43 106.48L320.77 103.14L321.59 103.97Z"/><path d="M337.27 103.97L333.93 107.30L335.17 107.72L329.81 110.60L332.70 105.24L333.11 106.48L336.44 103.14L337.27 103.97Z"/><path d="M352.94 103.97L349.61 107.30L350.85 107.72L345.49 110.60L348.37 105.24L348.79 106.48L352.12 103.14L352.94 103.97Z"/><path d="M368.62 103.97L365.29 107.30L366.52 107.72L361.16 110.60L364.05 105.24L364.46 106.48L367.80 103.14L368.62 103.97Z"/><path d="M384.30 103.97L380.97 107.30L382.20 107.72L376.84 110.60L379.73 105.24L380.14 106.48L383.47 103.14L384.30 103.97Z"/><path d="M399.98 103.97L396.64 107.30L397.88 107.72L392.52 110.60L395.41 105.24L395.82 106.48L399.15 103.14L399.98 103.97Z"/><path d="M415.65 103.97L412.32 107.30L413.56 107.72L408.20 110.60L411.08 105.24L411.50 106.48L414.83 103.14L415.65 103.97Z"/><path d="M431.33 103.97L428.00 107.30L429.23 107.72L423.87 110.60L426.76 105.24L427.17 106.48L430.51 103.14L431.33 103.97Z"/><path d="M447.01 103.97L443.67 107.30L444.91 107.72L439.55 110.60L442.44 105.24L442.85 106.48L446.18 103.14L447.01 103.97Z"/><path d="M462.69 103.97L459.35 107.30L460.59 107.72L455.23 110.60L458.12 105.24L458.53 106.48L461.86 103.14L462.69 103.97Z"/><path d="M478.36 103.97L475.03 107.30L476.27 107.72L470.91 110.60L473.79 105.24L474.20 106.48L477.54 103.14L478.36 103.97Z"/><path d="M494.04 103.97L490.71 107.30L491.94 107.72L486.58 110.60L489.47 105.24L489.88 106.48L493.22 103.14L494.04 103.97Z"/><path d="M509.72 103.97L506.38 107.30L507.62 107.72L502.26 110.60L505.15 105.24L505.56 106.48L508.89 103.14L509.72 103.97Z"/><path d="M525.40 103.97L522.06 107.30L523.30 107.72L517.94 110.60L520.82 105.24L521.24 106.48L524.57 103.14L525.40 103.97Z"/><path d="M541.24 103.56L540.95 103.05L540.37 103.05L540.08 103.56L540.37 104.06L540.95 104.06L541.24 103.56L540.95 103.05Z"/><path d="M70.92 87.90L70.63 87.40L70.05 87.40L69.76 87.90L70.05 88.41L70.63 88.41L70.92 87.90L70.63 87.40Z"/><path d="M86.43 87.49L89.76 90.82L90.18 89.59L93.06 94.95L87.70 92.06L88.94 91.65L85.60 88.31L86.43 87.49Z"/><path d="M102.11 87.49L105.44 90.82L105.85 89.59L108.74 94.95L103.38 92.06L104.62 91.65L101.28 88.31L102.11 87.49Z"/><path d="M117.78 87.49L121.12 90.82L121.53 89.59L124.42 94.95L119.06 92.06L120.29 91.65L116.96 88.31L117.78 87.49Z"/><path d="M133.46 87.49L136.80 90.82L137.21 89.59L140.09 94.95L134.73 92.06L135.97 91.65L132.64 88.31L133.46 87.49Z"/><path d="M149.14 87.49L152.47 90.82L152.88 89.59L155.77 94.95L150.41 92.06L151.65 91.65L148.31 88.31L149.14 87.49Z"/><path d="M164.82 87.49L168.15 90.82L168.56 89.59L171.45 94.95L166.09 92.06L167.33 91.65L163.99 88.31L164.82 87.49Z"/><path d="M180.49 87.49L183.83 90.82L184.24 89.59L187.13 94.95L181.77 92.06L183.00 91.65L179.67 88.31L180.49 87.49Z"/><path d="M196.17 87.49L199.50 90.82L199.92 89.59L202.80 94.95L197.44 92.06L198.68 91.65L195.35 88.31L196.17 87.49Z"/><path d="M211.85 87.49L215.18 90.82L215.59 89.59L218.48 94.95L213.12 92.06L214.36 91.65L211.02 88.31L211.85 87.49Z"/><path d="M227.53 87.49L230.86 90.82L231.27 89.59L234.16 94.95L228.80 92.06L230.03 91.65L226.70 88.31L227.53 87.49Z"/><path d="M243.20 87.49L246.54 90.82L246.95 89.59L249.84 94.95L244.48 92.06L245.71 91.65L242.38 88.31L243.20 87.49Z"/><path d="M258.88 87.49L262.21 90.82L262.63 89.59L265.51 94.95L260.15 92.06L261.39 91.65L258.06 88.31L258.88 87.49Z"/><path d="M274.56 87.49L277.89 90.82L278.30 89.59L281.19 94.95L275.83 92.06L277.07 91.65L273.73 88.31L274.56 87.49Z"/><path d="M290.23 87.49L293.57 90.82L293.98 89.59L296.87 94.95L291.51 92.06L292.74 91.65L289.41 88.31L290.23 87.49Z"/><path d="M306.08 87.90L306.08 92.62L307.25 92.03L305.50 97.87L303.75 92.03L304.92 92.62L304.92 87.90L306.08 87.90Z"/><path d="M321.59 88.31L318.26 91.65L319.49 92.06L314.13 94.95L317.02 89.59L317.43 90.82L320.77 87.49L321.59 88.31Z"/><path d="M337.27 88.31L333.93 91.65L335.17 92.06L329.81 94.95L332.70 89.59L333.11 90.82L336.44 87.49L337.27 88.31Z"/><path d="M352.94 88.31L349.61 91.65L350.85 92.06L345.49 94.95L348.37 89.59L348.79 90.82L352.12 87.49L352.94 88.31Z"/><path d="M368.62 88.31L365.29 91.65L366.52 92.06L361.16 94.95L364.05 89.59L364.46 90.82L367.80 87.49L368.62 88.31Z"/><path d="M384.30 88.31L380.97 91.65L382.20 92.06L376.84 94.95L379.73 89.59L380.14 90.82L383.47 87.49L384.30 88.31Z"/><path d="M399.98 88.31L396.64 91.65L397.88 92.06L392.52 94.95L395.41 89.59L395.82 90.82L399.15 87.49L399.98 88.31Z"/><path d="M415.65 88.31L412.32 91.65L413.56 92.06L408.20 94.95L411.08 89.59L411.50 90.82L414.83 87.49L415.65 88.31Z"/><path d="M431.33 88.31L428.00 91.65L429.23 92.06L423.87 94.95L426.76 89.59L427.17 90.82L430.51 87.49L431.33 88.31Z"/><path d="M447.01 88.31L443.67 91.65L444.91 92.06L439.55 94.95L442.44 89.59L442.85 90.82L446.18 87.49L447.01 88.31Z"/><path d="M462.69 88.31L459.35 91.65L460.59 92.06L455.23 94.95L458.12 89.59L458.53 90.82L461.86 87.49L462.69 88.31Z"/><path d="M478.36 88.31L475.03 91.65L476.27 92.06L470.91 94.95L473.79 89.59L474.20 90.82L477.54 87.49L478.36 88.31Z"/><path d="M494.04 88.31L490.71 91.65L491.94 92.06L486.58 94.95L489.47 89.59L489.88 90.82L493.22 87.49L494.04 88.31Z"/><path d="M509.72 88.31L506.38 91.65L507.62 92.06L502.26 94.95L505.15 89.59L505.56 90.82L508.89 87.49L509.72 88.31Z"/><path d="M525.40 88.31L522.06 91.65L523.30 92.06L517.94 94.95L520.82 89.59L521.24 90.82L524.57 87.49L525.40 88.31Z"/><path d="M541.24 87.90L540.95 87.40L540.37 87.40L540.08 87.90L540.37 88.41L540.95 88.41L541.24 87.90L540.95 87.40Z"/><path d="M70.92 72.25L70.63 71.74L70.05 71.74L69.76 72.25L70.05 72.75L70.63 72.75L70.92 72.25L70.63 71.74Z"/><path d="M86.43 71.83L89.76 75.17L90.18 73.93L93.06 79.29L87.70 76.41L88.94 75.99L85.60 72.66L86.43 71.83Z"/><path d="M102.11 71.83L105.44 75.17L105.85 73.93L108.74 79.29L103.38 76.41L104.62 75.99L101.28 72.66L102.11 71.83Z"/><path d="M117.78 71.83L121.12 75.17L121.53 73.93L124.42 79.29L119.06 76.41L120.29 75.99L116.96 72.66L117.78 71.83Z"/><path d="M133.46 71.83L136.80 75.17L137.21 73.93L140.09 79.29L134.73 76.41L135.97 75.99L132.64 72.66L133.46 71.83Z"/><path d="M149.14 71.83L152.47 75.17L152.88 73.93L155.77 79.29L150.41 76.41L151.65 75.99L148.31 72.66L149.14 71.83Z"/><path d="M164.82 71.83L168.15 75.17L168.56 73.93L171.45 79.29L166.09 76.41L167.33 75.99L163.99 72.66L164.82 71.83Z"/><path d="M180.49 71.83L183.83 75.17L184.24 73.93L187.13 79.29L181.77 76.41L183.00 75.99L179.67 72.66L180.49 71.83Z"/><path d="M196.17 71.83L199.50 75.17L199.92 73.93L202.80 79.29L197.44 76.41L198.68 75.99L195.35 72.66L196.17 71.83Z"/><path d="M211.85 71.83L215.18 75.17L215.59 73.93L218.48 79.29L213.12 76.41L214.36 75.99L211.02 72.66L211.85 71.83Z"/><path d="M227.53 71.83L230.86 75.17L231.27 73.93L234.16 79.29L228.80 76.41L230.03 75.99L226.70 72.66L227.53 71.83Z"/><path d="M243.20 71.83L246.54 75.17L246.95 73.93L249.84 79.29L244.48 76.41L245.71 75.99L242.38 72.66L243.20 71.83Z"/><path d="M258.88 71.83L262.21 75.17L262.63 73.93L265.51 79.29L260.15 76.41L261.39 75.99L258.06 72.66L258.88 71.83Z"/><path d="M274.56 71.83L277.89 75.17L278.30 73.93L281.19 79.29L275.83 76.41L277.07 75.99L273.73 72.66L274.56 71.83Z"/><path d="M290.23 71.83L293.57 75.17L293.98 73.93L296.87 79.29L291.51 76.41L292.74 75.99L289.41 72.66L290.23 71.83Z"/><path d="M306.08 72.25L306.08 76.96L307.25 76.38L305.50 82.21L303.75 76.38L304.92 76.96L304.92 72.25L306.08 72.25Z"/><path d="M321.59 72.66L318.26 75.99L319.49 76.41L314.13 79.29L317.02 73.93L317.43 75.17L320.77 71.83L321.59 72.66Z"/><path d="M337.27 72.66L333.93 75.99L335.17 76.41L329.81 79.29L332.70 73.93L333.11 75.17L336.44 71.83L337.27 72.66Z"/><path d="M352.94 72.66L349.61 75.99L350.85 76.41L345.49 79.29L348.37 73.93L348.79 75.17L352.12 71.83L352.94 72.66Z"/><path d="M368.62 72.66L365.29 75.99L366.52 76.41L361.16 79.29L364.05 73.93L364.46 75.17L367.80 71.83L368.62 72.66Z"/><path d="M384.30 72.66L380.97 75.99L382.20 76.41L376.84 79.29L379.73 73.93L380.14 75.17L383.47 71.83L384.30 72.66Z"/><path d="M399.98 72.66L396.64 75.99L397.88 76.41L392.52 79.29L395.41 73.93L395.82 75.17L399.15 71.83L399.98 72.66Z"/><path d="M415.65 72.66L412.32 75.99L413.56 76.41L408.20 79.29L411.08 73.93L411.50 75.17L414.83 71.83L415.65 72.66Z"/><path d="M431.33 72.66L428.00 75.99L429.23 76.41L423.87 79.29L426.76 73.93L427.17 75.17L430.51 71.83L431.33 72.66Z"/><path d="M447.01 72.66L443.67 75.99L444.91 76.41L439.55 79.29L442.44 73.93L442.85 75.17L446.18 71.83L447.01 72.66Z"/><path d="M462.69 72.66L459.35 75.99L460.59 76.41L455.23 79.29L458.12 73.93L458.53 75.17L461.86 71.83L462.69 72.66Z"/><path d="M478.36 72.66L475.03 75.99L476.27 76.41L470.91 79.29L473.79 73.93L474.20 75.17L477.54 71.83L478.36 72.66Z"/><path d="M494.04 72.66L490.71 75.99L491.94 76.41L486.58 79.29L489.47 73.93L489.88 75.17L493.22 71.83L494.04 72.66Z"/><path d="M509.72 72.66L506.38 75.99L507.62 76.41L502.26 79.29L505.15 73.93L505.56 75.17L508.89 71.83L509.72 72.66Z"/><path d="M525.40 72.66L522.06 75.99L523.30 76.41L517.94 79.29L520.82 73.93L521.24 75.17L524.57 71.83L525.40 72.66Z"/><path d="M541.24 72.25L540.95 71.74L540.37 71.74L540.08 72.25L540.37 72.75L540.95 72.75L541.24 72.25L540.95 71.74Z"/><path d="M70.92 56.59L70.63 56.09L70.05 56.09L69.76 56.59L70.05 57.10L70.63 57.10L70.92 56.59L70.63 56.09Z"/><path d="M86.43 56.18L89.76 59.51L90.18 58.28L93.06 63.64L87.70 60.75L88.94 60.34L85.60 57.00L86.43 56.18Z"/><path d="M102.11 56.18L105.44 59.51L105.85 58.28L108.74 63.64L103.38 60.75L104.62 60.34L101.28 57.00L102.11 56.18Z"/><path d="M117.78 56.18L121.12 59.51L121.53 58.28L124.42 63.64L119.06 60.75L120.29 60.34L116.96 57.00L117.78 56.18Z"/><path d="M133.46 56.18L136.80 59.51L137.21 58.28L140.09 63.64L134.73 60.75L135.97 60.34L132.64 57.00L133.46 56.18Z"/><path d="M149.14 56.18L152.47 59.51L152.88 58.28L155.77 63.64L150.41 60.75L151.65 60.34L148.31 57.00L149.14 56.18Z"/><path d="M164.82 56.18L168.15 59.51L168.56 58.28L171.45 63.64L166.09 60.75L167.33 60.34L163.99 57.00L164.82 56.18Z"/><path d="M180.49 56.18L183.83 59.51L184.24 58.28L187.13 63.64L181.77 60.75L183.00 60.34L179.67 57.00L180.49 56.18Z"/><path d="M196.17 56.18L199.50 59.51L199.92 58.28L202.80 63.64L197.44 60.75L198.68 60.34L195.35 57.00L196.17 56.18Z"/><path d="M211.85 56.18L215.18 59.51L215.59 58.28L218.48 63.64L213.12 60.75L214.36 60.34L211.02 57.00L211.85 56.18Z"/><path d="M227.53 56.18L230.86 59.51L231.27 58.28L234.16 63.64L228.80 60.75L230.03 60.34L226.70 57.00L227.53 56.18Z"/><path d="M243.20 56.18L246.54 59.51L246.95 58.28L249.84 63.64L244.48 60.75L245.71 60.34L242.38 57.00L243.20 56.18Z"/><path d="M258.88 56.18L262.21 59.51L262.63 58.28L265.51 63.64L260.15 60.75L261.39 60.34L258.06 57.00L258.88 56.18Z"/><path d="M274.56 56.18L277.89 59.51L278.30 58.28L281.19 63.64L275.83 60.75L277.07 60.34L273.73 57.00L274.56 56.18Z"/><path d="M290.23 56.18L293.57 59.51L293.98 58.28L296.87 63.64L291.51 60.75L292.74 60.34L289.41 57.00L290.23 56.18Z"/><path d="M306.08 56.59L306.08 61.31L307.25 60.72L305.50 66.56L303.75 60.72L304.92 61.31L304.92 56.59L306.08 56.59Z"/><path d="M321.59 57.00L318.26 60.34L319.49 60.75L314.13 63.64L317.02 58.28L317.43 59.51L320.77 56.18L321.59 57.00Z"/><path d="M337.27 57.00L333.93 60.34L335.17 60.75L329.81 63.64L332.70 58.28L333.11 59.51L336.44 56.18L337.27 57.00Z"/><path d="M352.94 57.00L349.61 60.34L350.85 60.75L345.49 63.64L348.37 58.28L348.79 59.51L352.12 56.18L352.94 57.00Z"/><path d="M368.62 57.00L365.29 60.34L366.52 60.75L361.16 63.64L364.05 58.28L364.46 59.51L367.80 56.18L368.62 57.00Z"/><path d="M384.30 57.00L380.97 60.34L382.20 60.75L376.84 63.64L379.73 58.28L380.14 59.51L383.47 56.18L384.30 57.00Z"/><path d="M399.98 57.00L396.64 60.34L397.88 60.75L392.52 63.64L395.41 58.28L395.82 59.51L399.15 56.18L399.98 57.00Z"/><path d="M415.65 57.00L412.32 60.34L413.56 60.75L408.20 63.64L411.08 58.28L411.50 59.51L414.83 56.18L415.65 57.00Z"/><path d="M431.33 57.00L428.00 60.34L429.23 60.75L423.87 63.64L426.76 58.28L427.17 59.51L430.51 56.18L431.33 57.00Z"/><path d="M447.01 57.00L443.67 60.34L444.91 60.75L439.55 63.64L442.44 58.28L442.85 59.51L446.18 56.18L447.01 57.00Z"/><path d="M462.69 57.00L459.35 60.34L460.59 60.75L455.23 63.64L458.12 58.28L458.53 59.51L461.86 56.18L462.69 57.00Z"/><path d="M478.36 57.00L475.03 60.34L476.27 60.75L470.91 63.64L473.79 58.28L474.20 59.51L477.54 56.18L478.36 57.00Z"/><path d="M494.04 57.00L490.71 60.34L491.94 60.75L486.58 63.64L489.47 58.28L489.88 59.51L493.22 56.18L494.04 57.00Z"/><path d="M509.72 57.00L506.38 60.34L507.62 60.75L502.26 63.64L505.15 58.28L505.56 59.51L508.89 56.18L509.72 57.00Z"/><path d="M525.40 57.00L522.06 60.34L523.30 60.75L517.94 63.64L520.82 58.28L521.24 59.51L524.57 56.18L525.40 57.00Z"/><path d="M541.24 56.59L540.95 56.09L540.37 56.09L540.08 56.59L540.37 57.10L540.95 57.10L541.24 56.59L540.95 56.09Z"/><path d="M70.92 40.94L70.63 40.43L70.05 40.43L69.76 40.94L70.05 41.44L70.63 41.44L70.92 40.94L70.63 40.43Z"/><path d="M86.43 40.52L89.76 43.86L90.18 42.62L93.06 47.98L87.70 45.10L88.94 44.68L85.60 41.35L86.43 40.52Z"/><path d="M102.11 40.52L105.44 43.86L105.85 42.62L108.74 47.98L103.38 45.10L104.62 44.68L101.28 41.35L102.11 40.52Z"/><path d="M117.78 40.52L121.12 43.86L121.53 42.62L124.42 47.98L119.06 45.10L120.29 44.68L116.96 41.35L117.78 40.52Z"/><path d="M133.46 40.52L136.80 43.86L137.21 42.62L140.09 47.98L134.73 45.10L135.97 44.68L132.64 41.35L133.46 40.52Z"/><path d="M149.14 40.52L152.47 43.86L152.88 42.62L155.77 47.98L150.41 45.10L151.65 44.68L148.31 41.35L149.14 40.52Z"/><path d="M164.82 40.52L168.15 43.86L168.56 42.62L171.45 47.98L166.09 45.10L167.33 44.68L163.99 41.35L164.82 40.52Z"/><path d="M180.49 40.52L183.83 43.86L184.24 42.62L187.13 47.98L181.77 45.10L183.00 44.68L179.67 41.35L180.49 40.52Z"/><path d="M196.17 40.52L199.50 43.86L199.92 42.62L202.80 47.98L197.44 45.10L198.68 44.68L195.35 41.35L196.17 40.52Z"/><path d="M211.85 40.52L215.18 43.86L215.59 42.62L218.48 47.98L213.12 45.10L214.36 44.68L211.02 41.35L211.85 40.52Z"/><path d="M227.53 40.52L230.86 43.86L231.27 42.62L234.16 47.98L228.80 45.10L230.03 44.68L226.70 41.35L227.53 40.52Z"/><path d="M243.20 40.52L246.54 43.86L246.95 42.62L249.84 47.98L244.48 45.10L245.71 44.68L242.38 41.35L243.20 40.52Z"/><path d="M258.88 40.52L262.21 43.86L262.63 42.62L265.51 47.98L260.15 45.10L261.39 44.68L258.06 41.35L258.88 40.52Z"/><path d="M274.56 40.52L277.89 43.86L278.30 42.62L281.19 47.98L275.83 45.10L277.07 44.68L273.73 41.35L274.56 40.52Z"/><path d="M290.23 40.52L293.57 43.86L293.98 42.62L296.87 47.98L291.51 45.10L292.74 44.68L289.41 41.35L290.23 40.52Z"/><path d="M306.08 40.94L306.08 45.65L307.25 45.07L305.50 50.90L303.75 45.07L304.92 45.65L304.92 40.94L306.08 40.94Z"/><path d="M321.59 41.35L318.26 44.68L319.49 45.10L314.13 47.98L317.02 42.62L317.43 43.86L320.77 40.52L321.59 41.35Z"/><path d="M337.27 41.35L333.93 44.68L335.17 45.10L329.81 47.98L332.70 42.62L333.11 43.86L336.44 40.52L337.27 41.35Z"/><path d="M352.94 41.35L349.61 44.68L350.85 45.10L345.49 47.98L348.37 42.62L348.79 43.86L352.12 40.52L352.94 41.35Z"/><path d="M368.62 41.35L365.29 44.68L366.52 45.10L361.16 47.98L364.05 42.62L364.46 43.86L367.80 40.52L368.62 41.35Z"/><path d="M384.30 41.35L380.97 44.68L382.20 45.10L376.84 47.98L379.73 42.62L380.14 43.86L383.47 40.52L384.30 41.35Z"/><path d="M399.98 41.35L396.64 44.68L397.88 45.10L392.52 47.98L395.41 42.62L395.82 43.86L399.15 40.52L399.98 41.35Z"/><path d="M415.65 41.35L412.32 44.68L413.56 45.10L408.20 47.98L411.08 42.62L411.50 43.86L414.83 40.52L415.65 41.35Z"/><path d="M431.33 41.35L428.00 44.68L429.23 45.10L423.87 47.98L426.76 42.62L427.17 43.86L430.51 40.52L431.33 41.35Z"/><path d="M447.01 41.35L443.67 44.68L444.91 45.10L439.55 47.98L442.44 42.62L442.85 43.86L446.18 40.52L447.01 41.35Z"/><path d="M462.69 41.35L459.35 44.68L460.59 45.10L455.23 47.98L458.12 42.62L458.53 43.86L461.86 40.52L462.69 41.35Z"/><path d="M478.36 41.35L475.03 44.68L476.27 45.10L470.91 47.98L473.79 42.62L474.20 43.86L477.54 40.52L478.36 41.35Z"/><path d="M494.04 41.35L490.71 44.68L491.94 45.10L486.58 47.98L489.47 42.62L489.88 43.86L493.22 40.52L494.04 41.35Z"/><path d="M509.72 41.35L506.38 44.68L507.62 45.10L502.26 47.98L505.15 42.62L505.56 43.86L508.89 40.52L509.72 41.35Z"/><path d="M525.40 41.35L522.06 44.68L523.30 45.10L517.94 47.98L520.82 42.62L521.24 43.86L524.57 40.52L525.40 41.35Z"/><path d="M541.24 40.94L540.95 40.43L540.37 40.43L540.08 40.94L540.37 41.44L540.95 41.44L541.24 40.94L540.95 40.43Z"/><path d="M70.92 25.28L70.63 24.78L70.05 24.78L69.76 25.28L70.05 25.79L70.63 25.79L70.92 25.28L70.63 24.78Z"/><path d="M86.43 24.87L89.76 28.20L90.18 26.97L93.06 32.33L87.70 29.44L88.94 29.03L85.60 25.69L86.43 24.87Z"/><path d="M102.11 24.87L105.44 28.20L105.85 26.97L108.74 32.33L103.38 29.44L104.62 29.03L101.28 25.69L102.11 24.87Z"/><path d="M117.78 24.87L121.12 28.20L121.53 26.97L124.42 32.33L119.06 29.44L120.29 29.03L116.96 25.69L117.78 24.87Z"/><path d="M133.46 24.87L136.80 28.20L137.21 26.97L140.09 32.33L134.73 29.44L135.97 29.03L132.64 25.69L133.46 24.87Z"/><path d="M149.14 24.87L152.47 28.20L152.88 26.97L155.77 32.33L150.41 29.44L151.65 29.03L148.31 25.69L149.14 24.87Z"/><path d="M164.82 24.87L168.15 28.20L168.56 26.97L171.45 32.33L166.09 29.44L167.33 29.03L163.99 25.69L164.82 24.87Z"/><path d="M180.49 24.87L183.83 28.20L184.24 26.97L187.13 32.33L181.77 29.44L183.00 29.03L179.67 25.69L180.49 24.87Z"/><path d="M196.17 24.87L199.50 28.20L199.92 26.97L202.80 32.33L197.44 29.44L198.68 29.03L195.35 25.69L196.17 24.87Z"/><path d="M211.85 24.87L215.18 28.20L215.59 26.97L218.48 32.33L213.12 29.44L214.36 29.03L211.02 25.69L211.85 24.87Z"/><path d="M227.53 24.87L230.86 28.20L231.27 26.97L234.16 32.33L228.80 29.44L230.03 29.03L226.70 25.69L227.53 24.87Z"/><path d="M243.20 24.87L246.54 28.20L246.95 26.97L249.84 32.33L244.48 29.44L245.71 29.03L242.38 25.69L243.20 24.87Z"/><path d="M258.88 24.87L262.21 28.20L262.63 26.97L265.51 32.33L260.15 29.44L261.39 29.03L258.06 25.69L258.88 24.87Z"/><path d="M274.56 24.87L277.89 28.20L278.30 26.97L281.19 32.33L275.83 29.44L277.07 29.03L273.73 25.69L274.56 24.87Z"/><path d="M290.23 24.87L293.57 28.20L293.98 26.97L296.87 32.33L291.51 29.44L292.74 29.03L289.41 25.69L290.23 24.87Z"/><path d="M306.08 25.28L306.08 30.00L307.25 29.41L305.50 35.25L303.75 29.41L304.92 30.00L304.92 25.28L306.08 25.28Z"/><path d="M321.59 25.69L318.26 29.03L319.49 29.44L314.13 32.33L317.02 26.97L317.43 28.20L320.77 24.87L321.59 25.69Z"/><path d="M337.27 25.69L333.93 29.03L335.17 29.44L329.81 32.33L332.70 26.97L333.11 28.20L336.44 24.87L337.27 25.69Z"/><path d="M352.94 25.69L349.61 29.03L350.85 29.44L345.49 32.33L348.37 26.97L348.79 28.20L352.12 24.87L352.94 25.69Z"/><path d="M368.62 25.69L365.29 29.03L366.52 29.44L361.16 32.33L364.05 26.97L364.46 28.20L367.80 24.87L368.62 25.69Z"/><path d="M384.30 25.69L380.97 29.03L382.20 29.44L376.84 32.33L379.73 26.97L380.14 28.20L383.47 24.87L384.30 25.69Z"/><path d="M399.98 25.69L396.64 29.03L397.88 29.44L392.52 32.33L395.41 26.97L395.82 28.20L399.15 24.87L399.98 25.69Z"/><path d="M415.65 25.69L412.32 29.03L413.56 29.44L408.20 32.33L411.08 26.97L411.50 28.20L414.83 24.87L415.65 25.69Z"/><path d="M431.33 25.69L428.00 29.03L429.23 29.44L423.87 32.33L426.76 26.97L427.17 28.20L430.51 24.87L431.33 25.69Z"/><path d="M447.01 25.69L443.67 29.03L444.91 29.44L439.55 32.33L442.44 26.97L442.85 28.20L446.18 24.87L447.01 25.69Z"/><path d="M462.69 25.69L459.35 29.03L460.59 29.44L455.23 32.33L458.12 26.97L458.53 28.20L461.86 24.87L462.69 25.69Z"/><path d="M478.36 25.69L475.03 29.03L476.27 29.44L470.91 32.33L473.79 26.97L474.20 28.20L477.54 24.87L478.36 25.69Z"/><path d="M494.04 25.69L490.71 29.03L491.94 29.44L486.58 32.33L489.47 26.97L489.88 28.20L493.22 24.87L494.04 25.69Z"/><path d="M509.72 25.69L506.38 29.03L507.62 29.44L502.26 32.33L505.15 26.97L505.56 28.20L508.89 24.87L509.72 25.69Z"/><path d="M525.40 25.69L522.06 29.03L523.30 29.44L517.94 32.33L520.82 26.97L521.24 28.20L524.57 24.87L525.40 25.69Z"/><path d="M541.24 25.28L540.95 24.78L540.37 24.78L540.08 25.28L540.37 25.79L540.95 25.79L541.24 25.28L540.95 24.78Z"/><path d="M70.92 9.63L70.63 9.12L70.05 9.12L69.76 9.63L70.05 10.13L70.63 10.13L70.92 9.63L70.63 9.12Z"/><path d="M86.60 9.63L86.31 9.12L85.72 9.12L85.43 9.63L85.72 10.13L86.31 10.13L86.60 9.63L86.31 9.12Z"/><path d="M102.28 9.63L101.99 9.12L101.40 9.12L101.11 9.63L101.40 10.13L101.99 10.13L102.28 9.63L101.99 9.12Z"/><path d="M117.95 9.63L117.66 9.12L117.08 9.12L116.79 9.63L117.08 10.13L117.66 10.13L117.95 9.63L117.66 9.12Z"/><path d="M133.63 9.63L133.34 9.12L132.76 9.12L132.47 9.63L132.76 10.13L133.34 10.13L133.63 9.63L133.34 9.12Z"/><path d="M149.31 9.63L149.02 9.12L148.43 9.12L148.14 9.63L148.43 10.13L149.02 10.13L149.31 9.63L149.02 9.12Z"/><path d="M164.99 9.63L164.69 9.12L164.11 9.12L163.82 9.63L164.11 10.13L164.69 10.13L164.99 9.63L164.69 9.12Z"/><path d="M180.66 9.63L180.37 9.12L179.79 9.12L179.50 9.63L179.79 10.13L180.37 10.13L180.66 9.63L180.37 9.12Z"/><path d="M196.34 9.63L196.05 9.12L195.47 9.12L195.17 9.63L195.47 10.13L196.05 10.13L196.34 9.63L196.05 9.12Z"/><path d="M212.02 9.63L211.73 9.12L211.14 9.12L210.85 9.63L211.14 10.13L211.73 10.13L212.02 9.63L211.73 9.12Z"/><path d="M227.70 9.63L227.40 9.12L226.82 9.12L226.53 9.63L226.82 10.13L227.40 10.13L227.70 9.63L227.40 9.12Z"/><path d="M243.37 9.63L243.08 9.12L242.50 9.12L242.21 9.63L242.50 10.13L243.08 10.13L243.37 9.63L243.08 9.12Z"/><path d="M259.05 9.63L258.76 9.12L258.18 9.12L257.88 9.63L258.18 10.13L258.76 10.13L259.05 9.63L258.76 9.12Z"/><path d="M274.73 9.63L274.44 9.12L273.85 9.12L273.56 9.63L273.85 10.13L274.44 10.13L274.73 9.63L274.44 9.12Z"/><path d="M290.41 9.63L290.11 9.12L289.53 9.12L289.24 9.63L289.53 10.13L290.11 10.13L290.41 9.63L290.11 9.12Z"/><path d="M306.08 9.63L305.79 9.12L305.21 9.12L304.92 9.63L305.21 10.13L305.79 10.13L306.08 9.63L305.79 9.12Z"/><path d="M321.76 9.63L321.47 9.12L320.89 9.12L320.59 9.63L320.89 10.13L321.47 10.13L321.76 9.63L321.47 9.12Z"/><path d="M337.44 9.63L337.15 9.12L336.56 9.12L336.27 9.63L336.56 10.13L337.15 10.13L337.44 9.63L337.15 9.12Z"/><path d="M353.12 9.63L352.82 9.12L352.24 9.12L351.95 9.63L352.24 10.13L352.82 10.13L353.12 9.63L352.82 9.12Z"/><path d="M368.79 9.63L368.50 9.12L367.92 9.12L367.63 9.63L367.92 10.13L368.50 10.13L368.79 9.63L368.50 9.12Z"/><path d="M384.47 9.63L384.18 9.12L383.60 9.12L383.30 9.63L383.60 10.13L384.18 10.13L384.47 9.63L384.18 9.12Z"/><path d="M400.15 9.63L399.86 9.12L399.27 9.12L398.98 9.63L399.27 10.13L399.86 10.13L400.15 9.63L399.86 9.12Z"/><path d="M415.83 9.63L415.53 9.12L414.95 9.12L414.66 9.63L414.95 10.13L415.53 10.13L415.83 9.63L415.53 9.12Z"/><path d="M431.50 9.63L431.21 9.12L430.63 9.12L430.34 9.63L430.63 10.13L431.21 10.13L431.50 9.63L431.21 9.12Z"/><path d="M447.18 9.63L446.89 9.12L446.31 9.12L446.01 9.63L446.31 10.13L446.89 10.13L447.18 9.63L446.89 9.12Z"/><path d="M462.86 9.63L462.57 9.12L461.98 9.12L461.69 9.63L461.98 10.13L462.57 10.13L462.86 9.63L462.57 9.12Z"/><path d="M478.53 9.63L478.24 9.12L477.66 9.12L477.37 9.63L477.66 10.13L478.24 10.13L478.53 9.63L478.24 9.12Z"/><path d="M494.21 9.63L493.92 9.12L493.34 9.12L493.05 9.63L493.34 10.13L493.92 10.13L494.21 9.63L493.92 9.12Z"/><path d="M509.89 9.63L509.60 9.12L509.01 9.12L508.72 9.63L509.01 10.13L509.60 10.13L509.89 9.63L509.60 9.12Z"/><path d="M525.57 9.63L525.28 9.12L524.69 9.12L524.40 9.63L524.69 10.13L525.28 10.13L525.57 9.63L525.28 9.12Z"/><path d="M541.24 9.63L540.95 9.12L540.37 9.12L540.08 9.63L540.37 10.13L540.95 10.13L541.24 9.63L540.95 9.12Z"/></g><path d="M148.73 166.18L305.50 244.45" stroke="#3c50f5" stroke-width="3.69" stroke-dasharray="13.50 5.85" fill="none"/><rect x="62.50" y="1.80" width="486.00" height="485.30" fill="none" stroke="#000" stroke-width="1.48" stroke-linejoin="miter"/><g fill="#ffe600"><circle cx="148.73" cy="166.18" r="2.75"/><circle cx="156.56" cy="174.00" r="2.75"/><circle cx="164.40" cy="181.83" r="2.75"/><circle cx="172.24" cy="189.66" r="2.75"/><circle cx="180.08" cy="197.49" r="2.75"/><circle cx="187.92" cy="205.31" r="2.75"/><circle cx="195.76" cy="213.14" r="2.75"/><circle cx="203.60" cy="220.97" r="2.75"/><circle cx="211.44" cy="228.80" r="2.75"/><circle cx="219.27" cy="236.62" r="2.75"/><circle cx="227.11" cy="244.45" r="2.75"/><circle cx="234.95" cy="244.45" r="2.75"/><circle cx="242.79" cy="244.45" r="2.75"/><circle cx="250.63" cy="244.45" r="2.75"/><circle cx="258.47" cy="244.45" r="2.75"/><circle cx="266.31" cy="244.45" r="2.75"/><circle cx="274.15" cy="244.45" r="2.75"/><circle cx="281.98" cy="244.45" r="2.75"/><circle cx="289.82" cy="244.45" r="2.75"/></g><circle cx="148.73" cy="166.18" r="3.70" fill="red"/><circle cx="305.50" cy="244.45" r="5.50" fill="#000"/><defs><linearGradient id="cbg" x1="0" y1="1" x2="0" y2="0"><stop offset="0.000" stop-color="#484040"/><stop offset="0.025" stop-color="#544040"/><stop offset="0.050" stop-color="#5f4040"/><stop offset="0.075" stop-color="#6d4040"/><stop offset="0.100" stop-color="#794040"/><stop offset="0.125" stop-color="#874040"/><stop offset="0.150" stop-color="#934040"/><stop offset="0.175" stop-color="#9e4040"/><stop offset="0.200" stop-color="#ac4040"/><stop offset="0.225" stop-color="#b84040"/><stop offset="0.250" stop-color="#c64040"/><stop offset="0.275" stop-color="#d24040"/><stop offset="0.300" stop-color="#dd4040"/><stop offset="0.325" stop-color="#eb4040"/><stop offset="0.350" stop-color="#f74040"/><stop offset="0.375" stop-color="#ff4540"/><stop offset="0.400" stop-color="#ff5140"/><stop offset="0.425" stop-color="#ff5d40"/><stop offset="0.450" stop-color="#ff6b40"/><stop offset="0.475" stop-color="#ff7740"/><stop offset="0.500" stop-color="#ff8440"/><stop offset="0.525" stop-color="#ff9040"/><stop offset="0.550" stop-color="#ff9c40"/><stop offset="0.575" stop-color="#ffaa40"/><stop offset="0.600" stop-color="#ffb640"/><stop offset="0.625" stop-color="#ffc340"/><stop offset="0.650" stop-color="#ffcf40"/><stop offset="0.675" stop-color="#ffdb40"/><stop offset="0.700" stop-color="#ffe940"/><stop offset="0.725" stop-color="#fff540"/><stop offset="0.750" stop-color="#ffff45"/><stop offset="0.775" stop-color="#ffff57"/><stop offset="0.800" stop-color="#ffff68"/><stop offset="0.825" stop-color="#ffff7d"/><stop offset="0.850" stop-color="#ffff8f"/><stop offset="0.875" stop-color="#ffffa3"/><stop offset="0.900" stop-color="#ffffb5"/><stop offset="0.925" stop-color="#ffffc7"/><stop offset="0.950" stop-color="#ffffdc"/><stop offset="0.975" stop-color="#ffffed"/><stop offset="1.000" stop-color="#ffffff"/></linearGradient></defs><rect x="581.00" y="1.65" width="25.10" height="485.40" fill="url(#cbg)" stroke="#000" stroke-width="1.48"/><path d="M70.34 487.10v7M148.73 487.10v7M227.11 487.10v7M305.50 487.10v7M383.89 487.10v7M462.27 487.10v7M540.66 487.10v7M62.50 479.27h-6.4M62.50 401.00h-6.4M62.50 322.72h-6.4M62.50 244.45h-6.4M62.50 166.18h-6.4M62.50 87.90h-6.4M62.50 9.63h-6.4M606.10 463.71h6.4M606.10 405.37h6.4M606.10 347.02h6.4M606.10 288.68h6.4M606.10 230.34h6.4M606.10 171.99h6.4M606.10 113.65h6.4M606.10 55.30h6.4" stroke="#000" stroke-width="1.3" fill="none"/><g font-family="DejaVu Sans, sans-serif" font-size="18.47" fill="#000"><text transform="translate(70.34 514.28) scale(0.980 1.090)" text-anchor="middle">0</text><text transform="translate(148.73 514.28) scale(0.980 1.090)" text-anchor="middle">5</text><text transform="translate(227.12 514.28) scale(0.980 1.090)" text-anchor="middle">10</text><text transform="translate(305.50 514.28) scale(0.980 1.090)" text-anchor="middle">15</text><text transform="translate(383.89 514.28) scale(0.980 1.090)" text-anchor="middle">20</text><text transform="translate(462.28 514.28) scale(0.980 1.090)" text-anchor="middle">25</text><text transform="translate(540.67 514.28) scale(0.980 1.090)" text-anchor="middle">30</text><text transform="translate(305.50 540.74) scale(0.990 1.090)" text-anchor="middle">X (pixels)</text><text transform="translate(49.57 486.70) scale(0.980 1.090)" text-anchor="end">0</text><text transform="translate(49.57 408.42) scale(0.980 1.090)" text-anchor="end">5</text><text transform="translate(49.57 330.15) scale(0.980 1.090)" text-anchor="end">10</text><text transform="translate(49.57 251.87) scale(0.980 1.090)" text-anchor="end">15</text><text transform="translate(49.57 173.60) scale(0.980 1.090)" text-anchor="end">20</text><text transform="translate(49.57 95.32) scale(0.980 1.090)" text-anchor="end">25</text><text transform="translate(49.57 17.05) scale(0.980 1.090)" text-anchor="end">30</text><text transform="translate(14.83 243.85) rotate(-90) scale(0.985 1.090)" text-anchor="middle">Y (pixels)</text><text transform="translate(619.04 471.24) scale(0.980 1.090)" text-anchor="start">0.0</text><text transform="translate(619.04 412.89) scale(0.980 1.090)" text-anchor="start">2.5</text><text transform="translate(619.04 354.55) scale(0.980 1.090)" text-anchor="start">5.0</text><text transform="translate(619.04 296.20) scale(0.980 1.090)" text-anchor="start">7.5</text><text transform="translate(619.04 237.86) scale(0.980 1.090)" text-anchor="start">10.0</text><text transform="translate(619.04 179.51) scale(0.980 1.090)" text-anchor="start">12.5</text><text transform="translate(619.04 121.17) scale(0.980 1.090)" text-anchor="start">15.0</text><text transform="translate(619.04 62.82) scale(0.980 1.090)" text-anchor="start">17.5</text><text transform="translate(680.39 244.80) rotate(-90) scale(0.988 1.090)" text-anchor="middle">Integration Field Value</text></g><rect x="296.00" y="10.90" width="243.00" height="143.70" rx="3.7" fill="#fff" fill-opacity="0.8" stroke="#ccc" stroke-opacity="0.8" stroke-width="1.48"/><path d="M303.10 25.85H340.00" stroke="#fff" stroke-width="2.77" stroke-linecap="square"/><circle cx="321.55" cy="25.85" r="4.85" fill="red" stroke="#fff" stroke-width="1.85"/><path d="M303.10 53.52H340.00" stroke="#fff" stroke-width="2.77" stroke-linecap="square"/><circle cx="321.55" cy="53.52" r="4.85" fill="#000" stroke="#fff" stroke-width="1.85"/><path d="M303.10 81.19H340.00" stroke="#fff" stroke-width="2.77" stroke-linecap="square"/><circle cx="321.55" cy="81.19" r="4.85" fill="#ffe600" stroke="#fff" stroke-width="1.85"/><path d="M303.10 108.86H340.00" stroke="#3c50f5" stroke-width="3.69" stroke-dasharray="13.67 5.91"/><path d="M317.00 135.93H323.30L322.70 134.68L327.30 136.53L322.70 138.38L323.30 137.13L323.30 137.13H317.00Z"/><g font-family="DejaVu Sans, sans-serif" font-size="18.47"><text transform="translate(354.50 32.75) scale(0.99 1.090)">Start</text><text transform="translate(354.50 60.42) scale(0.99 1.090)">Goal</text><text transform="translate(354.50 88.09) scale(0.99 1.090)">Path point</text><text transform="translate(354.50 115.76) scale(0.99 1.090)">Direct path</text><text transform="translate(354.50 143.43) scale(0.99 1.090)">Flow Field Direction</text></g></svg></body></html>
